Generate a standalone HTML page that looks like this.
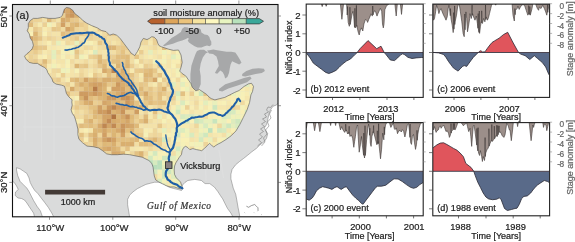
<!DOCTYPE html><html><head><meta charset="utf-8"><style>html,body{margin:0;padding:0;background:#fff;overflow:hidden}svg{display:block}</style></head><body><svg width="575" height="242" viewBox="0 0 575 242" font-family="'Liberation Sans', sans-serif">
<rect width="575" height="242" fill="#fff"/>
<clipPath id="mapclip"><rect x="12.5" y="4.5" width="265.5" height="212.3"/></clipPath>
<clipPath id="basin"><path d="M27.2,30.8 L28.3,27.7 L28.3,23.6 L30.3,20.5 L33.4,18.4 L37.6,18.4 L42.7,17.4 L48.9,18.4 L55.1,18.4 L60.3,17.4 L62.4,15.3 L63.4,12.2 L64.4,9.1 L66.5,7.5 L69.6,8.1 L72.7,10.2 L74.8,13.6 L79.6,17.2 L83.2,20.8 L86.8,23.2 L91.6,25.6 L97.6,28 L101.2,30.4 L106,31.6 L109.6,35.2 L113.2,34 L116.8,35.2 L120.4,38.8 L124,43.6 L127.6,48.4 L131.2,53.2 L134.7,55.6 L137.4,51.6 L139.8,46.8 L141,42 L143.4,38.4 L147,39.6 L149.4,38.4 L151.8,36.7 L154.2,37.2 L156.6,39.6 L157.8,43.2 L159,45.6 L161.4,46.8 L165,48 L168.6,49.2 L173.4,50.4 L178.5,50 L181,55 L182.2,62.4 L181,67.4 L179.7,71.1 L182.2,73.6 L185.9,76.1 L188.4,79.8 L190.9,83.5 L192.2,87.2 L195.8,90.8 L199.4,89.6 L203,92 L206.6,94.4 L209,97 L211.2,98.6 L214.9,99.9 L219.9,98.6 L224.8,97.4 L229.8,94.9 L234.7,92.4 L239.1,90.5 L244.2,86.4 L248.4,83.9 L251.5,83.3 L253.5,86.4 L252.5,91.6 L250.9,94.9 L249.6,102.4 L247.1,109.8 L243.4,117.3 L239.7,124.7 L236,130.9 L231,135.9 L226,139.5 L221,142.6 L218.2,144 L215.7,145.5 L213.6,147.1 L211.5,145 L209.5,143.4 L207.4,145.5 L204.8,148.1 L201.7,150.7 L199.6,150.2 L196.5,149.6 L192.9,148.6 L189.8,149.6 L187.8,147.6 L185.7,146.3 L183.6,147.6 L182.1,150.7 L181.5,154.5 L179.3,157.3 L177.4,160.4 L175.8,162.9 L174.6,166 L174.2,170 L174.5,174.3 L176.3,177.8 L178.9,180.4 L180.6,182.1 L181.5,185 L182.8,188.2 L180.9,188.8 L178,188.2 L174.1,186.9 L170.2,186.9 L166.3,185.7 L162.4,183.8 L158.6,181.8 L155.7,179.9 L154.3,176 L153.7,172.1 L153.1,167.3 L151.8,163.4 L148.9,160.5 L145,158.6 L142.2,157.2 L136,156 L129.8,154.7 L123.6,154.2 L117.4,154.7 L111.2,154.7 L106.7,153.9 L102.6,150.7 L98.6,148 L93.2,146.7 L87,146.1 L82.5,142.7 L79,139.3 L77.9,134.8 L77.9,129.1 L76.8,124.5 L75.6,120 L74.5,116.6 L72.2,113.2 L71.1,109.8 L72.2,105.2 L71.8,102 L72.1,99.7 L70.6,98.6 L68.5,96.5 L66.4,93.4 L65.4,89.3 L64.4,86.2 L61.3,85.1 L56.1,84.1 L53,82 L52,78.9 L49.9,75.8 L47.8,72.7 L46.8,69.6 L44.7,67.6 L40.6,65.5 L37.5,63.4 L33.4,63.4 L29.2,62.4 L26.1,59.3 L24.5,56.2 L27.2,53.5 L30.3,51 L32.4,48.4 L33.4,45.3 L32.4,41.2 L30.3,38.1 L29.3,33.9Z"/></clipPath>
<g clip-path="url(#mapclip)">
<rect x="12.5" y="4.5" width="265.5" height="212.3" fill="#dadbdb"/>
<path d="M129.7,217.5 L128.7,211.2 L127.6,204.8 L127.6,199.4 L129.7,195.1 L133,191.9 L137.3,188.7 L141.6,186.5 L145.9,184.4 L150.2,183.3 L154.5,182.2 L158.8,182.2 L163.1,183.3 L166,185.3 L168.9,187.1 L173.6,188.5 L178.3,189.6 L181.5,190.5 L183,188.5 L181.5,186.8 L183,184.5 L185,182.4 L187.8,180.5 L194.8,179.4 L201.4,180.5 L205,183.6 L209.7,183.6 L214.4,187.1 L218,191.8 L220.3,195.4 L222.7,198.9 L225,203.6 L227.4,208.3 L230.9,213.1 L233.3,217.5Z" fill="#fff" stroke="#777" stroke-width="0.5"/>
<path d="M239.9,217.5 L239.2,213.1 L238,207.2 L236.8,200.1 L235.7,194.2 L233.3,188.3 L232.1,183.6 L230.9,178.9 L230.9,174.2 L232.1,169.4 L235.7,164.7 L239.5,161.5 L243.5,158.5 L247.3,155.5 L251.8,151.8 L256.4,148.4 L259.8,145 L264.3,141.6 L266.6,138.2 L267.7,133.6 L264.3,128 L266.6,124.5 L267.7,120 L268.8,114.5 L269.8,111.4 L270.9,109.3 L273,106.2 L276,105.2 L278.5,103 L278.5,217.5Z" fill="#fff" stroke="#777" stroke-width="0.5"/>
<path d="M12,181 L14.3,182.5 L16.5,185.9 L18.3,189.5 L15.5,192 L15.2,195.5 L18,198 L21.5,198.5 L24.5,200 L26.8,202.9 L29,206.3 L31.3,209.7 L33.6,213.1 L34.7,217.5 L12,217.5Z" fill="#fff" stroke="#777" stroke-width="0.5"/>
<path d="M16.5,167.7 L20,168.8 L23.4,171.1 L26.8,173.4 L29,177.9 L30.2,182.5 L32.5,187 L34.7,190.4 L38.1,193.8 L41.5,198.4 L45,202.9 L48.4,207.5 L51.8,213.1 L54,217.5 L42.7,217.5 L40.4,210.9 L37,206.3 L33.6,200.6 L31.3,196.1 L29,191.5 L26.8,188.1 L23.4,184.7 L20,181.3 L17.7,175.6 L16.5,170Z" fill="#fff" stroke="#777" stroke-width="0.5"/>
<path d="M273,104.5 L270.5,107.5 L268,107 L266.5,110 L268.5,112 L264.5,114 L266.5,117 L262.5,119 L265.5,121.5 L261.5,124 L264.5,126.5 L260.5,129 L263.5,131.5 L259.5,134 L262.5,137 L258.5,140 L261.5,142.5 L257.5,146 M271.5,110 L269.5,114 L271,118 L267.5,122 L269,126 L265.5,130 L267,134 L263.5,138 L265,142 L261.5,146" fill="none" stroke="#6a6a6a" stroke-width="0.5"/>
<path d="M246.4,206.2 L248.6,207.3 L251.4,205.6 L254.7,204.5 L256.4,206.2 L258,207.8 L258,210.6 L257.5,211.2" fill="none" stroke="#555" stroke-width="0.6"/>
<path d="M244.5,212.5 l0.6,0.6 M254,212.5 l0.6,0.6 M261.2,214.3 l0.6,0.6" fill="none" stroke="#777" stroke-width="0.6"/>
<line x1="205" y1="147.5" x2="206" y2="181" stroke="#e2e3e3" stroke-width="0.5"/>
<line x1="219" y1="150" x2="223.5" y2="178" stroke="#e2e3e3" stroke-width="0.5"/>
<line x1="25" y1="60" x2="25" y2="141" stroke="#e2e3e3" stroke-width="0.5"/>
<line x1="41.5" y1="66" x2="41.5" y2="160" stroke="#e2e3e3" stroke-width="0.5"/>
<line x1="54" y1="85" x2="54" y2="160" stroke="#e2e3e3" stroke-width="0.5"/>
<line x1="12.5" y1="87.5" x2="60" y2="87.5" stroke="#e2e3e3" stroke-width="0.5"/>
<line x1="23" y1="127" x2="72" y2="127" stroke="#e2e3e3" stroke-width="0.5"/>
<path d="M163,45.5 L166.7,42.4 L171.6,38.1 L176.6,35 L180.9,31.9 L182.2,28.8 L184.6,27 L187.7,27.6 L190.8,29.4 L195.2,29.4 L198.9,28.2 L200.8,29.4 L201.4,32.5 L204.5,34.4 L207.6,35 L209.4,36.9 L210,39.3 L211.3,41.8 L211.3,44.9 L209.4,46.2 L207,45.5 L204.5,46.2 L201.4,47.4 L197.7,47.4 L194.6,46.2 L191.5,44.3 L189,42.4 L187.7,40.6 L189,38.7 L187.7,38.1 L185.3,39.3 L182.2,40.6 L177.8,41.8 L172.9,43.7 L167.9,44.9 L164.2,46.2Z" fill="#a7a8a9"/>
<path d="M208,52.5 L205.9,53.3 L202.8,57.4 L200.7,63.6 L199.7,69.8 L200.7,76 L200.7,84.3 L198.6,89.5 L195.5,91 L193.5,89.5 L191.4,85.4 L190.4,80.2 L190.4,74 L191.4,65.7 L193.5,59.5 L195.5,54 L197,51 L200,49.8 L204,49.8Z" fill="#a7a8a9"/>
<path d="M207,50.5 L209.4,50.3 L213.3,49.5 L217.2,50.3 L221.9,51.1 L226.6,51.8 L231.3,51.8 L235.3,52.6 L237.6,55.8 L240,59.7 L241.5,62.8 L239.2,64.4 L235.3,62.8 L232.1,61.2 L230.6,64.4 L229.8,68.3 L229,73 L227.4,76.9 L225.1,78.5 L224.3,75.3 L222.7,72.2 L220.4,70.6 L217.2,73.8 L214.9,73 L216.5,69.9 L218.8,66 L218,61.2 L216.5,56.5 L213,54 L209,53.5Z" fill="#a7a8a9"/>
<path d="M219,89 L225.3,84.3 L234.6,81.2 L244,78.1 L250.1,76.5 L251.6,78.5 L247,82.2 L237.7,85.5 L228.4,88.6 L222.2,91.5 L219,90.8Z" fill="#a7a8a9"/>
<path d="M242.2,74 L246.3,70.9 L252.5,68.8 L258.7,68.2 L263.9,68.8 L264.9,70.9 L261.8,73 L255.6,74 L249.4,75.6 L245.3,76.5 L242.2,76.1Z" fill="#a7a8a9"/>
<g clip-path="url(#basin)"><rect x="24" y="4" width="4.75" height="4.75" fill="#e6c688"/><rect x="28.6" y="4" width="4.75" height="4.75" fill="#edd499"/><rect x="33.2" y="4" width="4.75" height="4.75" fill="#e7c789"/><rect x="37.8" y="4" width="4.75" height="4.75" fill="#e6c587"/><rect x="42.4" y="4" width="4.75" height="4.75" fill="#dfba7a"/><rect x="47" y="4" width="4.75" height="4.75" fill="#e7c789"/><rect x="51.6" y="4" width="4.75" height="4.75" fill="#f2dfa5"/><rect x="56.2" y="4" width="4.75" height="4.75" fill="#e9cb8e"/><rect x="60.8" y="4" width="4.75" height="4.75" fill="#e0bc7c"/><rect x="65.4" y="4" width="4.75" height="4.75" fill="#cf9d61"/><rect x="70" y="4" width="4.75" height="4.75" fill="#d5a769"/><rect x="74.6" y="4" width="4.75" height="4.75" fill="#d9ae6e"/><rect x="79.2" y="4" width="4.75" height="4.75" fill="#d1a063"/><rect x="83.8" y="4" width="4.75" height="4.75" fill="#f0daa0"/><rect x="88.4" y="4" width="4.75" height="4.75" fill="#edd499"/><rect x="93" y="4" width="4.75" height="4.75" fill="#edd498"/><rect x="97.6" y="4" width="4.75" height="4.75" fill="#d8ac6d"/><rect x="102.2" y="4" width="4.75" height="4.75" fill="#d7ab6c"/><rect x="106.8" y="4" width="4.75" height="4.75" fill="#e0bb7b"/><rect x="111.4" y="4" width="4.75" height="4.75" fill="#e4c284"/><rect x="116" y="4" width="4.75" height="4.75" fill="#ebd094"/><rect x="120.6" y="4" width="4.75" height="4.75" fill="#e9ca8d"/><rect x="125.2" y="4" width="4.75" height="4.75" fill="#edd499"/><rect x="129.8" y="4" width="4.75" height="4.75" fill="#e2bf80"/><rect x="134.4" y="4" width="4.75" height="4.75" fill="#ebd094"/><rect x="139" y="4" width="4.75" height="4.75" fill="#ecd296"/><rect x="143.6" y="4" width="4.75" height="4.75" fill="#e2bf80"/><rect x="148.2" y="4" width="4.75" height="4.75" fill="#f5e7ad"/><rect x="152.8" y="4" width="4.75" height="4.75" fill="#edd59a"/><rect x="157.4" y="4" width="4.75" height="4.75" fill="#f5e5ac"/><rect x="162" y="4" width="4.75" height="4.75" fill="#f2dfa6"/><rect x="166.6" y="4" width="4.75" height="4.75" fill="#f7eab1"/><rect x="171.2" y="4" width="4.75" height="4.75" fill="#f9efb5"/><rect x="175.8" y="4" width="4.75" height="4.75" fill="#f7f0b7"/><rect x="180.4" y="4" width="4.75" height="4.75" fill="#edf1ba"/><rect x="185" y="4" width="4.75" height="4.75" fill="#f2f1b8"/><rect x="189.6" y="4" width="4.75" height="4.75" fill="#f8eeb4"/><rect x="194.2" y="4" width="4.75" height="4.75" fill="#f6e8ae"/><rect x="198.8" y="4" width="4.75" height="4.75" fill="#f8edb3"/><rect x="203.4" y="4" width="4.75" height="4.75" fill="#ddecbd"/><rect x="208" y="4" width="4.75" height="4.75" fill="#f6e9b0"/><rect x="212.6" y="4" width="4.75" height="4.75" fill="#f2f1b8"/><rect x="217.2" y="4" width="4.75" height="4.75" fill="#f0f1b9"/><rect x="221.8" y="4" width="4.75" height="4.75" fill="#f3e1a8"/><rect x="226.4" y="4" width="4.75" height="4.75" fill="#f5f0b7"/><rect x="231" y="4" width="4.75" height="4.75" fill="#dbecbd"/><rect x="235.6" y="4" width="4.75" height="4.75" fill="#efd89d"/><rect x="240.2" y="4" width="4.75" height="4.75" fill="#f9efb5"/><rect x="244.8" y="4" width="4.75" height="4.75" fill="#f7f0b7"/><rect x="249.4" y="4" width="4.75" height="4.75" fill="#f6e9b0"/><rect x="254" y="4" width="4.75" height="4.75" fill="#eff1ba"/><rect x="24" y="8.6" width="4.75" height="4.75" fill="#e9cb8e"/><rect x="28.6" y="8.6" width="4.75" height="4.75" fill="#dbb271"/><rect x="33.2" y="8.6" width="4.75" height="4.75" fill="#f0dba1"/><rect x="37.8" y="8.6" width="4.75" height="4.75" fill="#efd99e"/><rect x="42.4" y="8.6" width="4.75" height="4.75" fill="#f2dfa6"/><rect x="47" y="8.6" width="4.75" height="4.75" fill="#f5e6ad"/><rect x="51.6" y="8.6" width="4.75" height="4.75" fill="#edd498"/><rect x="56.2" y="8.6" width="4.75" height="4.75" fill="#e7c78a"/><rect x="60.8" y="8.6" width="4.75" height="4.75" fill="#cb975d"/><rect x="65.4" y="8.6" width="4.75" height="4.75" fill="#d5a769"/><rect x="70" y="8.6" width="4.75" height="4.75" fill="#cd995f"/><rect x="74.6" y="8.6" width="4.75" height="4.75" fill="#d3a467"/><rect x="79.2" y="8.6" width="4.75" height="4.75" fill="#d5a669"/><rect x="83.8" y="8.6" width="4.75" height="4.75" fill="#deb878"/><rect x="88.4" y="8.6" width="4.75" height="4.75" fill="#e4c283"/><rect x="93" y="8.6" width="4.75" height="4.75" fill="#f4e2a9"/><rect x="97.6" y="8.6" width="4.75" height="4.75" fill="#d5a769"/><rect x="102.2" y="8.6" width="4.75" height="4.75" fill="#dab070"/><rect x="106.8" y="8.6" width="4.75" height="4.75" fill="#ebcf93"/><rect x="111.4" y="8.6" width="4.75" height="4.75" fill="#f4e3aa"/><rect x="116" y="8.6" width="4.75" height="4.75" fill="#eed59a"/><rect x="120.6" y="8.6" width="4.75" height="4.75" fill="#d6a96a"/><rect x="125.2" y="8.6" width="4.75" height="4.75" fill="#d09e62"/><rect x="129.8" y="8.6" width="4.75" height="4.75" fill="#ecd195"/><rect x="134.4" y="8.6" width="4.75" height="4.75" fill="#e1bd7e"/><rect x="139" y="8.6" width="4.75" height="4.75" fill="#ddb676"/><rect x="143.6" y="8.6" width="4.75" height="4.75" fill="#f1dca2"/><rect x="148.2" y="8.6" width="4.75" height="4.75" fill="#f2dea5"/><rect x="152.8" y="8.6" width="4.75" height="4.75" fill="#eace91"/><rect x="157.4" y="8.6" width="4.75" height="4.75" fill="#eed69b"/><rect x="162" y="8.6" width="4.75" height="4.75" fill="#f8ecb3"/><rect x="166.6" y="8.6" width="4.75" height="4.75" fill="#d5eabe"/><rect x="171.2" y="8.6" width="4.75" height="4.75" fill="#edf1ba"/><rect x="175.8" y="8.6" width="4.75" height="4.75" fill="#eff1ba"/><rect x="180.4" y="8.6" width="4.75" height="4.75" fill="#eef1ba"/><rect x="185" y="8.6" width="4.75" height="4.75" fill="#f2e0a7"/><rect x="189.6" y="8.6" width="4.75" height="4.75" fill="#dcecbd"/><rect x="194.2" y="8.6" width="4.75" height="4.75" fill="#e4eebc"/><rect x="198.8" y="8.6" width="4.75" height="4.75" fill="#eff1ba"/><rect x="203.4" y="8.6" width="4.75" height="4.75" fill="#efd99e"/><rect x="208" y="8.6" width="4.75" height="4.75" fill="#f7ebb2"/><rect x="212.6" y="8.6" width="4.75" height="4.75" fill="#e7efbb"/><rect x="217.2" y="8.6" width="4.75" height="4.75" fill="#f1dca2"/><rect x="221.8" y="8.6" width="4.75" height="4.75" fill="#f8f0b6"/><rect x="226.4" y="8.6" width="4.75" height="4.75" fill="#e2eebc"/><rect x="231" y="8.6" width="4.75" height="4.75" fill="#f4e3aa"/><rect x="235.6" y="8.6" width="4.75" height="4.75" fill="#d4eabe"/><rect x="240.2" y="8.6" width="4.75" height="4.75" fill="#eef1ba"/><rect x="244.8" y="8.6" width="4.75" height="4.75" fill="#f8f0b6"/><rect x="249.4" y="8.6" width="4.75" height="4.75" fill="#f1f1b9"/><rect x="254" y="8.6" width="4.75" height="4.75" fill="#ecf1ba"/><rect x="24" y="13.2" width="4.75" height="4.75" fill="#edd498"/><rect x="28.6" y="13.2" width="4.75" height="4.75" fill="#f4e4ab"/><rect x="33.2" y="13.2" width="4.75" height="4.75" fill="#e6c688"/><rect x="37.8" y="13.2" width="4.75" height="4.75" fill="#eacc8f"/><rect x="42.4" y="13.2" width="4.75" height="4.75" fill="#f6e9b0"/><rect x="47" y="13.2" width="4.75" height="4.75" fill="#f2dea4"/><rect x="51.6" y="13.2" width="4.75" height="4.75" fill="#e7c789"/><rect x="56.2" y="13.2" width="4.75" height="4.75" fill="#f1dca2"/><rect x="60.8" y="13.2" width="4.75" height="4.75" fill="#ebd094"/><rect x="65.4" y="13.2" width="4.75" height="4.75" fill="#d1a064"/><rect x="70" y="13.2" width="4.75" height="4.75" fill="#ca965c"/><rect x="74.6" y="13.2" width="4.75" height="4.75" fill="#dab170"/><rect x="79.2" y="13.2" width="4.75" height="4.75" fill="#dfba7a"/><rect x="83.8" y="13.2" width="4.75" height="4.75" fill="#e3c081"/><rect x="88.4" y="13.2" width="4.75" height="4.75" fill="#f4e4ab"/><rect x="93" y="13.2" width="4.75" height="4.75" fill="#e2be7f"/><rect x="97.6" y="13.2" width="4.75" height="4.75" fill="#f4e3aa"/><rect x="102.2" y="13.2" width="4.75" height="4.75" fill="#dcb473"/><rect x="106.8" y="13.2" width="4.75" height="4.75" fill="#e1bd7d"/><rect x="111.4" y="13.2" width="4.75" height="4.75" fill="#eed69b"/><rect x="116" y="13.2" width="4.75" height="4.75" fill="#f2dfa5"/><rect x="120.6" y="13.2" width="4.75" height="4.75" fill="#f0daa0"/><rect x="125.2" y="13.2" width="4.75" height="4.75" fill="#ecd195"/><rect x="129.8" y="13.2" width="4.75" height="4.75" fill="#eace91"/><rect x="134.4" y="13.2" width="4.75" height="4.75" fill="#eace91"/><rect x="139" y="13.2" width="4.75" height="4.75" fill="#eed59a"/><rect x="143.6" y="13.2" width="4.75" height="4.75" fill="#e7c88a"/><rect x="148.2" y="13.2" width="4.75" height="4.75" fill="#ebd094"/><rect x="152.8" y="13.2" width="4.75" height="4.75" fill="#eed59a"/><rect x="157.4" y="13.2" width="4.75" height="4.75" fill="#ecd296"/><rect x="162" y="13.2" width="4.75" height="4.75" fill="#f9f0b6"/><rect x="166.6" y="13.2" width="4.75" height="4.75" fill="#eef1ba"/><rect x="171.2" y="13.2" width="4.75" height="4.75" fill="#cde7bd"/><rect x="175.8" y="13.2" width="4.75" height="4.75" fill="#f1f1b9"/><rect x="180.4" y="13.2" width="4.75" height="4.75" fill="#f8eeb4"/><rect x="185" y="13.2" width="4.75" height="4.75" fill="#f8efb5"/><rect x="189.6" y="13.2" width="4.75" height="4.75" fill="#f6f0b7"/><rect x="194.2" y="13.2" width="4.75" height="4.75" fill="#e5efbc"/><rect x="198.8" y="13.2" width="4.75" height="4.75" fill="#f9efb5"/><rect x="203.4" y="13.2" width="4.75" height="4.75" fill="#f1f1b9"/><rect x="208" y="13.2" width="4.75" height="4.75" fill="#d0e8bd"/><rect x="212.6" y="13.2" width="4.75" height="4.75" fill="#eace92"/><rect x="217.2" y="13.2" width="4.75" height="4.75" fill="#f5e6ac"/><rect x="221.8" y="13.2" width="4.75" height="4.75" fill="#f2f1b8"/><rect x="226.4" y="13.2" width="4.75" height="4.75" fill="#f0f1b9"/><rect x="231" y="13.2" width="4.75" height="4.75" fill="#f3f1b8"/><rect x="235.6" y="13.2" width="4.75" height="4.75" fill="#f8eeb4"/><rect x="240.2" y="13.2" width="4.75" height="4.75" fill="#ecf0ba"/><rect x="244.8" y="13.2" width="4.75" height="4.75" fill="#f2f1b9"/><rect x="249.4" y="13.2" width="4.75" height="4.75" fill="#f8edb3"/><rect x="254" y="13.2" width="4.75" height="4.75" fill="#c5e4bc"/><rect x="24" y="17.8" width="4.75" height="4.75" fill="#f0dba0"/><rect x="28.6" y="17.8" width="4.75" height="4.75" fill="#e9ca8d"/><rect x="33.2" y="17.8" width="4.75" height="4.75" fill="#ecd296"/><rect x="37.8" y="17.8" width="4.75" height="4.75" fill="#edd397"/><rect x="42.4" y="17.8" width="4.75" height="4.75" fill="#f3e1a8"/><rect x="47" y="17.8" width="4.75" height="4.75" fill="#deb777"/><rect x="51.6" y="17.8" width="4.75" height="4.75" fill="#edd599"/><rect x="56.2" y="17.8" width="4.75" height="4.75" fill="#f3e2a9"/><rect x="60.8" y="17.8" width="4.75" height="4.75" fill="#d6a96b"/><rect x="65.4" y="17.8" width="4.75" height="4.75" fill="#dbb171"/><rect x="70" y="17.8" width="4.75" height="4.75" fill="#e7c78a"/><rect x="74.6" y="17.8" width="4.75" height="4.75" fill="#e8c98c"/><rect x="79.2" y="17.8" width="4.75" height="4.75" fill="#efd89e"/><rect x="83.8" y="17.8" width="4.75" height="4.75" fill="#d4a568"/><rect x="88.4" y="17.8" width="4.75" height="4.75" fill="#e8c98c"/><rect x="93" y="17.8" width="4.75" height="4.75" fill="#ebd094"/><rect x="97.6" y="17.8" width="4.75" height="4.75" fill="#f1dca2"/><rect x="102.2" y="17.8" width="4.75" height="4.75" fill="#f3e1a8"/><rect x="106.8" y="17.8" width="4.75" height="4.75" fill="#cf9d61"/><rect x="111.4" y="17.8" width="4.75" height="4.75" fill="#f2dfa6"/><rect x="116" y="17.8" width="4.75" height="4.75" fill="#dab171"/><rect x="120.6" y="17.8" width="4.75" height="4.75" fill="#eed79c"/><rect x="125.2" y="17.8" width="4.75" height="4.75" fill="#dab070"/><rect x="129.8" y="17.8" width="4.75" height="4.75" fill="#eace92"/><rect x="134.4" y="17.8" width="4.75" height="4.75" fill="#f3e0a7"/><rect x="139" y="17.8" width="4.75" height="4.75" fill="#e7c88b"/><rect x="143.6" y="17.8" width="4.75" height="4.75" fill="#ebce92"/><rect x="148.2" y="17.8" width="4.75" height="4.75" fill="#efd99f"/><rect x="152.8" y="17.8" width="4.75" height="4.75" fill="#eacd91"/><rect x="157.4" y="17.8" width="4.75" height="4.75" fill="#ebd094"/><rect x="162" y="17.8" width="4.75" height="4.75" fill="#eef1ba"/><rect x="166.6" y="17.8" width="4.75" height="4.75" fill="#e2eebc"/><rect x="171.2" y="17.8" width="4.75" height="4.75" fill="#f9efb6"/><rect x="175.8" y="17.8" width="4.75" height="4.75" fill="#bfe1bc"/><rect x="180.4" y="17.8" width="4.75" height="4.75" fill="#f5e5ac"/><rect x="185" y="17.8" width="4.75" height="4.75" fill="#e5efbc"/><rect x="189.6" y="17.8" width="4.75" height="4.75" fill="#f9f0b6"/><rect x="194.2" y="17.8" width="4.75" height="4.75" fill="#f4f0b8"/><rect x="198.8" y="17.8" width="4.75" height="4.75" fill="#ebf0bb"/><rect x="203.4" y="17.8" width="4.75" height="4.75" fill="#f3f1b8"/><rect x="208" y="17.8" width="4.75" height="4.75" fill="#edf1ba"/><rect x="212.6" y="17.8" width="4.75" height="4.75" fill="#f3e1a7"/><rect x="217.2" y="17.8" width="4.75" height="4.75" fill="#f3e1a8"/><rect x="221.8" y="17.8" width="4.75" height="4.75" fill="#edf1ba"/><rect x="226.4" y="17.8" width="4.75" height="4.75" fill="#f6e7ae"/><rect x="231" y="17.8" width="4.75" height="4.75" fill="#f5e7ad"/><rect x="235.6" y="17.8" width="4.75" height="4.75" fill="#f3e1a8"/><rect x="240.2" y="17.8" width="4.75" height="4.75" fill="#dcecbd"/><rect x="244.8" y="17.8" width="4.75" height="4.75" fill="#eaf0bb"/><rect x="249.4" y="17.8" width="4.75" height="4.75" fill="#d7ebbe"/><rect x="254" y="17.8" width="4.75" height="4.75" fill="#f6e8ae"/><rect x="24" y="22.4" width="4.75" height="4.75" fill="#ecd195"/><rect x="28.6" y="22.4" width="4.75" height="4.75" fill="#e0bb7c"/><rect x="33.2" y="22.4" width="4.75" height="4.75" fill="#f0dba1"/><rect x="37.8" y="22.4" width="4.75" height="4.75" fill="#f6e9af"/><rect x="42.4" y="22.4" width="4.75" height="4.75" fill="#ebd094"/><rect x="47" y="22.4" width="4.75" height="4.75" fill="#f0f1b9"/><rect x="51.6" y="22.4" width="4.75" height="4.75" fill="#f7eab1"/><rect x="56.2" y="22.4" width="4.75" height="4.75" fill="#eace92"/><rect x="60.8" y="22.4" width="4.75" height="4.75" fill="#d1a064"/><rect x="65.4" y="22.4" width="4.75" height="4.75" fill="#edd397"/><rect x="70" y="22.4" width="4.75" height="4.75" fill="#dfb979"/><rect x="74.6" y="22.4" width="4.75" height="4.75" fill="#dbb372"/><rect x="79.2" y="22.4" width="4.75" height="4.75" fill="#e9cb8e"/><rect x="83.8" y="22.4" width="4.75" height="4.75" fill="#edd397"/><rect x="88.4" y="22.4" width="4.75" height="4.75" fill="#f7ecb2"/><rect x="93" y="22.4" width="4.75" height="4.75" fill="#e9cc8f"/><rect x="97.6" y="22.4" width="4.75" height="4.75" fill="#f7eab1"/><rect x="102.2" y="22.4" width="4.75" height="4.75" fill="#f8ecb3"/><rect x="106.8" y="22.4" width="4.75" height="4.75" fill="#f6e9af"/><rect x="111.4" y="22.4" width="4.75" height="4.75" fill="#e9cc8f"/><rect x="116" y="22.4" width="4.75" height="4.75" fill="#e2bf80"/><rect x="120.6" y="22.4" width="4.75" height="4.75" fill="#f1dda3"/><rect x="125.2" y="22.4" width="4.75" height="4.75" fill="#eacd90"/><rect x="129.8" y="22.4" width="4.75" height="4.75" fill="#eacd91"/><rect x="134.4" y="22.4" width="4.75" height="4.75" fill="#f4e3aa"/><rect x="139" y="22.4" width="4.75" height="4.75" fill="#e6c688"/><rect x="143.6" y="22.4" width="4.75" height="4.75" fill="#d2a265"/><rect x="148.2" y="22.4" width="4.75" height="4.75" fill="#e5c486"/><rect x="152.8" y="22.4" width="4.75" height="4.75" fill="#d6a96b"/><rect x="157.4" y="22.4" width="4.75" height="4.75" fill="#f3e0a7"/><rect x="162" y="22.4" width="4.75" height="4.75" fill="#f7ebb1"/><rect x="166.6" y="22.4" width="4.75" height="4.75" fill="#f7ecb2"/><rect x="171.2" y="22.4" width="4.75" height="4.75" fill="#f6f0b7"/><rect x="175.8" y="22.4" width="4.75" height="4.75" fill="#e7efbb"/><rect x="180.4" y="22.4" width="4.75" height="4.75" fill="#f5f0b8"/><rect x="185" y="22.4" width="4.75" height="4.75" fill="#daecbe"/><rect x="189.6" y="22.4" width="4.75" height="4.75" fill="#f7f0b7"/><rect x="194.2" y="22.4" width="4.75" height="4.75" fill="#e2eebc"/><rect x="198.8" y="22.4" width="4.75" height="4.75" fill="#d7eabe"/><rect x="203.4" y="22.4" width="4.75" height="4.75" fill="#d4eabe"/><rect x="208" y="22.4" width="4.75" height="4.75" fill="#f7ebb1"/><rect x="212.6" y="22.4" width="4.75" height="4.75" fill="#e6efbb"/><rect x="217.2" y="22.4" width="4.75" height="4.75" fill="#f0daa0"/><rect x="221.8" y="22.4" width="4.75" height="4.75" fill="#f5e6ad"/><rect x="226.4" y="22.4" width="4.75" height="4.75" fill="#efd99e"/><rect x="231" y="22.4" width="4.75" height="4.75" fill="#e1eebc"/><rect x="235.6" y="22.4" width="4.75" height="4.75" fill="#f4e4ab"/><rect x="240.2" y="22.4" width="4.75" height="4.75" fill="#f6f0b7"/><rect x="244.8" y="22.4" width="4.75" height="4.75" fill="#f8f0b6"/><rect x="249.4" y="22.4" width="4.75" height="4.75" fill="#f6f0b7"/><rect x="254" y="22.4" width="4.75" height="4.75" fill="#f7ecb2"/><rect x="24" y="27" width="4.75" height="4.75" fill="#ecd296"/><rect x="28.6" y="27" width="4.75" height="4.75" fill="#f6e9af"/><rect x="33.2" y="27" width="4.75" height="4.75" fill="#e8c98c"/><rect x="37.8" y="27" width="4.75" height="4.75" fill="#edd499"/><rect x="42.4" y="27" width="4.75" height="4.75" fill="#f7eab0"/><rect x="47" y="27" width="4.75" height="4.75" fill="#f4e2a9"/><rect x="51.6" y="27" width="4.75" height="4.75" fill="#e6c688"/><rect x="56.2" y="27" width="4.75" height="4.75" fill="#e8c98b"/><rect x="60.8" y="27" width="4.75" height="4.75" fill="#f0dba1"/><rect x="65.4" y="27" width="4.75" height="4.75" fill="#d3a366"/><rect x="70" y="27" width="4.75" height="4.75" fill="#ddb574"/><rect x="74.6" y="27" width="4.75" height="4.75" fill="#edd499"/><rect x="79.2" y="27" width="4.75" height="4.75" fill="#efd89d"/><rect x="83.8" y="27" width="4.75" height="4.75" fill="#ecd296"/><rect x="88.4" y="27" width="4.75" height="4.75" fill="#f6e8ae"/><rect x="93" y="27" width="4.75" height="4.75" fill="#f4e5ab"/><rect x="97.6" y="27" width="4.75" height="4.75" fill="#eacc8f"/><rect x="102.2" y="27" width="4.75" height="4.75" fill="#e4c283"/><rect x="106.8" y="27" width="4.75" height="4.75" fill="#eacd90"/><rect x="111.4" y="27" width="4.75" height="4.75" fill="#f4e3a9"/><rect x="116" y="27" width="4.75" height="4.75" fill="#e5c587"/><rect x="120.6" y="27" width="4.75" height="4.75" fill="#e0bb7b"/><rect x="125.2" y="27" width="4.75" height="4.75" fill="#e1bd7e"/><rect x="129.8" y="27" width="4.75" height="4.75" fill="#d9af6f"/><rect x="134.4" y="27" width="4.75" height="4.75" fill="#e8c98c"/><rect x="139" y="27" width="4.75" height="4.75" fill="#ddb676"/><rect x="143.6" y="27" width="4.75" height="4.75" fill="#edd397"/><rect x="148.2" y="27" width="4.75" height="4.75" fill="#d2a265"/><rect x="152.8" y="27" width="4.75" height="4.75" fill="#edd398"/><rect x="157.4" y="27" width="4.75" height="4.75" fill="#e8c88b"/><rect x="162" y="27" width="4.75" height="4.75" fill="#e7c789"/><rect x="166.6" y="27" width="4.75" height="4.75" fill="#eef1ba"/><rect x="171.2" y="27" width="4.75" height="4.75" fill="#f8eeb5"/><rect x="175.8" y="27" width="4.75" height="4.75" fill="#edd397"/><rect x="180.4" y="27" width="4.75" height="4.75" fill="#f6e8af"/><rect x="185" y="27" width="4.75" height="4.75" fill="#f2f1b9"/><rect x="189.6" y="27" width="4.75" height="4.75" fill="#f8edb4"/><rect x="194.2" y="27" width="4.75" height="4.75" fill="#e9f0bb"/><rect x="198.8" y="27" width="4.75" height="4.75" fill="#eaf0bb"/><rect x="203.4" y="27" width="4.75" height="4.75" fill="#ecf0ba"/><rect x="208" y="27" width="4.75" height="4.75" fill="#f1f1b9"/><rect x="212.6" y="27" width="4.75" height="4.75" fill="#daecbe"/><rect x="217.2" y="27" width="4.75" height="4.75" fill="#ecf0ba"/><rect x="221.8" y="27" width="4.75" height="4.75" fill="#f0f1b9"/><rect x="226.4" y="27" width="4.75" height="4.75" fill="#eed79c"/><rect x="231" y="27" width="4.75" height="4.75" fill="#e6efbc"/><rect x="235.6" y="27" width="4.75" height="4.75" fill="#dbecbd"/><rect x="240.2" y="27" width="4.75" height="4.75" fill="#f9efb5"/><rect x="244.8" y="27" width="4.75" height="4.75" fill="#f8edb4"/><rect x="249.4" y="27" width="4.75" height="4.75" fill="#cee7bd"/><rect x="254" y="27" width="4.75" height="4.75" fill="#f1dca3"/><rect x="24" y="31.6" width="4.75" height="4.75" fill="#eed69b"/><rect x="28.6" y="31.6" width="4.75" height="4.75" fill="#f9f0b6"/><rect x="33.2" y="31.6" width="4.75" height="4.75" fill="#ddb574"/><rect x="37.8" y="31.6" width="4.75" height="4.75" fill="#ecd397"/><rect x="42.4" y="31.6" width="4.75" height="4.75" fill="#f8f0b6"/><rect x="47" y="31.6" width="4.75" height="4.75" fill="#f2dea5"/><rect x="51.6" y="31.6" width="4.75" height="4.75" fill="#f4e3aa"/><rect x="56.2" y="31.6" width="4.75" height="4.75" fill="#f4e3a9"/><rect x="60.8" y="31.6" width="4.75" height="4.75" fill="#e1bc7d"/><rect x="65.4" y="31.6" width="4.75" height="4.75" fill="#e6c688"/><rect x="70" y="31.6" width="4.75" height="4.75" fill="#e9cb8e"/><rect x="74.6" y="31.6" width="4.75" height="4.75" fill="#edd499"/><rect x="79.2" y="31.6" width="4.75" height="4.75" fill="#eacd90"/><rect x="83.8" y="31.6" width="4.75" height="4.75" fill="#ecd296"/><rect x="88.4" y="31.6" width="4.75" height="4.75" fill="#e9cc8f"/><rect x="93" y="31.6" width="4.75" height="4.75" fill="#f1dca2"/><rect x="97.6" y="31.6" width="4.75" height="4.75" fill="#f6e8af"/><rect x="102.2" y="31.6" width="4.75" height="4.75" fill="#f0daa0"/><rect x="106.8" y="31.6" width="4.75" height="4.75" fill="#e9cb8e"/><rect x="111.4" y="31.6" width="4.75" height="4.75" fill="#e9cb8e"/><rect x="116" y="31.6" width="4.75" height="4.75" fill="#f0f1b9"/><rect x="120.6" y="31.6" width="4.75" height="4.75" fill="#f4e2a9"/><rect x="125.2" y="31.6" width="4.75" height="4.75" fill="#efd89d"/><rect x="129.8" y="31.6" width="4.75" height="4.75" fill="#cf9d61"/><rect x="134.4" y="31.6" width="4.75" height="4.75" fill="#efd99e"/><rect x="139" y="31.6" width="4.75" height="4.75" fill="#efd99e"/><rect x="143.6" y="31.6" width="4.75" height="4.75" fill="#f7ebb2"/><rect x="148.2" y="31.6" width="4.75" height="4.75" fill="#f1dca2"/><rect x="152.8" y="31.6" width="4.75" height="4.75" fill="#eed69b"/><rect x="157.4" y="31.6" width="4.75" height="4.75" fill="#f4e4ab"/><rect x="162" y="31.6" width="4.75" height="4.75" fill="#e6c587"/><rect x="166.6" y="31.6" width="4.75" height="4.75" fill="#f1f1b9"/><rect x="171.2" y="31.6" width="4.75" height="4.75" fill="#f8f0b6"/><rect x="175.8" y="31.6" width="4.75" height="4.75" fill="#f5e6ad"/><rect x="180.4" y="31.6" width="4.75" height="4.75" fill="#deedbd"/><rect x="185" y="31.6" width="4.75" height="4.75" fill="#d0e8bd"/><rect x="189.6" y="31.6" width="4.75" height="4.75" fill="#f3e2a9"/><rect x="194.2" y="31.6" width="4.75" height="4.75" fill="#f7ebb1"/><rect x="198.8" y="31.6" width="4.75" height="4.75" fill="#f2f1b9"/><rect x="203.4" y="31.6" width="4.75" height="4.75" fill="#f3f1b8"/><rect x="208" y="31.6" width="4.75" height="4.75" fill="#f8eeb4"/><rect x="212.6" y="31.6" width="4.75" height="4.75" fill="#f6e7ae"/><rect x="217.2" y="31.6" width="4.75" height="4.75" fill="#cae6bd"/><rect x="221.8" y="31.6" width="4.75" height="4.75" fill="#e2eebc"/><rect x="226.4" y="31.6" width="4.75" height="4.75" fill="#f4e5ab"/><rect x="231" y="31.6" width="4.75" height="4.75" fill="#f4e3aa"/><rect x="235.6" y="31.6" width="4.75" height="4.75" fill="#d2e9be"/><rect x="240.2" y="31.6" width="4.75" height="4.75" fill="#e3eebc"/><rect x="244.8" y="31.6" width="4.75" height="4.75" fill="#d0e8bd"/><rect x="249.4" y="31.6" width="4.75" height="4.75" fill="#e8efbb"/><rect x="254" y="31.6" width="4.75" height="4.75" fill="#f6e9af"/><rect x="24" y="36.2" width="4.75" height="4.75" fill="#edd398"/><rect x="28.6" y="36.2" width="4.75" height="4.75" fill="#d4a668"/><rect x="33.2" y="36.2" width="4.75" height="4.75" fill="#deb878"/><rect x="37.8" y="36.2" width="4.75" height="4.75" fill="#e5c486"/><rect x="42.4" y="36.2" width="4.75" height="4.75" fill="#f1dda3"/><rect x="47" y="36.2" width="4.75" height="4.75" fill="#ecd195"/><rect x="51.6" y="36.2" width="4.75" height="4.75" fill="#efd79d"/><rect x="56.2" y="36.2" width="4.75" height="4.75" fill="#f2dea5"/><rect x="60.8" y="36.2" width="4.75" height="4.75" fill="#f0da9f"/><rect x="65.4" y="36.2" width="4.75" height="4.75" fill="#f0dba1"/><rect x="70" y="36.2" width="4.75" height="4.75" fill="#ecd195"/><rect x="74.6" y="36.2" width="4.75" height="4.75" fill="#e7c789"/><rect x="79.2" y="36.2" width="4.75" height="4.75" fill="#f3e1a8"/><rect x="83.8" y="36.2" width="4.75" height="4.75" fill="#f0dba1"/><rect x="88.4" y="36.2" width="4.75" height="4.75" fill="#ecd297"/><rect x="93" y="36.2" width="4.75" height="4.75" fill="#efd89d"/><rect x="97.6" y="36.2" width="4.75" height="4.75" fill="#efd99f"/><rect x="102.2" y="36.2" width="4.75" height="4.75" fill="#ecd296"/><rect x="106.8" y="36.2" width="4.75" height="4.75" fill="#f1dda3"/><rect x="111.4" y="36.2" width="4.75" height="4.75" fill="#f1dca3"/><rect x="116" y="36.2" width="4.75" height="4.75" fill="#efd99f"/><rect x="120.6" y="36.2" width="4.75" height="4.75" fill="#eace92"/><rect x="125.2" y="36.2" width="4.75" height="4.75" fill="#deb776"/><rect x="129.8" y="36.2" width="4.75" height="4.75" fill="#edd499"/><rect x="134.4" y="36.2" width="4.75" height="4.75" fill="#f4e2a9"/><rect x="139" y="36.2" width="4.75" height="4.75" fill="#f1dca2"/><rect x="143.6" y="36.2" width="4.75" height="4.75" fill="#edd599"/><rect x="148.2" y="36.2" width="4.75" height="4.75" fill="#f4e3aa"/><rect x="152.8" y="36.2" width="4.75" height="4.75" fill="#eace92"/><rect x="157.4" y="36.2" width="4.75" height="4.75" fill="#e3c182"/><rect x="162" y="36.2" width="4.75" height="4.75" fill="#f5e6ac"/><rect x="166.6" y="36.2" width="4.75" height="4.75" fill="#f0daa0"/><rect x="171.2" y="36.2" width="4.75" height="4.75" fill="#f6f0b7"/><rect x="175.8" y="36.2" width="4.75" height="4.75" fill="#f2dea5"/><rect x="180.4" y="36.2" width="4.75" height="4.75" fill="#e7c88b"/><rect x="185" y="36.2" width="4.75" height="4.75" fill="#f5e6ad"/><rect x="189.6" y="36.2" width="4.75" height="4.75" fill="#d5eabe"/><rect x="194.2" y="36.2" width="4.75" height="4.75" fill="#f8eeb5"/><rect x="198.8" y="36.2" width="4.75" height="4.75" fill="#f4e3a9"/><rect x="203.4" y="36.2" width="4.75" height="4.75" fill="#f7eab0"/><rect x="208" y="36.2" width="4.75" height="4.75" fill="#eff1ba"/><rect x="212.6" y="36.2" width="4.75" height="4.75" fill="#eff1ba"/><rect x="217.2" y="36.2" width="4.75" height="4.75" fill="#f3f1b8"/><rect x="221.8" y="36.2" width="4.75" height="4.75" fill="#d7ebbe"/><rect x="226.4" y="36.2" width="4.75" height="4.75" fill="#ebf0bb"/><rect x="231" y="36.2" width="4.75" height="4.75" fill="#f6f0b7"/><rect x="235.6" y="36.2" width="4.75" height="4.75" fill="#eef1ba"/><rect x="240.2" y="36.2" width="4.75" height="4.75" fill="#d3e9be"/><rect x="244.8" y="36.2" width="4.75" height="4.75" fill="#e4eebc"/><rect x="249.4" y="36.2" width="4.75" height="4.75" fill="#e2eebc"/><rect x="254" y="36.2" width="4.75" height="4.75" fill="#f5e6ad"/><rect x="24" y="40.8" width="4.75" height="4.75" fill="#ebd094"/><rect x="28.6" y="40.8" width="4.75" height="4.75" fill="#f2dea4"/><rect x="33.2" y="40.8" width="4.75" height="4.75" fill="#e6c789"/><rect x="37.8" y="40.8" width="4.75" height="4.75" fill="#f2dfa6"/><rect x="42.4" y="40.8" width="4.75" height="4.75" fill="#f4e4ab"/><rect x="47" y="40.8" width="4.75" height="4.75" fill="#f8eeb4"/><rect x="51.6" y="40.8" width="4.75" height="4.75" fill="#f1dda4"/><rect x="56.2" y="40.8" width="4.75" height="4.75" fill="#e6efbb"/><rect x="60.8" y="40.8" width="4.75" height="4.75" fill="#f8edb3"/><rect x="65.4" y="40.8" width="4.75" height="4.75" fill="#efd89d"/><rect x="70" y="40.8" width="4.75" height="4.75" fill="#f2dea5"/><rect x="74.6" y="40.8" width="4.75" height="4.75" fill="#e5efbc"/><rect x="79.2" y="40.8" width="4.75" height="4.75" fill="#f0dba1"/><rect x="83.8" y="40.8" width="4.75" height="4.75" fill="#f8eeb4"/><rect x="88.4" y="40.8" width="4.75" height="4.75" fill="#f6f0b7"/><rect x="93" y="40.8" width="4.75" height="4.75" fill="#f5e7ad"/><rect x="97.6" y="40.8" width="4.75" height="4.75" fill="#e7c78a"/><rect x="102.2" y="40.8" width="4.75" height="4.75" fill="#eed69b"/><rect x="106.8" y="40.8" width="4.75" height="4.75" fill="#f0d99f"/><rect x="111.4" y="40.8" width="4.75" height="4.75" fill="#f4e5ab"/><rect x="116" y="40.8" width="4.75" height="4.75" fill="#f1dea4"/><rect x="120.6" y="40.8" width="4.75" height="4.75" fill="#ebce92"/><rect x="125.2" y="40.8" width="4.75" height="4.75" fill="#f2dea4"/><rect x="129.8" y="40.8" width="4.75" height="4.75" fill="#f0daa0"/><rect x="134.4" y="40.8" width="4.75" height="4.75" fill="#efd89d"/><rect x="139" y="40.8" width="4.75" height="4.75" fill="#efd99e"/><rect x="143.6" y="40.8" width="4.75" height="4.75" fill="#efd79d"/><rect x="148.2" y="40.8" width="4.75" height="4.75" fill="#f6e8af"/><rect x="152.8" y="40.8" width="4.75" height="4.75" fill="#ebd094"/><rect x="157.4" y="40.8" width="4.75" height="4.75" fill="#f1dca2"/><rect x="162" y="40.8" width="4.75" height="4.75" fill="#f6e8af"/><rect x="166.6" y="40.8" width="4.75" height="4.75" fill="#eed59a"/><rect x="171.2" y="40.8" width="4.75" height="4.75" fill="#f5e6ad"/><rect x="175.8" y="40.8" width="4.75" height="4.75" fill="#ebcf92"/><rect x="180.4" y="40.8" width="4.75" height="4.75" fill="#f5e6ad"/><rect x="185" y="40.8" width="4.75" height="4.75" fill="#f2f1b9"/><rect x="189.6" y="40.8" width="4.75" height="4.75" fill="#f0f1b9"/><rect x="194.2" y="40.8" width="4.75" height="4.75" fill="#f6f0b7"/><rect x="198.8" y="40.8" width="4.75" height="4.75" fill="#f9f0b6"/><rect x="203.4" y="40.8" width="4.75" height="4.75" fill="#f3e2a9"/><rect x="208" y="40.8" width="4.75" height="4.75" fill="#d0e8bd"/><rect x="212.6" y="40.8" width="4.75" height="4.75" fill="#eff1ba"/><rect x="217.2" y="40.8" width="4.75" height="4.75" fill="#e1edbc"/><rect x="221.8" y="40.8" width="4.75" height="4.75" fill="#f6e8af"/><rect x="226.4" y="40.8" width="4.75" height="4.75" fill="#f8f0b6"/><rect x="231" y="40.8" width="4.75" height="4.75" fill="#f0dba1"/><rect x="235.6" y="40.8" width="4.75" height="4.75" fill="#e9f0bb"/><rect x="240.2" y="40.8" width="4.75" height="4.75" fill="#e5eebc"/><rect x="244.8" y="40.8" width="4.75" height="4.75" fill="#f0daa0"/><rect x="249.4" y="40.8" width="4.75" height="4.75" fill="#f6f0b7"/><rect x="254" y="40.8" width="4.75" height="4.75" fill="#edf1ba"/><rect x="24" y="45.4" width="4.75" height="4.75" fill="#ddb575"/><rect x="28.6" y="45.4" width="4.75" height="4.75" fill="#dcb372"/><rect x="33.2" y="45.4" width="4.75" height="4.75" fill="#e2be7e"/><rect x="37.8" y="45.4" width="4.75" height="4.75" fill="#e7c88a"/><rect x="42.4" y="45.4" width="4.75" height="4.75" fill="#e7c88b"/><rect x="47" y="45.4" width="4.75" height="4.75" fill="#f6e8ae"/><rect x="51.6" y="45.4" width="4.75" height="4.75" fill="#f6e7ae"/><rect x="56.2" y="45.4" width="4.75" height="4.75" fill="#f7eab1"/><rect x="60.8" y="45.4" width="4.75" height="4.75" fill="#f7ecb2"/><rect x="65.4" y="45.4" width="4.75" height="4.75" fill="#f1f1b9"/><rect x="70" y="45.4" width="4.75" height="4.75" fill="#f4f0b8"/><rect x="74.6" y="45.4" width="4.75" height="4.75" fill="#edd59a"/><rect x="79.2" y="45.4" width="4.75" height="4.75" fill="#f3e2a9"/><rect x="83.8" y="45.4" width="4.75" height="4.75" fill="#efd99e"/><rect x="88.4" y="45.4" width="4.75" height="4.75" fill="#f1dca2"/><rect x="93" y="45.4" width="4.75" height="4.75" fill="#f6e8af"/><rect x="97.6" y="45.4" width="4.75" height="4.75" fill="#f1dea4"/><rect x="102.2" y="45.4" width="4.75" height="4.75" fill="#f0daa0"/><rect x="106.8" y="45.4" width="4.75" height="4.75" fill="#dab171"/><rect x="111.4" y="45.4" width="4.75" height="4.75" fill="#dcb574"/><rect x="116" y="45.4" width="4.75" height="4.75" fill="#e8ca8d"/><rect x="120.6" y="45.4" width="4.75" height="4.75" fill="#e7c789"/><rect x="125.2" y="45.4" width="4.75" height="4.75" fill="#e9ca8d"/><rect x="129.8" y="45.4" width="4.75" height="4.75" fill="#edd398"/><rect x="134.4" y="45.4" width="4.75" height="4.75" fill="#e9ca8d"/><rect x="139" y="45.4" width="4.75" height="4.75" fill="#f5e6ac"/><rect x="143.6" y="45.4" width="4.75" height="4.75" fill="#f4e4ab"/><rect x="148.2" y="45.4" width="4.75" height="4.75" fill="#f3e1a8"/><rect x="152.8" y="45.4" width="4.75" height="4.75" fill="#f0dba1"/><rect x="157.4" y="45.4" width="4.75" height="4.75" fill="#f5e5ac"/><rect x="162" y="45.4" width="4.75" height="4.75" fill="#e2bf80"/><rect x="166.6" y="45.4" width="4.75" height="4.75" fill="#f3e1a8"/><rect x="171.2" y="45.4" width="4.75" height="4.75" fill="#f8edb4"/><rect x="175.8" y="45.4" width="4.75" height="4.75" fill="#efd89e"/><rect x="180.4" y="45.4" width="4.75" height="4.75" fill="#f9efb5"/><rect x="185" y="45.4" width="4.75" height="4.75" fill="#f9f0b6"/><rect x="189.6" y="45.4" width="4.75" height="4.75" fill="#f3e0a7"/><rect x="194.2" y="45.4" width="4.75" height="4.75" fill="#f9f0b6"/><rect x="198.8" y="45.4" width="4.75" height="4.75" fill="#f9efb5"/><rect x="203.4" y="45.4" width="4.75" height="4.75" fill="#f0f1b9"/><rect x="208" y="45.4" width="4.75" height="4.75" fill="#edf1ba"/><rect x="212.6" y="45.4" width="4.75" height="4.75" fill="#f6f0b7"/><rect x="217.2" y="45.4" width="4.75" height="4.75" fill="#f6e9af"/><rect x="221.8" y="45.4" width="4.75" height="4.75" fill="#f8f0b7"/><rect x="226.4" y="45.4" width="4.75" height="4.75" fill="#f7f0b7"/><rect x="231" y="45.4" width="4.75" height="4.75" fill="#eaf0bb"/><rect x="235.6" y="45.4" width="4.75" height="4.75" fill="#f2f1b9"/><rect x="240.2" y="45.4" width="4.75" height="4.75" fill="#f7eab1"/><rect x="244.8" y="45.4" width="4.75" height="4.75" fill="#f4e3aa"/><rect x="249.4" y="45.4" width="4.75" height="4.75" fill="#f8efb5"/><rect x="254" y="45.4" width="4.75" height="4.75" fill="#f7eab1"/><rect x="24" y="50" width="4.75" height="4.75" fill="#e4c183"/><rect x="28.6" y="50" width="4.75" height="4.75" fill="#edd397"/><rect x="33.2" y="50" width="4.75" height="4.75" fill="#e9cb8e"/><rect x="37.8" y="50" width="4.75" height="4.75" fill="#efd89d"/><rect x="42.4" y="50" width="4.75" height="4.75" fill="#f6e8af"/><rect x="47" y="50" width="4.75" height="4.75" fill="#f3e2a9"/><rect x="51.6" y="50" width="4.75" height="4.75" fill="#e4eebc"/><rect x="56.2" y="50" width="4.75" height="4.75" fill="#f1dca2"/><rect x="60.8" y="50" width="4.75" height="4.75" fill="#f6f0b7"/><rect x="65.4" y="50" width="4.75" height="4.75" fill="#f7ebb1"/><rect x="70" y="50" width="4.75" height="4.75" fill="#f0f1b9"/><rect x="74.6" y="50" width="4.75" height="4.75" fill="#e5c486"/><rect x="79.2" y="50" width="4.75" height="4.75" fill="#f1dda3"/><rect x="83.8" y="50" width="4.75" height="4.75" fill="#f6e9af"/><rect x="88.4" y="50" width="4.75" height="4.75" fill="#f9efb5"/><rect x="93" y="50" width="4.75" height="4.75" fill="#daebbe"/><rect x="97.6" y="50" width="4.75" height="4.75" fill="#f3e2a9"/><rect x="102.2" y="50" width="4.75" height="4.75" fill="#f5e6ad"/><rect x="106.8" y="50" width="4.75" height="4.75" fill="#f2dea4"/><rect x="111.4" y="50" width="4.75" height="4.75" fill="#f2dea5"/><rect x="116" y="50" width="4.75" height="4.75" fill="#ebd094"/><rect x="120.6" y="50" width="4.75" height="4.75" fill="#e4c283"/><rect x="125.2" y="50" width="4.75" height="4.75" fill="#efd89e"/><rect x="129.8" y="50" width="4.75" height="4.75" fill="#e5c587"/><rect x="134.4" y="50" width="4.75" height="4.75" fill="#f7ebb2"/><rect x="139" y="50" width="4.75" height="4.75" fill="#eacd91"/><rect x="143.6" y="50" width="4.75" height="4.75" fill="#f5e5ac"/><rect x="148.2" y="50" width="4.75" height="4.75" fill="#e5eebc"/><rect x="152.8" y="50" width="4.75" height="4.75" fill="#f4e5ab"/><rect x="157.4" y="50" width="4.75" height="4.75" fill="#f7eab0"/><rect x="162" y="50" width="4.75" height="4.75" fill="#eef1ba"/><rect x="166.6" y="50" width="4.75" height="4.75" fill="#f8edb3"/><rect x="171.2" y="50" width="4.75" height="4.75" fill="#f4e3aa"/><rect x="175.8" y="50" width="4.75" height="4.75" fill="#f9f0b6"/><rect x="180.4" y="50" width="4.75" height="4.75" fill="#f5f0b8"/><rect x="185" y="50" width="4.75" height="4.75" fill="#f2f1b9"/><rect x="189.6" y="50" width="4.75" height="4.75" fill="#f6e8ae"/><rect x="194.2" y="50" width="4.75" height="4.75" fill="#d2e9bd"/><rect x="198.8" y="50" width="4.75" height="4.75" fill="#d3e9be"/><rect x="203.4" y="50" width="4.75" height="4.75" fill="#f5f0b7"/><rect x="208" y="50" width="4.75" height="4.75" fill="#f2f1b8"/><rect x="212.6" y="50" width="4.75" height="4.75" fill="#f8eeb4"/><rect x="217.2" y="50" width="4.75" height="4.75" fill="#d8ebbe"/><rect x="221.8" y="50" width="4.75" height="4.75" fill="#f7ebb1"/><rect x="226.4" y="50" width="4.75" height="4.75" fill="#ecf0ba"/><rect x="231" y="50" width="4.75" height="4.75" fill="#f8edb3"/><rect x="235.6" y="50" width="4.75" height="4.75" fill="#f7ebb1"/><rect x="240.2" y="50" width="4.75" height="4.75" fill="#eaf0bb"/><rect x="244.8" y="50" width="4.75" height="4.75" fill="#daecbe"/><rect x="249.4" y="50" width="4.75" height="4.75" fill="#f6f0b7"/><rect x="254" y="50" width="4.75" height="4.75" fill="#f7ebb1"/><rect x="24" y="54.6" width="4.75" height="4.75" fill="#f3e1a8"/><rect x="28.6" y="54.6" width="4.75" height="4.75" fill="#ecd296"/><rect x="33.2" y="54.6" width="4.75" height="4.75" fill="#efd89e"/><rect x="37.8" y="54.6" width="4.75" height="4.75" fill="#f7ecb2"/><rect x="42.4" y="54.6" width="4.75" height="4.75" fill="#f9efb5"/><rect x="47" y="54.6" width="4.75" height="4.75" fill="#f3e0a7"/><rect x="51.6" y="54.6" width="4.75" height="4.75" fill="#e3eebc"/><rect x="56.2" y="54.6" width="4.75" height="4.75" fill="#f4e3aa"/><rect x="60.8" y="54.6" width="4.75" height="4.75" fill="#f6f0b7"/><rect x="65.4" y="54.6" width="4.75" height="4.75" fill="#f5e5ac"/><rect x="70" y="54.6" width="4.75" height="4.75" fill="#f7ebb1"/><rect x="74.6" y="54.6" width="4.75" height="4.75" fill="#eace91"/><rect x="79.2" y="54.6" width="4.75" height="4.75" fill="#eef1ba"/><rect x="83.8" y="54.6" width="4.75" height="4.75" fill="#f7f0b7"/><rect x="88.4" y="54.6" width="4.75" height="4.75" fill="#ecd195"/><rect x="93" y="54.6" width="4.75" height="4.75" fill="#e9cc8f"/><rect x="97.6" y="54.6" width="4.75" height="4.75" fill="#e0bc7c"/><rect x="102.2" y="54.6" width="4.75" height="4.75" fill="#f4e4aa"/><rect x="106.8" y="54.6" width="4.75" height="4.75" fill="#e8c98b"/><rect x="111.4" y="54.6" width="4.75" height="4.75" fill="#eacd91"/><rect x="116" y="54.6" width="4.75" height="4.75" fill="#e1bd7e"/><rect x="120.6" y="54.6" width="4.75" height="4.75" fill="#e1bd7d"/><rect x="125.2" y="54.6" width="4.75" height="4.75" fill="#dfba7a"/><rect x="129.8" y="54.6" width="4.75" height="4.75" fill="#f0da9f"/><rect x="134.4" y="54.6" width="4.75" height="4.75" fill="#e5c485"/><rect x="139" y="54.6" width="4.75" height="4.75" fill="#f2e0a7"/><rect x="143.6" y="54.6" width="4.75" height="4.75" fill="#f5e7ad"/><rect x="148.2" y="54.6" width="4.75" height="4.75" fill="#f7ebb1"/><rect x="152.8" y="54.6" width="4.75" height="4.75" fill="#f5e5ac"/><rect x="157.4" y="54.6" width="4.75" height="4.75" fill="#f2dfa6"/><rect x="162" y="54.6" width="4.75" height="4.75" fill="#f8eeb4"/><rect x="166.6" y="54.6" width="4.75" height="4.75" fill="#f5e7ae"/><rect x="171.2" y="54.6" width="4.75" height="4.75" fill="#e1eebc"/><rect x="175.8" y="54.6" width="4.75" height="4.75" fill="#f2f1b8"/><rect x="180.4" y="54.6" width="4.75" height="4.75" fill="#f7ecb2"/><rect x="185" y="54.6" width="4.75" height="4.75" fill="#f6e8af"/><rect x="189.6" y="54.6" width="4.75" height="4.75" fill="#f6e8af"/><rect x="194.2" y="54.6" width="4.75" height="4.75" fill="#f6e8ae"/><rect x="198.8" y="54.6" width="4.75" height="4.75" fill="#f9efb5"/><rect x="203.4" y="54.6" width="4.75" height="4.75" fill="#f2f1b9"/><rect x="208" y="54.6" width="4.75" height="4.75" fill="#eff1ba"/><rect x="212.6" y="54.6" width="4.75" height="4.75" fill="#eef1ba"/><rect x="217.2" y="54.6" width="4.75" height="4.75" fill="#cbe6bd"/><rect x="221.8" y="54.6" width="4.75" height="4.75" fill="#f7ebb1"/><rect x="226.4" y="54.6" width="4.75" height="4.75" fill="#f6f0b7"/><rect x="231" y="54.6" width="4.75" height="4.75" fill="#bee1bc"/><rect x="235.6" y="54.6" width="4.75" height="4.75" fill="#f0dba0"/><rect x="240.2" y="54.6" width="4.75" height="4.75" fill="#f8edb3"/><rect x="244.8" y="54.6" width="4.75" height="4.75" fill="#f3f1b8"/><rect x="249.4" y="54.6" width="4.75" height="4.75" fill="#f4f0b8"/><rect x="254" y="54.6" width="4.75" height="4.75" fill="#f0f1b9"/><rect x="24" y="59.2" width="4.75" height="4.75" fill="#e5c385"/><rect x="28.6" y="59.2" width="4.75" height="4.75" fill="#ebce92"/><rect x="33.2" y="59.2" width="4.75" height="4.75" fill="#e8c98b"/><rect x="37.8" y="59.2" width="4.75" height="4.75" fill="#f0daa0"/><rect x="42.4" y="59.2" width="4.75" height="4.75" fill="#dfba7a"/><rect x="47" y="59.2" width="4.75" height="4.75" fill="#f0da9f"/><rect x="51.6" y="59.2" width="4.75" height="4.75" fill="#f7ecb2"/><rect x="56.2" y="59.2" width="4.75" height="4.75" fill="#f4e4ab"/><rect x="60.8" y="59.2" width="4.75" height="4.75" fill="#f4e4aa"/><rect x="65.4" y="59.2" width="4.75" height="4.75" fill="#f4f0b8"/><rect x="70" y="59.2" width="4.75" height="4.75" fill="#f0daa0"/><rect x="74.6" y="59.2" width="4.75" height="4.75" fill="#f4e4ab"/><rect x="79.2" y="59.2" width="4.75" height="4.75" fill="#f4e2a9"/><rect x="83.8" y="59.2" width="4.75" height="4.75" fill="#f0da9f"/><rect x="88.4" y="59.2" width="4.75" height="4.75" fill="#f4e4ab"/><rect x="93" y="59.2" width="4.75" height="4.75" fill="#f1dca3"/><rect x="97.6" y="59.2" width="4.75" height="4.75" fill="#ddb675"/><rect x="102.2" y="59.2" width="4.75" height="4.75" fill="#e6c587"/><rect x="106.8" y="59.2" width="4.75" height="4.75" fill="#ecd397"/><rect x="111.4" y="59.2" width="4.75" height="4.75" fill="#e3c182"/><rect x="116" y="59.2" width="4.75" height="4.75" fill="#e1bd7e"/><rect x="120.6" y="59.2" width="4.75" height="4.75" fill="#e8c88b"/><rect x="125.2" y="59.2" width="4.75" height="4.75" fill="#deb877"/><rect x="129.8" y="59.2" width="4.75" height="4.75" fill="#f1dea4"/><rect x="134.4" y="59.2" width="4.75" height="4.75" fill="#f7f0b7"/><rect x="139" y="59.2" width="4.75" height="4.75" fill="#ecd397"/><rect x="143.6" y="59.2" width="4.75" height="4.75" fill="#f2dea5"/><rect x="148.2" y="59.2" width="4.75" height="4.75" fill="#f0dba0"/><rect x="152.8" y="59.2" width="4.75" height="4.75" fill="#f2f1b9"/><rect x="157.4" y="59.2" width="4.75" height="4.75" fill="#f8ecb3"/><rect x="162" y="59.2" width="4.75" height="4.75" fill="#f2f1b8"/><rect x="166.6" y="59.2" width="4.75" height="4.75" fill="#f4e5ab"/><rect x="171.2" y="59.2" width="4.75" height="4.75" fill="#f8edb3"/><rect x="175.8" y="59.2" width="4.75" height="4.75" fill="#f8edb3"/><rect x="180.4" y="59.2" width="4.75" height="4.75" fill="#edd398"/><rect x="185" y="59.2" width="4.75" height="4.75" fill="#e3eebc"/><rect x="189.6" y="59.2" width="4.75" height="4.75" fill="#eaf0bb"/><rect x="194.2" y="59.2" width="4.75" height="4.75" fill="#f1dda3"/><rect x="198.8" y="59.2" width="4.75" height="4.75" fill="#eaf0bb"/><rect x="203.4" y="59.2" width="4.75" height="4.75" fill="#f7f0b7"/><rect x="208" y="59.2" width="4.75" height="4.75" fill="#f0f1b9"/><rect x="212.6" y="59.2" width="4.75" height="4.75" fill="#f1f1b9"/><rect x="217.2" y="59.2" width="4.75" height="4.75" fill="#f3e1a8"/><rect x="221.8" y="59.2" width="4.75" height="4.75" fill="#f8f0b6"/><rect x="226.4" y="59.2" width="4.75" height="4.75" fill="#d7eabe"/><rect x="231" y="59.2" width="4.75" height="4.75" fill="#f7ecb2"/><rect x="235.6" y="59.2" width="4.75" height="4.75" fill="#f5e7ad"/><rect x="240.2" y="59.2" width="4.75" height="4.75" fill="#f4e3aa"/><rect x="244.8" y="59.2" width="4.75" height="4.75" fill="#f4e4ab"/><rect x="249.4" y="59.2" width="4.75" height="4.75" fill="#f1f1b9"/><rect x="254" y="59.2" width="4.75" height="4.75" fill="#d3e9be"/><rect x="24" y="63.8" width="4.75" height="4.75" fill="#e7c88b"/><rect x="28.6" y="63.8" width="4.75" height="4.75" fill="#e6c587"/><rect x="33.2" y="63.8" width="4.75" height="4.75" fill="#f5e6ad"/><rect x="37.8" y="63.8" width="4.75" height="4.75" fill="#e0bc7c"/><rect x="42.4" y="63.8" width="4.75" height="4.75" fill="#e8ca8d"/><rect x="47" y="63.8" width="4.75" height="4.75" fill="#f7ebb2"/><rect x="51.6" y="63.8" width="4.75" height="4.75" fill="#f0f1b9"/><rect x="56.2" y="63.8" width="4.75" height="4.75" fill="#f8edb3"/><rect x="60.8" y="63.8" width="4.75" height="4.75" fill="#f5e7ae"/><rect x="65.4" y="63.8" width="4.75" height="4.75" fill="#f8f0b6"/><rect x="70" y="63.8" width="4.75" height="4.75" fill="#f3e1a8"/><rect x="74.6" y="63.8" width="4.75" height="4.75" fill="#dcb574"/><rect x="79.2" y="63.8" width="4.75" height="4.75" fill="#e7c88a"/><rect x="83.8" y="63.8" width="4.75" height="4.75" fill="#e4c385"/><rect x="88.4" y="63.8" width="4.75" height="4.75" fill="#f1dea4"/><rect x="93" y="63.8" width="4.75" height="4.75" fill="#eed59a"/><rect x="97.6" y="63.8" width="4.75" height="4.75" fill="#e6c689"/><rect x="102.2" y="63.8" width="4.75" height="4.75" fill="#deb877"/><rect x="106.8" y="63.8" width="4.75" height="4.75" fill="#efd89d"/><rect x="111.4" y="63.8" width="4.75" height="4.75" fill="#f2dfa6"/><rect x="116" y="63.8" width="4.75" height="4.75" fill="#dcb473"/><rect x="120.6" y="63.8" width="4.75" height="4.75" fill="#e6c688"/><rect x="125.2" y="63.8" width="4.75" height="4.75" fill="#dcb473"/><rect x="129.8" y="63.8" width="4.75" height="4.75" fill="#eacd91"/><rect x="134.4" y="63.8" width="4.75" height="4.75" fill="#f2e0a7"/><rect x="139" y="63.8" width="4.75" height="4.75" fill="#f7ecb2"/><rect x="143.6" y="63.8" width="4.75" height="4.75" fill="#e9cc8f"/><rect x="148.2" y="63.8" width="4.75" height="4.75" fill="#ecd296"/><rect x="152.8" y="63.8" width="4.75" height="4.75" fill="#f3e1a8"/><rect x="157.4" y="63.8" width="4.75" height="4.75" fill="#eacd91"/><rect x="162" y="63.8" width="4.75" height="4.75" fill="#f6eab0"/><rect x="166.6" y="63.8" width="4.75" height="4.75" fill="#f4e4ab"/><rect x="171.2" y="63.8" width="4.75" height="4.75" fill="#f8f0b6"/><rect x="175.8" y="63.8" width="4.75" height="4.75" fill="#f2dfa5"/><rect x="180.4" y="63.8" width="4.75" height="4.75" fill="#ebd094"/><rect x="185" y="63.8" width="4.75" height="4.75" fill="#f8eeb4"/><rect x="189.6" y="63.8" width="4.75" height="4.75" fill="#f5f0b7"/><rect x="194.2" y="63.8" width="4.75" height="4.75" fill="#f7ecb2"/><rect x="198.8" y="63.8" width="4.75" height="4.75" fill="#e6efbb"/><rect x="203.4" y="63.8" width="4.75" height="4.75" fill="#f9f0b6"/><rect x="208" y="63.8" width="4.75" height="4.75" fill="#f7ecb2"/><rect x="212.6" y="63.8" width="4.75" height="4.75" fill="#eff1b9"/><rect x="217.2" y="63.8" width="4.75" height="4.75" fill="#f2e0a7"/><rect x="221.8" y="63.8" width="4.75" height="4.75" fill="#f7ebb1"/><rect x="226.4" y="63.8" width="4.75" height="4.75" fill="#f6f0b7"/><rect x="231" y="63.8" width="4.75" height="4.75" fill="#e7efbb"/><rect x="235.6" y="63.8" width="4.75" height="4.75" fill="#f8f0b6"/><rect x="240.2" y="63.8" width="4.75" height="4.75" fill="#f2f1b9"/><rect x="244.8" y="63.8" width="4.75" height="4.75" fill="#f7ebb1"/><rect x="249.4" y="63.8" width="4.75" height="4.75" fill="#f2f1b9"/><rect x="254" y="63.8" width="4.75" height="4.75" fill="#d3e9be"/><rect x="24" y="68.4" width="4.75" height="4.75" fill="#e0bb7c"/><rect x="28.6" y="68.4" width="4.75" height="4.75" fill="#f8ecb3"/><rect x="33.2" y="68.4" width="4.75" height="4.75" fill="#e1bc7d"/><rect x="37.8" y="68.4" width="4.75" height="4.75" fill="#e9ca8d"/><rect x="42.4" y="68.4" width="4.75" height="4.75" fill="#edd499"/><rect x="47" y="68.4" width="4.75" height="4.75" fill="#f7eab0"/><rect x="51.6" y="68.4" width="4.75" height="4.75" fill="#efd89e"/><rect x="56.2" y="68.4" width="4.75" height="4.75" fill="#eed69b"/><rect x="60.8" y="68.4" width="4.75" height="4.75" fill="#eef1ba"/><rect x="65.4" y="68.4" width="4.75" height="4.75" fill="#f1f1b9"/><rect x="70" y="68.4" width="4.75" height="4.75" fill="#f4e4ab"/><rect x="74.6" y="68.4" width="4.75" height="4.75" fill="#f6f0b7"/><rect x="79.2" y="68.4" width="4.75" height="4.75" fill="#f0d99f"/><rect x="83.8" y="68.4" width="4.75" height="4.75" fill="#f3e1a7"/><rect x="88.4" y="68.4" width="4.75" height="4.75" fill="#f5e7ae"/><rect x="93" y="68.4" width="4.75" height="4.75" fill="#f0dba1"/><rect x="97.6" y="68.4" width="4.75" height="4.75" fill="#f4e5ab"/><rect x="102.2" y="68.4" width="4.75" height="4.75" fill="#d7aa6b"/><rect x="106.8" y="68.4" width="4.75" height="4.75" fill="#e0ba7a"/><rect x="111.4" y="68.4" width="4.75" height="4.75" fill="#bf8751"/><rect x="116" y="68.4" width="4.75" height="4.75" fill="#e6c587"/><rect x="120.6" y="68.4" width="4.75" height="4.75" fill="#d8ac6d"/><rect x="125.2" y="68.4" width="4.75" height="4.75" fill="#ebcf93"/><rect x="129.8" y="68.4" width="4.75" height="4.75" fill="#f6e9b0"/><rect x="134.4" y="68.4" width="4.75" height="4.75" fill="#e9ca8d"/><rect x="139" y="68.4" width="4.75" height="4.75" fill="#e7c789"/><rect x="143.6" y="68.4" width="4.75" height="4.75" fill="#e2be7f"/><rect x="148.2" y="68.4" width="4.75" height="4.75" fill="#dfb978"/><rect x="152.8" y="68.4" width="4.75" height="4.75" fill="#e7c88a"/><rect x="157.4" y="68.4" width="4.75" height="4.75" fill="#f5e6ad"/><rect x="162" y="68.4" width="4.75" height="4.75" fill="#f5e5ac"/><rect x="166.6" y="68.4" width="4.75" height="4.75" fill="#f7eab1"/><rect x="171.2" y="68.4" width="4.75" height="4.75" fill="#f6e9b0"/><rect x="175.8" y="68.4" width="4.75" height="4.75" fill="#f0f1b9"/><rect x="180.4" y="68.4" width="4.75" height="4.75" fill="#f6f0b7"/><rect x="185" y="68.4" width="4.75" height="4.75" fill="#f7ecb2"/><rect x="189.6" y="68.4" width="4.75" height="4.75" fill="#f2f1b9"/><rect x="194.2" y="68.4" width="4.75" height="4.75" fill="#f8eeb4"/><rect x="198.8" y="68.4" width="4.75" height="4.75" fill="#f4e4ab"/><rect x="203.4" y="68.4" width="4.75" height="4.75" fill="#d7ebbe"/><rect x="208" y="68.4" width="4.75" height="4.75" fill="#f0f1b9"/><rect x="212.6" y="68.4" width="4.75" height="4.75" fill="#f6e8ae"/><rect x="217.2" y="68.4" width="4.75" height="4.75" fill="#e1edbc"/><rect x="221.8" y="68.4" width="4.75" height="4.75" fill="#f1f1b9"/><rect x="226.4" y="68.4" width="4.75" height="4.75" fill="#f2e0a7"/><rect x="231" y="68.4" width="4.75" height="4.75" fill="#d4eabe"/><rect x="235.6" y="68.4" width="4.75" height="4.75" fill="#f1f1b9"/><rect x="240.2" y="68.4" width="4.75" height="4.75" fill="#e6efbb"/><rect x="244.8" y="68.4" width="4.75" height="4.75" fill="#f3f1b8"/><rect x="249.4" y="68.4" width="4.75" height="4.75" fill="#f8f0b6"/><rect x="254" y="68.4" width="4.75" height="4.75" fill="#f3e0a7"/><rect x="24" y="73" width="4.75" height="4.75" fill="#f2dfa5"/><rect x="28.6" y="73" width="4.75" height="4.75" fill="#eace92"/><rect x="33.2" y="73" width="4.75" height="4.75" fill="#e8c88b"/><rect x="37.8" y="73" width="4.75" height="4.75" fill="#edd498"/><rect x="42.4" y="73" width="4.75" height="4.75" fill="#ebcf93"/><rect x="47" y="73" width="4.75" height="4.75" fill="#f2dea5"/><rect x="51.6" y="73" width="4.75" height="4.75" fill="#f1dca2"/><rect x="56.2" y="73" width="4.75" height="4.75" fill="#f7ebb1"/><rect x="60.8" y="73" width="4.75" height="4.75" fill="#eace91"/><rect x="65.4" y="73" width="4.75" height="4.75" fill="#f5e6ac"/><rect x="70" y="73" width="4.75" height="4.75" fill="#f4e3aa"/><rect x="74.6" y="73" width="4.75" height="4.75" fill="#f3e2a9"/><rect x="79.2" y="73" width="4.75" height="4.75" fill="#edd498"/><rect x="83.8" y="73" width="4.75" height="4.75" fill="#f3e0a7"/><rect x="88.4" y="73" width="4.75" height="4.75" fill="#f8eeb4"/><rect x="93" y="73" width="4.75" height="4.75" fill="#e8c98b"/><rect x="97.6" y="73" width="4.75" height="4.75" fill="#edd499"/><rect x="102.2" y="73" width="4.75" height="4.75" fill="#f2dfa5"/><rect x="106.8" y="73" width="4.75" height="4.75" fill="#e2bf80"/><rect x="111.4" y="73" width="4.75" height="4.75" fill="#ebd094"/><rect x="116" y="73" width="4.75" height="4.75" fill="#d4a567"/><rect x="120.6" y="73" width="4.75" height="4.75" fill="#dbb272"/><rect x="125.2" y="73" width="4.75" height="4.75" fill="#deb878"/><rect x="129.8" y="73" width="4.75" height="4.75" fill="#e5c486"/><rect x="134.4" y="73" width="4.75" height="4.75" fill="#efd79d"/><rect x="139" y="73" width="4.75" height="4.75" fill="#f6eab0"/><rect x="143.6" y="73" width="4.75" height="4.75" fill="#dcb473"/><rect x="148.2" y="73" width="4.75" height="4.75" fill="#ddb676"/><rect x="152.8" y="73" width="4.75" height="4.75" fill="#edd499"/><rect x="157.4" y="73" width="4.75" height="4.75" fill="#e4c384"/><rect x="162" y="73" width="4.75" height="4.75" fill="#f5e6ac"/><rect x="166.6" y="73" width="4.75" height="4.75" fill="#f8edb3"/><rect x="171.2" y="73" width="4.75" height="4.75" fill="#f5e6ad"/><rect x="175.8" y="73" width="4.75" height="4.75" fill="#f5f0b7"/><rect x="180.4" y="73" width="4.75" height="4.75" fill="#efd89d"/><rect x="185" y="73" width="4.75" height="4.75" fill="#f1f1b9"/><rect x="189.6" y="73" width="4.75" height="4.75" fill="#efd89d"/><rect x="194.2" y="73" width="4.75" height="4.75" fill="#f5e6ac"/><rect x="198.8" y="73" width="4.75" height="4.75" fill="#f7eab0"/><rect x="203.4" y="73" width="4.75" height="4.75" fill="#f8eeb4"/><rect x="208" y="73" width="4.75" height="4.75" fill="#e7efbb"/><rect x="212.6" y="73" width="4.75" height="4.75" fill="#f5f0b8"/><rect x="217.2" y="73" width="4.75" height="4.75" fill="#f8eeb4"/><rect x="221.8" y="73" width="4.75" height="4.75" fill="#eff1ba"/><rect x="226.4" y="73" width="4.75" height="4.75" fill="#d5eabe"/><rect x="231" y="73" width="4.75" height="4.75" fill="#f6f0b7"/><rect x="235.6" y="73" width="4.75" height="4.75" fill="#f1f1b9"/><rect x="240.2" y="73" width="4.75" height="4.75" fill="#ddecbd"/><rect x="244.8" y="73" width="4.75" height="4.75" fill="#f2f1b8"/><rect x="249.4" y="73" width="4.75" height="4.75" fill="#f4e4aa"/><rect x="254" y="73" width="4.75" height="4.75" fill="#c3e3bc"/><rect x="24" y="77.6" width="4.75" height="4.75" fill="#f8edb3"/><rect x="28.6" y="77.6" width="4.75" height="4.75" fill="#d6a86a"/><rect x="33.2" y="77.6" width="4.75" height="4.75" fill="#e9cb8f"/><rect x="37.8" y="77.6" width="4.75" height="4.75" fill="#edd498"/><rect x="42.4" y="77.6" width="4.75" height="4.75" fill="#f1dda3"/><rect x="47" y="77.6" width="4.75" height="4.75" fill="#f0daa0"/><rect x="51.6" y="77.6" width="4.75" height="4.75" fill="#ecd195"/><rect x="56.2" y="77.6" width="4.75" height="4.75" fill="#e8c98c"/><rect x="60.8" y="77.6" width="4.75" height="4.75" fill="#f3e1a8"/><rect x="65.4" y="77.6" width="4.75" height="4.75" fill="#f7ecb2"/><rect x="70" y="77.6" width="4.75" height="4.75" fill="#e2be7f"/><rect x="74.6" y="77.6" width="4.75" height="4.75" fill="#ddb675"/><rect x="79.2" y="77.6" width="4.75" height="4.75" fill="#e6c688"/><rect x="83.8" y="77.6" width="4.75" height="4.75" fill="#d1a164"/><rect x="88.4" y="77.6" width="4.75" height="4.75" fill="#deb877"/><rect x="93" y="77.6" width="4.75" height="4.75" fill="#dab070"/><rect x="97.6" y="77.6" width="4.75" height="4.75" fill="#e3c182"/><rect x="102.2" y="77.6" width="4.75" height="4.75" fill="#d8ad6e"/><rect x="106.8" y="77.6" width="4.75" height="4.75" fill="#d8ad6e"/><rect x="111.4" y="77.6" width="4.75" height="4.75" fill="#dcb574"/><rect x="116" y="77.6" width="4.75" height="4.75" fill="#d9af6f"/><rect x="120.6" y="77.6" width="4.75" height="4.75" fill="#d09e62"/><rect x="125.2" y="77.6" width="4.75" height="4.75" fill="#dcb373"/><rect x="129.8" y="77.6" width="4.75" height="4.75" fill="#e8ca8d"/><rect x="134.4" y="77.6" width="4.75" height="4.75" fill="#efd89e"/><rect x="139" y="77.6" width="4.75" height="4.75" fill="#f4e5ab"/><rect x="143.6" y="77.6" width="4.75" height="4.75" fill="#e0ba7b"/><rect x="148.2" y="77.6" width="4.75" height="4.75" fill="#e5c485"/><rect x="152.8" y="77.6" width="4.75" height="4.75" fill="#d4a568"/><rect x="157.4" y="77.6" width="4.75" height="4.75" fill="#f8f0b6"/><rect x="162" y="77.6" width="4.75" height="4.75" fill="#eacd90"/><rect x="166.6" y="77.6" width="4.75" height="4.75" fill="#f1dea4"/><rect x="171.2" y="77.6" width="4.75" height="4.75" fill="#f8edb3"/><rect x="175.8" y="77.6" width="4.75" height="4.75" fill="#f0daa0"/><rect x="180.4" y="77.6" width="4.75" height="4.75" fill="#f3f1b8"/><rect x="185" y="77.6" width="4.75" height="4.75" fill="#f8f0b6"/><rect x="189.6" y="77.6" width="4.75" height="4.75" fill="#eed79c"/><rect x="194.2" y="77.6" width="4.75" height="4.75" fill="#f6f0b7"/><rect x="198.8" y="77.6" width="4.75" height="4.75" fill="#e6efbb"/><rect x="203.4" y="77.6" width="4.75" height="4.75" fill="#eed69b"/><rect x="208" y="77.6" width="4.75" height="4.75" fill="#ebf0bb"/><rect x="212.6" y="77.6" width="4.75" height="4.75" fill="#f3f1b8"/><rect x="217.2" y="77.6" width="4.75" height="4.75" fill="#eff1b9"/><rect x="221.8" y="77.6" width="4.75" height="4.75" fill="#f0f1b9"/><rect x="226.4" y="77.6" width="4.75" height="4.75" fill="#dbecbd"/><rect x="231" y="77.6" width="4.75" height="4.75" fill="#f9f0b6"/><rect x="235.6" y="77.6" width="4.75" height="4.75" fill="#e6efbb"/><rect x="240.2" y="77.6" width="4.75" height="4.75" fill="#f8eeb4"/><rect x="244.8" y="77.6" width="4.75" height="4.75" fill="#eaf0bb"/><rect x="249.4" y="77.6" width="4.75" height="4.75" fill="#f6e9b0"/><rect x="254" y="77.6" width="4.75" height="4.75" fill="#f7f0b7"/><rect x="24" y="82.2" width="4.75" height="4.75" fill="#f5e7ad"/><rect x="28.6" y="82.2" width="4.75" height="4.75" fill="#edd397"/><rect x="33.2" y="82.2" width="4.75" height="4.75" fill="#e7c88b"/><rect x="37.8" y="82.2" width="4.75" height="4.75" fill="#ddb675"/><rect x="42.4" y="82.2" width="4.75" height="4.75" fill="#e1bc7d"/><rect x="47" y="82.2" width="4.75" height="4.75" fill="#ebce92"/><rect x="51.6" y="82.2" width="4.75" height="4.75" fill="#f1dca2"/><rect x="56.2" y="82.2" width="4.75" height="4.75" fill="#edd398"/><rect x="60.8" y="82.2" width="4.75" height="4.75" fill="#efd89e"/><rect x="65.4" y="82.2" width="4.75" height="4.75" fill="#ebd094"/><rect x="70" y="82.2" width="4.75" height="4.75" fill="#f4e4ab"/><rect x="74.6" y="82.2" width="4.75" height="4.75" fill="#e3c082"/><rect x="79.2" y="82.2" width="4.75" height="4.75" fill="#d8ad6d"/><rect x="83.8" y="82.2" width="4.75" height="4.75" fill="#dfb979"/><rect x="88.4" y="82.2" width="4.75" height="4.75" fill="#d5a769"/><rect x="93" y="82.2" width="4.75" height="4.75" fill="#d1a064"/><rect x="97.6" y="82.2" width="4.75" height="4.75" fill="#d2a265"/><rect x="102.2" y="82.2" width="4.75" height="4.75" fill="#d9af6f"/><rect x="106.8" y="82.2" width="4.75" height="4.75" fill="#e6c688"/><rect x="111.4" y="82.2" width="4.75" height="4.75" fill="#e4c283"/><rect x="116" y="82.2" width="4.75" height="4.75" fill="#cc995e"/><rect x="120.6" y="82.2" width="4.75" height="4.75" fill="#d8ad6e"/><rect x="125.2" y="82.2" width="4.75" height="4.75" fill="#dab171"/><rect x="129.8" y="82.2" width="4.75" height="4.75" fill="#d4a568"/><rect x="134.4" y="82.2" width="4.75" height="4.75" fill="#ebd094"/><rect x="139" y="82.2" width="4.75" height="4.75" fill="#e6c688"/><rect x="143.6" y="82.2" width="4.75" height="4.75" fill="#e8c98c"/><rect x="148.2" y="82.2" width="4.75" height="4.75" fill="#f3e1a8"/><rect x="152.8" y="82.2" width="4.75" height="4.75" fill="#f6eab0"/><rect x="157.4" y="82.2" width="4.75" height="4.75" fill="#e9cc8f"/><rect x="162" y="82.2" width="4.75" height="4.75" fill="#f1dca2"/><rect x="166.6" y="82.2" width="4.75" height="4.75" fill="#e6c688"/><rect x="171.2" y="82.2" width="4.75" height="4.75" fill="#e2eebc"/><rect x="175.8" y="82.2" width="4.75" height="4.75" fill="#f5e6ad"/><rect x="180.4" y="82.2" width="4.75" height="4.75" fill="#e3eebc"/><rect x="185" y="82.2" width="4.75" height="4.75" fill="#f7ecb2"/><rect x="189.6" y="82.2" width="4.75" height="4.75" fill="#ecf0ba"/><rect x="194.2" y="82.2" width="4.75" height="4.75" fill="#cfe8bd"/><rect x="198.8" y="82.2" width="4.75" height="4.75" fill="#e7c789"/><rect x="203.4" y="82.2" width="4.75" height="4.75" fill="#f6e8af"/><rect x="208" y="82.2" width="4.75" height="4.75" fill="#f2f1b9"/><rect x="212.6" y="82.2" width="4.75" height="4.75" fill="#f7f0b7"/><rect x="217.2" y="82.2" width="4.75" height="4.75" fill="#f7ebb1"/><rect x="221.8" y="82.2" width="4.75" height="4.75" fill="#cae6bd"/><rect x="226.4" y="82.2" width="4.75" height="4.75" fill="#f5f0b8"/><rect x="231" y="82.2" width="4.75" height="4.75" fill="#f2dea5"/><rect x="235.6" y="82.2" width="4.75" height="4.75" fill="#e7efbb"/><rect x="240.2" y="82.2" width="4.75" height="4.75" fill="#f1dda3"/><rect x="244.8" y="82.2" width="4.75" height="4.75" fill="#dfedbd"/><rect x="249.4" y="82.2" width="4.75" height="4.75" fill="#f7ecb2"/><rect x="254" y="82.2" width="4.75" height="4.75" fill="#f4f0b8"/><rect x="24" y="86.8" width="4.75" height="4.75" fill="#f3e1a8"/><rect x="28.6" y="86.8" width="4.75" height="4.75" fill="#eacd90"/><rect x="33.2" y="86.8" width="4.75" height="4.75" fill="#dbb271"/><rect x="37.8" y="86.8" width="4.75" height="4.75" fill="#d8ac6d"/><rect x="42.4" y="86.8" width="4.75" height="4.75" fill="#f2e0a7"/><rect x="47" y="86.8" width="4.75" height="4.75" fill="#efd89d"/><rect x="51.6" y="86.8" width="4.75" height="4.75" fill="#e1bc7c"/><rect x="56.2" y="86.8" width="4.75" height="4.75" fill="#f0dba0"/><rect x="60.8" y="86.8" width="4.75" height="4.75" fill="#eed69b"/><rect x="65.4" y="86.8" width="4.75" height="4.75" fill="#f0daa0"/><rect x="70" y="86.8" width="4.75" height="4.75" fill="#d6a96a"/><rect x="74.6" y="86.8" width="4.75" height="4.75" fill="#e7c88b"/><rect x="79.2" y="86.8" width="4.75" height="4.75" fill="#e7c78a"/><rect x="83.8" y="86.8" width="4.75" height="4.75" fill="#dbb372"/><rect x="88.4" y="86.8" width="4.75" height="4.75" fill="#dbb271"/><rect x="93" y="86.8" width="4.75" height="4.75" fill="#b77c49"/><rect x="97.6" y="86.8" width="4.75" height="4.75" fill="#d6a96b"/><rect x="102.2" y="86.8" width="4.75" height="4.75" fill="#dcb473"/><rect x="106.8" y="86.8" width="4.75" height="4.75" fill="#f2dea5"/><rect x="111.4" y="86.8" width="4.75" height="4.75" fill="#d1a064"/><rect x="116" y="86.8" width="4.75" height="4.75" fill="#d2a164"/><rect x="120.6" y="86.8" width="4.75" height="4.75" fill="#d3a366"/><rect x="125.2" y="86.8" width="4.75" height="4.75" fill="#e1bd7d"/><rect x="129.8" y="86.8" width="4.75" height="4.75" fill="#d9af6f"/><rect x="134.4" y="86.8" width="4.75" height="4.75" fill="#edd599"/><rect x="139" y="86.8" width="4.75" height="4.75" fill="#dfb979"/><rect x="143.6" y="86.8" width="4.75" height="4.75" fill="#ebd094"/><rect x="148.2" y="86.8" width="4.75" height="4.75" fill="#e6c688"/><rect x="152.8" y="86.8" width="4.75" height="4.75" fill="#eed59a"/><rect x="157.4" y="86.8" width="4.75" height="4.75" fill="#e7c78a"/><rect x="162" y="86.8" width="4.75" height="4.75" fill="#dab170"/><rect x="166.6" y="86.8" width="4.75" height="4.75" fill="#f3e2a9"/><rect x="171.2" y="86.8" width="4.75" height="4.75" fill="#f5e5ac"/><rect x="175.8" y="86.8" width="4.75" height="4.75" fill="#f5e5ac"/><rect x="180.4" y="86.8" width="4.75" height="4.75" fill="#f9f0b6"/><rect x="185" y="86.8" width="4.75" height="4.75" fill="#edf1ba"/><rect x="189.6" y="86.8" width="4.75" height="4.75" fill="#f3e2a9"/><rect x="194.2" y="86.8" width="4.75" height="4.75" fill="#f7ecb2"/><rect x="198.8" y="86.8" width="4.75" height="4.75" fill="#f6f0b7"/><rect x="203.4" y="86.8" width="4.75" height="4.75" fill="#f6f0b7"/><rect x="208" y="86.8" width="4.75" height="4.75" fill="#f8ecb3"/><rect x="212.6" y="86.8" width="4.75" height="4.75" fill="#eed69b"/><rect x="217.2" y="86.8" width="4.75" height="4.75" fill="#ddecbd"/><rect x="221.8" y="86.8" width="4.75" height="4.75" fill="#f1f1b9"/><rect x="226.4" y="86.8" width="4.75" height="4.75" fill="#f6f0b7"/><rect x="231" y="86.8" width="4.75" height="4.75" fill="#f9f0b6"/><rect x="235.6" y="86.8" width="4.75" height="4.75" fill="#f2f1b8"/><rect x="240.2" y="86.8" width="4.75" height="4.75" fill="#f8eeb4"/><rect x="244.8" y="86.8" width="4.75" height="4.75" fill="#f5e7ad"/><rect x="249.4" y="86.8" width="4.75" height="4.75" fill="#f7eab1"/><rect x="254" y="86.8" width="4.75" height="4.75" fill="#f7ecb2"/><rect x="24" y="91.4" width="4.75" height="4.75" fill="#e3c081"/><rect x="28.6" y="91.4" width="4.75" height="4.75" fill="#ddb675"/><rect x="33.2" y="91.4" width="4.75" height="4.75" fill="#eed69b"/><rect x="37.8" y="91.4" width="4.75" height="4.75" fill="#dbb372"/><rect x="42.4" y="91.4" width="4.75" height="4.75" fill="#eed79c"/><rect x="47" y="91.4" width="4.75" height="4.75" fill="#deb878"/><rect x="51.6" y="91.4" width="4.75" height="4.75" fill="#ecd195"/><rect x="56.2" y="91.4" width="4.75" height="4.75" fill="#f4e2a9"/><rect x="60.8" y="91.4" width="4.75" height="4.75" fill="#ebcf92"/><rect x="65.4" y="91.4" width="4.75" height="4.75" fill="#e3c081"/><rect x="70" y="91.4" width="4.75" height="4.75" fill="#eed69a"/><rect x="74.6" y="91.4" width="4.75" height="4.75" fill="#eed59a"/><rect x="79.2" y="91.4" width="4.75" height="4.75" fill="#ce9b60"/><rect x="83.8" y="91.4" width="4.75" height="4.75" fill="#ce9b60"/><rect x="88.4" y="91.4" width="4.75" height="4.75" fill="#d3a467"/><rect x="93" y="91.4" width="4.75" height="4.75" fill="#cc985e"/><rect x="97.6" y="91.4" width="4.75" height="4.75" fill="#d3a366"/><rect x="102.2" y="91.4" width="4.75" height="4.75" fill="#dbb271"/><rect x="106.8" y="91.4" width="4.75" height="4.75" fill="#ddb675"/><rect x="111.4" y="91.4" width="4.75" height="4.75" fill="#dfb979"/><rect x="116" y="91.4" width="4.75" height="4.75" fill="#d8ac6d"/><rect x="120.6" y="91.4" width="4.75" height="4.75" fill="#ce9c60"/><rect x="125.2" y="91.4" width="4.75" height="4.75" fill="#d7ac6c"/><rect x="129.8" y="91.4" width="4.75" height="4.75" fill="#dab171"/><rect x="134.4" y="91.4" width="4.75" height="4.75" fill="#deb877"/><rect x="139" y="91.4" width="4.75" height="4.75" fill="#e3c182"/><rect x="143.6" y="91.4" width="4.75" height="4.75" fill="#d6a96a"/><rect x="148.2" y="91.4" width="4.75" height="4.75" fill="#e6c688"/><rect x="152.8" y="91.4" width="4.75" height="4.75" fill="#ebcf93"/><rect x="157.4" y="91.4" width="4.75" height="4.75" fill="#e2be7f"/><rect x="162" y="91.4" width="4.75" height="4.75" fill="#e8c98c"/><rect x="166.6" y="91.4" width="4.75" height="4.75" fill="#edd499"/><rect x="171.2" y="91.4" width="4.75" height="4.75" fill="#f1dda4"/><rect x="175.8" y="91.4" width="4.75" height="4.75" fill="#d8ebbe"/><rect x="180.4" y="91.4" width="4.75" height="4.75" fill="#e3c182"/><rect x="185" y="91.4" width="4.75" height="4.75" fill="#f6e8af"/><rect x="189.6" y="91.4" width="4.75" height="4.75" fill="#ebce92"/><rect x="194.2" y="91.4" width="4.75" height="4.75" fill="#f2f1b8"/><rect x="198.8" y="91.4" width="4.75" height="4.75" fill="#cee7bd"/><rect x="203.4" y="91.4" width="4.75" height="4.75" fill="#e6c587"/><rect x="208" y="91.4" width="4.75" height="4.75" fill="#f8f0b7"/><rect x="212.6" y="91.4" width="4.75" height="4.75" fill="#eff1b9"/><rect x="217.2" y="91.4" width="4.75" height="4.75" fill="#f8efb5"/><rect x="221.8" y="91.4" width="4.75" height="4.75" fill="#eff1ba"/><rect x="226.4" y="91.4" width="4.75" height="4.75" fill="#ecd297"/><rect x="231" y="91.4" width="4.75" height="4.75" fill="#e9f0bb"/><rect x="235.6" y="91.4" width="4.75" height="4.75" fill="#f2f1b9"/><rect x="240.2" y="91.4" width="4.75" height="4.75" fill="#f6f0b7"/><rect x="244.8" y="91.4" width="4.75" height="4.75" fill="#f7ebb2"/><rect x="249.4" y="91.4" width="4.75" height="4.75" fill="#eef1ba"/><rect x="254" y="91.4" width="4.75" height="4.75" fill="#f8edb3"/><rect x="24" y="96" width="4.75" height="4.75" fill="#ebcf93"/><rect x="28.6" y="96" width="4.75" height="4.75" fill="#e4c283"/><rect x="33.2" y="96" width="4.75" height="4.75" fill="#d2a265"/><rect x="37.8" y="96" width="4.75" height="4.75" fill="#e9ca8d"/><rect x="42.4" y="96" width="4.75" height="4.75" fill="#ebcf92"/><rect x="47" y="96" width="4.75" height="4.75" fill="#efd89e"/><rect x="51.6" y="96" width="4.75" height="4.75" fill="#e0bb7b"/><rect x="56.2" y="96" width="4.75" height="4.75" fill="#e9ca8d"/><rect x="60.8" y="96" width="4.75" height="4.75" fill="#eed69b"/><rect x="65.4" y="96" width="4.75" height="4.75" fill="#ebd094"/><rect x="70" y="96" width="4.75" height="4.75" fill="#f6e8af"/><rect x="74.6" y="96" width="4.75" height="4.75" fill="#f7f0b7"/><rect x="79.2" y="96" width="4.75" height="4.75" fill="#dab170"/><rect x="83.8" y="96" width="4.75" height="4.75" fill="#c79259"/><rect x="88.4" y="96" width="4.75" height="4.75" fill="#e1bc7d"/><rect x="93" y="96" width="4.75" height="4.75" fill="#e6c587"/><rect x="97.6" y="96" width="4.75" height="4.75" fill="#deb777"/><rect x="102.2" y="96" width="4.75" height="4.75" fill="#dcb372"/><rect x="106.8" y="96" width="4.75" height="4.75" fill="#ce9b60"/><rect x="111.4" y="96" width="4.75" height="4.75" fill="#cd9a5f"/><rect x="116" y="96" width="4.75" height="4.75" fill="#dbb372"/><rect x="120.6" y="96" width="4.75" height="4.75" fill="#ca965c"/><rect x="125.2" y="96" width="4.75" height="4.75" fill="#c69158"/><rect x="129.8" y="96" width="4.75" height="4.75" fill="#d3a467"/><rect x="134.4" y="96" width="4.75" height="4.75" fill="#f5e5ac"/><rect x="139" y="96" width="4.75" height="4.75" fill="#f4e2a9"/><rect x="143.6" y="96" width="4.75" height="4.75" fill="#dfba7a"/><rect x="148.2" y="96" width="4.75" height="4.75" fill="#e2be7f"/><rect x="152.8" y="96" width="4.75" height="4.75" fill="#ecd195"/><rect x="157.4" y="96" width="4.75" height="4.75" fill="#e3c081"/><rect x="162" y="96" width="4.75" height="4.75" fill="#f4e3aa"/><rect x="166.6" y="96" width="4.75" height="4.75" fill="#ebd094"/><rect x="171.2" y="96" width="4.75" height="4.75" fill="#ebd094"/><rect x="175.8" y="96" width="4.75" height="4.75" fill="#edf1ba"/><rect x="180.4" y="96" width="4.75" height="4.75" fill="#f3e2a9"/><rect x="185" y="96" width="4.75" height="4.75" fill="#f7eab1"/><rect x="189.6" y="96" width="4.75" height="4.75" fill="#f5e6ad"/><rect x="194.2" y="96" width="4.75" height="4.75" fill="#f3e2a9"/><rect x="198.8" y="96" width="4.75" height="4.75" fill="#f8edb3"/><rect x="203.4" y="96" width="4.75" height="4.75" fill="#f4e3aa"/><rect x="208" y="96" width="4.75" height="4.75" fill="#edd398"/><rect x="212.6" y="96" width="4.75" height="4.75" fill="#ebcf93"/><rect x="217.2" y="96" width="4.75" height="4.75" fill="#f2dfa5"/><rect x="221.8" y="96" width="4.75" height="4.75" fill="#f5e5ac"/><rect x="226.4" y="96" width="4.75" height="4.75" fill="#f7ecb2"/><rect x="231" y="96" width="4.75" height="4.75" fill="#f8edb3"/><rect x="235.6" y="96" width="4.75" height="4.75" fill="#f4f0b8"/><rect x="240.2" y="96" width="4.75" height="4.75" fill="#f8f0b6"/><rect x="244.8" y="96" width="4.75" height="4.75" fill="#f5e6ad"/><rect x="249.4" y="96" width="4.75" height="4.75" fill="#f5e7ae"/><rect x="254" y="96" width="4.75" height="4.75" fill="#ecd195"/><rect x="24" y="100.6" width="4.75" height="4.75" fill="#e7c88a"/><rect x="28.6" y="100.6" width="4.75" height="4.75" fill="#edd498"/><rect x="33.2" y="100.6" width="4.75" height="4.75" fill="#edd499"/><rect x="37.8" y="100.6" width="4.75" height="4.75" fill="#e8c98b"/><rect x="42.4" y="100.6" width="4.75" height="4.75" fill="#e7c88a"/><rect x="47" y="100.6" width="4.75" height="4.75" fill="#f0dba1"/><rect x="51.6" y="100.6" width="4.75" height="4.75" fill="#e9cb8e"/><rect x="56.2" y="100.6" width="4.75" height="4.75" fill="#efd89d"/><rect x="60.8" y="100.6" width="4.75" height="4.75" fill="#eed59a"/><rect x="65.4" y="100.6" width="4.75" height="4.75" fill="#ecd196"/><rect x="70" y="100.6" width="4.75" height="4.75" fill="#f7eab1"/><rect x="74.6" y="100.6" width="4.75" height="4.75" fill="#ebd094"/><rect x="79.2" y="100.6" width="4.75" height="4.75" fill="#e5c385"/><rect x="83.8" y="100.6" width="4.75" height="4.75" fill="#d9ae6e"/><rect x="88.4" y="100.6" width="4.75" height="4.75" fill="#d7aa6b"/><rect x="93" y="100.6" width="4.75" height="4.75" fill="#ebcf93"/><rect x="97.6" y="100.6" width="4.75" height="4.75" fill="#e9cb8e"/><rect x="102.2" y="100.6" width="4.75" height="4.75" fill="#d4a568"/><rect x="106.8" y="100.6" width="4.75" height="4.75" fill="#d8ad6e"/><rect x="111.4" y="100.6" width="4.75" height="4.75" fill="#deb777"/><rect x="116" y="100.6" width="4.75" height="4.75" fill="#dbb272"/><rect x="120.6" y="100.6" width="4.75" height="4.75" fill="#e1bd7e"/><rect x="125.2" y="100.6" width="4.75" height="4.75" fill="#cd9a5f"/><rect x="129.8" y="100.6" width="4.75" height="4.75" fill="#d6aa6b"/><rect x="134.4" y="100.6" width="4.75" height="4.75" fill="#e4c283"/><rect x="139" y="100.6" width="4.75" height="4.75" fill="#efd89e"/><rect x="143.6" y="100.6" width="4.75" height="4.75" fill="#e7c88a"/><rect x="148.2" y="100.6" width="4.75" height="4.75" fill="#e0bb7c"/><rect x="152.8" y="100.6" width="4.75" height="4.75" fill="#e6c587"/><rect x="157.4" y="100.6" width="4.75" height="4.75" fill="#e3c183"/><rect x="162" y="100.6" width="4.75" height="4.75" fill="#e4c183"/><rect x="166.6" y="100.6" width="4.75" height="4.75" fill="#f8edb3"/><rect x="171.2" y="100.6" width="4.75" height="4.75" fill="#f1dca2"/><rect x="175.8" y="100.6" width="4.75" height="4.75" fill="#f8ecb3"/><rect x="180.4" y="100.6" width="4.75" height="4.75" fill="#d9ebbe"/><rect x="185" y="100.6" width="4.75" height="4.75" fill="#f3f1b8"/><rect x="189.6" y="100.6" width="4.75" height="4.75" fill="#f6e8af"/><rect x="194.2" y="100.6" width="4.75" height="4.75" fill="#f0daa0"/><rect x="198.8" y="100.6" width="4.75" height="4.75" fill="#f8edb3"/><rect x="203.4" y="100.6" width="4.75" height="4.75" fill="#e3eebc"/><rect x="208" y="100.6" width="4.75" height="4.75" fill="#f4f0b8"/><rect x="212.6" y="100.6" width="4.75" height="4.75" fill="#e9f0bb"/><rect x="217.2" y="100.6" width="4.75" height="4.75" fill="#f8eeb4"/><rect x="221.8" y="100.6" width="4.75" height="4.75" fill="#f7f0b7"/><rect x="226.4" y="100.6" width="4.75" height="4.75" fill="#f5e7ae"/><rect x="231" y="100.6" width="4.75" height="4.75" fill="#f8eeb4"/><rect x="235.6" y="100.6" width="4.75" height="4.75" fill="#ecf0ba"/><rect x="240.2" y="100.6" width="4.75" height="4.75" fill="#f0daa0"/><rect x="244.8" y="100.6" width="4.75" height="4.75" fill="#f8edb3"/><rect x="249.4" y="100.6" width="4.75" height="4.75" fill="#f9f0b6"/><rect x="254" y="100.6" width="4.75" height="4.75" fill="#f5e7ad"/><rect x="24" y="105.2" width="4.75" height="4.75" fill="#e6c587"/><rect x="28.6" y="105.2" width="4.75" height="4.75" fill="#efd99e"/><rect x="33.2" y="105.2" width="4.75" height="4.75" fill="#f7eab0"/><rect x="37.8" y="105.2" width="4.75" height="4.75" fill="#eed69b"/><rect x="42.4" y="105.2" width="4.75" height="4.75" fill="#ecd195"/><rect x="47" y="105.2" width="4.75" height="4.75" fill="#d9af6f"/><rect x="51.6" y="105.2" width="4.75" height="4.75" fill="#f6e9b0"/><rect x="56.2" y="105.2" width="4.75" height="4.75" fill="#eacc90"/><rect x="60.8" y="105.2" width="4.75" height="4.75" fill="#e9ca8d"/><rect x="65.4" y="105.2" width="4.75" height="4.75" fill="#dfb979"/><rect x="70" y="105.2" width="4.75" height="4.75" fill="#efd79d"/><rect x="74.6" y="105.2" width="4.75" height="4.75" fill="#e8c98c"/><rect x="79.2" y="105.2" width="4.75" height="4.75" fill="#ecd297"/><rect x="83.8" y="105.2" width="4.75" height="4.75" fill="#ebd094"/><rect x="88.4" y="105.2" width="4.75" height="4.75" fill="#e4c283"/><rect x="93" y="105.2" width="4.75" height="4.75" fill="#e2bf7f"/><rect x="97.6" y="105.2" width="4.75" height="4.75" fill="#d09f63"/><rect x="102.2" y="105.2" width="4.75" height="4.75" fill="#e2be7f"/><rect x="106.8" y="105.2" width="4.75" height="4.75" fill="#cb985d"/><rect x="111.4" y="105.2" width="4.75" height="4.75" fill="#be8650"/><rect x="116" y="105.2" width="4.75" height="4.75" fill="#d1a064"/><rect x="120.6" y="105.2" width="4.75" height="4.75" fill="#ce9b60"/><rect x="125.2" y="105.2" width="4.75" height="4.75" fill="#cf9d61"/><rect x="129.8" y="105.2" width="4.75" height="4.75" fill="#d9af6f"/><rect x="134.4" y="105.2" width="4.75" height="4.75" fill="#e3c182"/><rect x="139" y="105.2" width="4.75" height="4.75" fill="#d8ac6d"/><rect x="143.6" y="105.2" width="4.75" height="4.75" fill="#e5c586"/><rect x="148.2" y="105.2" width="4.75" height="4.75" fill="#f4e4ab"/><rect x="152.8" y="105.2" width="4.75" height="4.75" fill="#f1dca3"/><rect x="157.4" y="105.2" width="4.75" height="4.75" fill="#ecd296"/><rect x="162" y="105.2" width="4.75" height="4.75" fill="#f0daa0"/><rect x="166.6" y="105.2" width="4.75" height="4.75" fill="#f2dea5"/><rect x="171.2" y="105.2" width="4.75" height="4.75" fill="#f8edb3"/><rect x="175.8" y="105.2" width="4.75" height="4.75" fill="#e3eebc"/><rect x="180.4" y="105.2" width="4.75" height="4.75" fill="#f4f0b8"/><rect x="185" y="105.2" width="4.75" height="4.75" fill="#ecd195"/><rect x="189.6" y="105.2" width="4.75" height="4.75" fill="#f8edb4"/><rect x="194.2" y="105.2" width="4.75" height="4.75" fill="#f2dfa6"/><rect x="198.8" y="105.2" width="4.75" height="4.75" fill="#f4f0b8"/><rect x="203.4" y="105.2" width="4.75" height="4.75" fill="#f5e7ae"/><rect x="208" y="105.2" width="4.75" height="4.75" fill="#f8f0b7"/><rect x="212.6" y="105.2" width="4.75" height="4.75" fill="#cde7bd"/><rect x="217.2" y="105.2" width="4.75" height="4.75" fill="#f5e6ad"/><rect x="221.8" y="105.2" width="4.75" height="4.75" fill="#f5e6ad"/><rect x="226.4" y="105.2" width="4.75" height="4.75" fill="#f4e3a9"/><rect x="231" y="105.2" width="4.75" height="4.75" fill="#ecd195"/><rect x="235.6" y="105.2" width="4.75" height="4.75" fill="#efd89e"/><rect x="240.2" y="105.2" width="4.75" height="4.75" fill="#f4f0b8"/><rect x="244.8" y="105.2" width="4.75" height="4.75" fill="#f6e9af"/><rect x="249.4" y="105.2" width="4.75" height="4.75" fill="#eed79c"/><rect x="254" y="105.2" width="4.75" height="4.75" fill="#f1dea4"/><rect x="24" y="109.8" width="4.75" height="4.75" fill="#eed69b"/><rect x="28.6" y="109.8" width="4.75" height="4.75" fill="#e1bd7d"/><rect x="33.2" y="109.8" width="4.75" height="4.75" fill="#e5c486"/><rect x="37.8" y="109.8" width="4.75" height="4.75" fill="#ecd195"/><rect x="42.4" y="109.8" width="4.75" height="4.75" fill="#f4e2a9"/><rect x="47" y="109.8" width="4.75" height="4.75" fill="#f6e9b0"/><rect x="51.6" y="109.8" width="4.75" height="4.75" fill="#f1dda3"/><rect x="56.2" y="109.8" width="4.75" height="4.75" fill="#eace91"/><rect x="60.8" y="109.8" width="4.75" height="4.75" fill="#eace92"/><rect x="65.4" y="109.8" width="4.75" height="4.75" fill="#f6eab0"/><rect x="70" y="109.8" width="4.75" height="4.75" fill="#f8edb3"/><rect x="74.6" y="109.8" width="4.75" height="4.75" fill="#efd99f"/><rect x="79.2" y="109.8" width="4.75" height="4.75" fill="#f2dfa6"/><rect x="83.8" y="109.8" width="4.75" height="4.75" fill="#eed59a"/><rect x="88.4" y="109.8" width="4.75" height="4.75" fill="#e8ca8d"/><rect x="93" y="109.8" width="4.75" height="4.75" fill="#ddb676"/><rect x="97.6" y="109.8" width="4.75" height="4.75" fill="#cd9a5f"/><rect x="102.2" y="109.8" width="4.75" height="4.75" fill="#ce9b60"/><rect x="106.8" y="109.8" width="4.75" height="4.75" fill="#c18a53"/><rect x="111.4" y="109.8" width="4.75" height="4.75" fill="#dcb473"/><rect x="116" y="109.8" width="4.75" height="4.75" fill="#d8ac6d"/><rect x="120.6" y="109.8" width="4.75" height="4.75" fill="#c9945b"/><rect x="125.2" y="109.8" width="4.75" height="4.75" fill="#e7c88b"/><rect x="129.8" y="109.8" width="4.75" height="4.75" fill="#e7c789"/><rect x="134.4" y="109.8" width="4.75" height="4.75" fill="#cf9d61"/><rect x="139" y="109.8" width="4.75" height="4.75" fill="#f4e4ab"/><rect x="143.6" y="109.8" width="4.75" height="4.75" fill="#efd79c"/><rect x="148.2" y="109.8" width="4.75" height="4.75" fill="#f8edb3"/><rect x="152.8" y="109.8" width="4.75" height="4.75" fill="#e2bf80"/><rect x="157.4" y="109.8" width="4.75" height="4.75" fill="#f4e4aa"/><rect x="162" y="109.8" width="4.75" height="4.75" fill="#f5e5ac"/><rect x="166.6" y="109.8" width="4.75" height="4.75" fill="#f6e8af"/><rect x="171.2" y="109.8" width="4.75" height="4.75" fill="#f2f1b8"/><rect x="175.8" y="109.8" width="4.75" height="4.75" fill="#cde7bd"/><rect x="180.4" y="109.8" width="4.75" height="4.75" fill="#f7ecb2"/><rect x="185" y="109.8" width="4.75" height="4.75" fill="#f8edb3"/><rect x="189.6" y="109.8" width="4.75" height="4.75" fill="#f4e4ab"/><rect x="194.2" y="109.8" width="4.75" height="4.75" fill="#f6eab0"/><rect x="198.8" y="109.8" width="4.75" height="4.75" fill="#f6e9af"/><rect x="203.4" y="109.8" width="4.75" height="4.75" fill="#f3f1b8"/><rect x="208" y="109.8" width="4.75" height="4.75" fill="#f3f1b8"/><rect x="212.6" y="109.8" width="4.75" height="4.75" fill="#f4f0b8"/><rect x="217.2" y="109.8" width="4.75" height="4.75" fill="#f9f0b6"/><rect x="221.8" y="109.8" width="4.75" height="4.75" fill="#f3f1b8"/><rect x="226.4" y="109.8" width="4.75" height="4.75" fill="#d2e9be"/><rect x="231" y="109.8" width="4.75" height="4.75" fill="#d7ebbe"/><rect x="235.6" y="109.8" width="4.75" height="4.75" fill="#f0f1b9"/><rect x="240.2" y="109.8" width="4.75" height="4.75" fill="#f9efb6"/><rect x="244.8" y="109.8" width="4.75" height="4.75" fill="#d5eabe"/><rect x="249.4" y="109.8" width="4.75" height="4.75" fill="#f7ecb2"/><rect x="254" y="109.8" width="4.75" height="4.75" fill="#ecf0ba"/><rect x="24" y="114.4" width="4.75" height="4.75" fill="#f2dfa6"/><rect x="28.6" y="114.4" width="4.75" height="4.75" fill="#e6c688"/><rect x="33.2" y="114.4" width="4.75" height="4.75" fill="#f0da9f"/><rect x="37.8" y="114.4" width="4.75" height="4.75" fill="#ddb676"/><rect x="42.4" y="114.4" width="4.75" height="4.75" fill="#f1dda3"/><rect x="47" y="114.4" width="4.75" height="4.75" fill="#ebcf92"/><rect x="51.6" y="114.4" width="4.75" height="4.75" fill="#d9ae6e"/><rect x="56.2" y="114.4" width="4.75" height="4.75" fill="#eed79c"/><rect x="60.8" y="114.4" width="4.75" height="4.75" fill="#e0bb7b"/><rect x="65.4" y="114.4" width="4.75" height="4.75" fill="#f4e3aa"/><rect x="70" y="114.4" width="4.75" height="4.75" fill="#e9cc8f"/><rect x="74.6" y="114.4" width="4.75" height="4.75" fill="#f0daa0"/><rect x="79.2" y="114.4" width="4.75" height="4.75" fill="#f0dba1"/><rect x="83.8" y="114.4" width="4.75" height="4.75" fill="#e8c98c"/><rect x="88.4" y="114.4" width="4.75" height="4.75" fill="#ebd093"/><rect x="93" y="114.4" width="4.75" height="4.75" fill="#dfb978"/><rect x="97.6" y="114.4" width="4.75" height="4.75" fill="#e1be7e"/><rect x="102.2" y="114.4" width="4.75" height="4.75" fill="#d3a467"/><rect x="106.8" y="114.4" width="4.75" height="4.75" fill="#d3a366"/><rect x="111.4" y="114.4" width="4.75" height="4.75" fill="#b07442"/><rect x="116" y="114.4" width="4.75" height="4.75" fill="#ddb676"/><rect x="120.6" y="114.4" width="4.75" height="4.75" fill="#d5a86a"/><rect x="125.2" y="114.4" width="4.75" height="4.75" fill="#c79259"/><rect x="129.8" y="114.4" width="4.75" height="4.75" fill="#dfb978"/><rect x="134.4" y="114.4" width="4.75" height="4.75" fill="#e8c98c"/><rect x="139" y="114.4" width="4.75" height="4.75" fill="#f1dca2"/><rect x="143.6" y="114.4" width="4.75" height="4.75" fill="#dfb979"/><rect x="148.2" y="114.4" width="4.75" height="4.75" fill="#f6e9af"/><rect x="152.8" y="114.4" width="4.75" height="4.75" fill="#eed69b"/><rect x="157.4" y="114.4" width="4.75" height="4.75" fill="#e8efbb"/><rect x="162" y="114.4" width="4.75" height="4.75" fill="#f4e3aa"/><rect x="166.6" y="114.4" width="4.75" height="4.75" fill="#f6f0b7"/><rect x="171.2" y="114.4" width="4.75" height="4.75" fill="#f8eeb4"/><rect x="175.8" y="114.4" width="4.75" height="4.75" fill="#f7ebb1"/><rect x="180.4" y="114.4" width="4.75" height="4.75" fill="#d6eabe"/><rect x="185" y="114.4" width="4.75" height="4.75" fill="#dcecbd"/><rect x="189.6" y="114.4" width="4.75" height="4.75" fill="#d4eabe"/><rect x="194.2" y="114.4" width="4.75" height="4.75" fill="#eaf0bb"/><rect x="198.8" y="114.4" width="4.75" height="4.75" fill="#f7ebb1"/><rect x="203.4" y="114.4" width="4.75" height="4.75" fill="#f1dda3"/><rect x="208" y="114.4" width="4.75" height="4.75" fill="#f8edb3"/><rect x="212.6" y="114.4" width="4.75" height="4.75" fill="#f8efb5"/><rect x="217.2" y="114.4" width="4.75" height="4.75" fill="#f9f0b6"/><rect x="221.8" y="114.4" width="4.75" height="4.75" fill="#daecbe"/><rect x="226.4" y="114.4" width="4.75" height="4.75" fill="#e0edbd"/><rect x="231" y="114.4" width="4.75" height="4.75" fill="#eff1ba"/><rect x="235.6" y="114.4" width="4.75" height="4.75" fill="#edf1ba"/><rect x="240.2" y="114.4" width="4.75" height="4.75" fill="#f5f0b8"/><rect x="244.8" y="114.4" width="4.75" height="4.75" fill="#f1f1b9"/><rect x="249.4" y="114.4" width="4.75" height="4.75" fill="#e7efbb"/><rect x="254" y="114.4" width="4.75" height="4.75" fill="#e2eebc"/><rect x="24" y="119" width="4.75" height="4.75" fill="#e2be7f"/><rect x="28.6" y="119" width="4.75" height="4.75" fill="#daaf70"/><rect x="33.2" y="119" width="4.75" height="4.75" fill="#f4e3aa"/><rect x="37.8" y="119" width="4.75" height="4.75" fill="#eacd90"/><rect x="42.4" y="119" width="4.75" height="4.75" fill="#f2dea5"/><rect x="47" y="119" width="4.75" height="4.75" fill="#d8ad6e"/><rect x="51.6" y="119" width="4.75" height="4.75" fill="#e6c587"/><rect x="56.2" y="119" width="4.75" height="4.75" fill="#e9cb8f"/><rect x="60.8" y="119" width="4.75" height="4.75" fill="#dab170"/><rect x="65.4" y="119" width="4.75" height="4.75" fill="#e5c486"/><rect x="70" y="119" width="4.75" height="4.75" fill="#f4e3aa"/><rect x="74.6" y="119" width="4.75" height="4.75" fill="#f7ebb1"/><rect x="79.2" y="119" width="4.75" height="4.75" fill="#f7ecb2"/><rect x="83.8" y="119" width="4.75" height="4.75" fill="#e2bf80"/><rect x="88.4" y="119" width="4.75" height="4.75" fill="#dbb272"/><rect x="93" y="119" width="4.75" height="4.75" fill="#eace92"/><rect x="97.6" y="119" width="4.75" height="4.75" fill="#e5c385"/><rect x="102.2" y="119" width="4.75" height="4.75" fill="#d5a769"/><rect x="106.8" y="119" width="4.75" height="4.75" fill="#c38b55"/><rect x="111.4" y="119" width="4.75" height="4.75" fill="#d6aa6b"/><rect x="116" y="119" width="4.75" height="4.75" fill="#daaf6f"/><rect x="120.6" y="119" width="4.75" height="4.75" fill="#dbb171"/><rect x="125.2" y="119" width="4.75" height="4.75" fill="#d4a668"/><rect x="129.8" y="119" width="4.75" height="4.75" fill="#e1bd7d"/><rect x="134.4" y="119" width="4.75" height="4.75" fill="#ecd195"/><rect x="139" y="119" width="4.75" height="4.75" fill="#e4c283"/><rect x="143.6" y="119" width="4.75" height="4.75" fill="#d9af6f"/><rect x="148.2" y="119" width="4.75" height="4.75" fill="#f0dba0"/><rect x="152.8" y="119" width="4.75" height="4.75" fill="#f4e3aa"/><rect x="157.4" y="119" width="4.75" height="4.75" fill="#f4e3aa"/><rect x="162" y="119" width="4.75" height="4.75" fill="#f5f0b7"/><rect x="166.6" y="119" width="4.75" height="4.75" fill="#f5e7ad"/><rect x="171.2" y="119" width="4.75" height="4.75" fill="#f9f0b6"/><rect x="175.8" y="119" width="4.75" height="4.75" fill="#f9efb5"/><rect x="180.4" y="119" width="4.75" height="4.75" fill="#eef1ba"/><rect x="185" y="119" width="4.75" height="4.75" fill="#d5eabe"/><rect x="189.6" y="119" width="4.75" height="4.75" fill="#f9f0b6"/><rect x="194.2" y="119" width="4.75" height="4.75" fill="#cce6bd"/><rect x="198.8" y="119" width="4.75" height="4.75" fill="#d6eabe"/><rect x="203.4" y="119" width="4.75" height="4.75" fill="#e7efbb"/><rect x="208" y="119" width="4.75" height="4.75" fill="#e7efbb"/><rect x="212.6" y="119" width="4.75" height="4.75" fill="#c8e5bd"/><rect x="217.2" y="119" width="4.75" height="4.75" fill="#eff1ba"/><rect x="221.8" y="119" width="4.75" height="4.75" fill="#eaf0bb"/><rect x="226.4" y="119" width="4.75" height="4.75" fill="#f9f0b6"/><rect x="231" y="119" width="4.75" height="4.75" fill="#ddecbd"/><rect x="235.6" y="119" width="4.75" height="4.75" fill="#cfe7bd"/><rect x="240.2" y="119" width="4.75" height="4.75" fill="#e5efbc"/><rect x="244.8" y="119" width="4.75" height="4.75" fill="#ecf0ba"/><rect x="249.4" y="119" width="4.75" height="4.75" fill="#f6f0b7"/><rect x="254" y="119" width="4.75" height="4.75" fill="#f1f1b9"/><rect x="24" y="123.6" width="4.75" height="4.75" fill="#dab171"/><rect x="28.6" y="123.6" width="4.75" height="4.75" fill="#f1dda4"/><rect x="33.2" y="123.6" width="4.75" height="4.75" fill="#e5c385"/><rect x="37.8" y="123.6" width="4.75" height="4.75" fill="#deb776"/><rect x="42.4" y="123.6" width="4.75" height="4.75" fill="#e1bd7e"/><rect x="47" y="123.6" width="4.75" height="4.75" fill="#e0bc7c"/><rect x="51.6" y="123.6" width="4.75" height="4.75" fill="#f0daa0"/><rect x="56.2" y="123.6" width="4.75" height="4.75" fill="#f1dea4"/><rect x="60.8" y="123.6" width="4.75" height="4.75" fill="#dbb272"/><rect x="65.4" y="123.6" width="4.75" height="4.75" fill="#f2dea5"/><rect x="70" y="123.6" width="4.75" height="4.75" fill="#f5e6ac"/><rect x="74.6" y="123.6" width="4.75" height="4.75" fill="#edd398"/><rect x="79.2" y="123.6" width="4.75" height="4.75" fill="#e0bb7c"/><rect x="83.8" y="123.6" width="4.75" height="4.75" fill="#e4c283"/><rect x="88.4" y="123.6" width="4.75" height="4.75" fill="#e1bc7c"/><rect x="93" y="123.6" width="4.75" height="4.75" fill="#e5c587"/><rect x="97.6" y="123.6" width="4.75" height="4.75" fill="#d7aa6b"/><rect x="102.2" y="123.6" width="4.75" height="4.75" fill="#bf8751"/><rect x="106.8" y="123.6" width="4.75" height="4.75" fill="#d4a668"/><rect x="111.4" y="123.6" width="4.75" height="4.75" fill="#c18953"/><rect x="116" y="123.6" width="4.75" height="4.75" fill="#dcb473"/><rect x="120.6" y="123.6" width="4.75" height="4.75" fill="#ca955c"/><rect x="125.2" y="123.6" width="4.75" height="4.75" fill="#d3a366"/><rect x="129.8" y="123.6" width="4.75" height="4.75" fill="#d5a86a"/><rect x="134.4" y="123.6" width="4.75" height="4.75" fill="#dfb979"/><rect x="139" y="123.6" width="4.75" height="4.75" fill="#f4e3aa"/><rect x="143.6" y="123.6" width="4.75" height="4.75" fill="#f3e1a8"/><rect x="148.2" y="123.6" width="4.75" height="4.75" fill="#f3e2a9"/><rect x="152.8" y="123.6" width="4.75" height="4.75" fill="#f4e2a9"/><rect x="157.4" y="123.6" width="4.75" height="4.75" fill="#e7c88b"/><rect x="162" y="123.6" width="4.75" height="4.75" fill="#f4e2a9"/><rect x="166.6" y="123.6" width="4.75" height="4.75" fill="#f5e7ae"/><rect x="171.2" y="123.6" width="4.75" height="4.75" fill="#f5e5ac"/><rect x="175.8" y="123.6" width="4.75" height="4.75" fill="#eff1ba"/><rect x="180.4" y="123.6" width="4.75" height="4.75" fill="#f7eab0"/><rect x="185" y="123.6" width="4.75" height="4.75" fill="#f7eab1"/><rect x="189.6" y="123.6" width="4.75" height="4.75" fill="#f5e6ad"/><rect x="194.2" y="123.6" width="4.75" height="4.75" fill="#efd79c"/><rect x="198.8" y="123.6" width="4.75" height="4.75" fill="#eef1ba"/><rect x="203.4" y="123.6" width="4.75" height="4.75" fill="#d8ebbe"/><rect x="208" y="123.6" width="4.75" height="4.75" fill="#eff1ba"/><rect x="212.6" y="123.6" width="4.75" height="4.75" fill="#f8eeb4"/><rect x="217.2" y="123.6" width="4.75" height="4.75" fill="#efd89e"/><rect x="221.8" y="123.6" width="4.75" height="4.75" fill="#e3eebc"/><rect x="226.4" y="123.6" width="4.75" height="4.75" fill="#cee7bd"/><rect x="231" y="123.6" width="4.75" height="4.75" fill="#e4eebc"/><rect x="235.6" y="123.6" width="4.75" height="4.75" fill="#d8ebbe"/><rect x="240.2" y="123.6" width="4.75" height="4.75" fill="#d0e8bd"/><rect x="244.8" y="123.6" width="4.75" height="4.75" fill="#daecbe"/><rect x="249.4" y="123.6" width="4.75" height="4.75" fill="#f8efb5"/><rect x="254" y="123.6" width="4.75" height="4.75" fill="#e0edbd"/><rect x="24" y="128.2" width="4.75" height="4.75" fill="#efd99e"/><rect x="28.6" y="128.2" width="4.75" height="4.75" fill="#d9af6f"/><rect x="33.2" y="128.2" width="4.75" height="4.75" fill="#e5c485"/><rect x="37.8" y="128.2" width="4.75" height="4.75" fill="#dab171"/><rect x="42.4" y="128.2" width="4.75" height="4.75" fill="#e8c98c"/><rect x="47" y="128.2" width="4.75" height="4.75" fill="#eed59a"/><rect x="51.6" y="128.2" width="4.75" height="4.75" fill="#deb777"/><rect x="56.2" y="128.2" width="4.75" height="4.75" fill="#d4a668"/><rect x="60.8" y="128.2" width="4.75" height="4.75" fill="#f3e2a9"/><rect x="65.4" y="128.2" width="4.75" height="4.75" fill="#edd599"/><rect x="70" y="128.2" width="4.75" height="4.75" fill="#f8edb3"/><rect x="74.6" y="128.2" width="4.75" height="4.75" fill="#e7c78a"/><rect x="79.2" y="128.2" width="4.75" height="4.75" fill="#f6e7ae"/><rect x="83.8" y="128.2" width="4.75" height="4.75" fill="#f8eeb4"/><rect x="88.4" y="128.2" width="4.75" height="4.75" fill="#f5e6ac"/><rect x="93" y="128.2" width="4.75" height="4.75" fill="#ddb675"/><rect x="97.6" y="128.2" width="4.75" height="4.75" fill="#dcb574"/><rect x="102.2" y="128.2" width="4.75" height="4.75" fill="#d4a668"/><rect x="106.8" y="128.2" width="4.75" height="4.75" fill="#deb776"/><rect x="111.4" y="128.2" width="4.75" height="4.75" fill="#ddb676"/><rect x="116" y="128.2" width="4.75" height="4.75" fill="#d6a86a"/><rect x="120.6" y="128.2" width="4.75" height="4.75" fill="#c9955b"/><rect x="125.2" y="128.2" width="4.75" height="4.75" fill="#e2bf7f"/><rect x="129.8" y="128.2" width="4.75" height="4.75" fill="#dab070"/><rect x="134.4" y="128.2" width="4.75" height="4.75" fill="#ebcf92"/><rect x="139" y="128.2" width="4.75" height="4.75" fill="#ecd296"/><rect x="143.6" y="128.2" width="4.75" height="4.75" fill="#f7ecb2"/><rect x="148.2" y="128.2" width="4.75" height="4.75" fill="#f7eab0"/><rect x="152.8" y="128.2" width="4.75" height="4.75" fill="#eed69b"/><rect x="157.4" y="128.2" width="4.75" height="4.75" fill="#f5e7ad"/><rect x="162" y="128.2" width="4.75" height="4.75" fill="#e5efbc"/><rect x="166.6" y="128.2" width="4.75" height="4.75" fill="#f6e7ae"/><rect x="171.2" y="128.2" width="4.75" height="4.75" fill="#f2f1b8"/><rect x="175.8" y="128.2" width="4.75" height="4.75" fill="#deedbd"/><rect x="180.4" y="128.2" width="4.75" height="4.75" fill="#dcecbd"/><rect x="185" y="128.2" width="4.75" height="4.75" fill="#eff1ba"/><rect x="189.6" y="128.2" width="4.75" height="4.75" fill="#f4e3aa"/><rect x="194.2" y="128.2" width="4.75" height="4.75" fill="#f4e4ab"/><rect x="198.8" y="128.2" width="4.75" height="4.75" fill="#f2f1b8"/><rect x="203.4" y="128.2" width="4.75" height="4.75" fill="#f0f1b9"/><rect x="208" y="128.2" width="4.75" height="4.75" fill="#bde1bc"/><rect x="212.6" y="128.2" width="4.75" height="4.75" fill="#f9f0b6"/><rect x="217.2" y="128.2" width="4.75" height="4.75" fill="#d0e8bd"/><rect x="221.8" y="128.2" width="4.75" height="4.75" fill="#d6eabe"/><rect x="226.4" y="128.2" width="4.75" height="4.75" fill="#f5e6ad"/><rect x="231" y="128.2" width="4.75" height="4.75" fill="#f9efb5"/><rect x="235.6" y="128.2" width="4.75" height="4.75" fill="#edf1ba"/><rect x="240.2" y="128.2" width="4.75" height="4.75" fill="#f8f0b6"/><rect x="244.8" y="128.2" width="4.75" height="4.75" fill="#f6f0b7"/><rect x="249.4" y="128.2" width="4.75" height="4.75" fill="#eff1b9"/><rect x="254" y="128.2" width="4.75" height="4.75" fill="#f6e9b0"/><rect x="24" y="132.8" width="4.75" height="4.75" fill="#edd398"/><rect x="28.6" y="132.8" width="4.75" height="4.75" fill="#e2bf80"/><rect x="33.2" y="132.8" width="4.75" height="4.75" fill="#e3c182"/><rect x="37.8" y="132.8" width="4.75" height="4.75" fill="#edd499"/><rect x="42.4" y="132.8" width="4.75" height="4.75" fill="#e3c082"/><rect x="47" y="132.8" width="4.75" height="4.75" fill="#ebd094"/><rect x="51.6" y="132.8" width="4.75" height="4.75" fill="#f5e5ac"/><rect x="56.2" y="132.8" width="4.75" height="4.75" fill="#e9cb8f"/><rect x="60.8" y="132.8" width="4.75" height="4.75" fill="#e7c88b"/><rect x="65.4" y="132.8" width="4.75" height="4.75" fill="#f0dba1"/><rect x="70" y="132.8" width="4.75" height="4.75" fill="#ecd296"/><rect x="74.6" y="132.8" width="4.75" height="4.75" fill="#f7ecb2"/><rect x="79.2" y="132.8" width="4.75" height="4.75" fill="#e3c081"/><rect x="83.8" y="132.8" width="4.75" height="4.75" fill="#f0dba1"/><rect x="88.4" y="132.8" width="4.75" height="4.75" fill="#e1bd7e"/><rect x="93" y="132.8" width="4.75" height="4.75" fill="#d9af6f"/><rect x="97.6" y="132.8" width="4.75" height="4.75" fill="#eed59a"/><rect x="102.2" y="132.8" width="4.75" height="4.75" fill="#d19f63"/><rect x="106.8" y="132.8" width="4.75" height="4.75" fill="#e9ca8d"/><rect x="111.4" y="132.8" width="4.75" height="4.75" fill="#dcb574"/><rect x="116" y="132.8" width="4.75" height="4.75" fill="#e7c789"/><rect x="120.6" y="132.8" width="4.75" height="4.75" fill="#d1a064"/><rect x="125.2" y="132.8" width="4.75" height="4.75" fill="#ebd094"/><rect x="129.8" y="132.8" width="4.75" height="4.75" fill="#f1dca3"/><rect x="134.4" y="132.8" width="4.75" height="4.75" fill="#e6c587"/><rect x="139" y="132.8" width="4.75" height="4.75" fill="#e9ca8d"/><rect x="143.6" y="132.8" width="4.75" height="4.75" fill="#f5f0b8"/><rect x="148.2" y="132.8" width="4.75" height="4.75" fill="#f0daa0"/><rect x="152.8" y="132.8" width="4.75" height="4.75" fill="#eed59a"/><rect x="157.4" y="132.8" width="4.75" height="4.75" fill="#efd89e"/><rect x="162" y="132.8" width="4.75" height="4.75" fill="#f8eeb4"/><rect x="166.6" y="132.8" width="4.75" height="4.75" fill="#f7f0b7"/><rect x="171.2" y="132.8" width="4.75" height="4.75" fill="#f6f0b7"/><rect x="175.8" y="132.8" width="4.75" height="4.75" fill="#d2e9be"/><rect x="180.4" y="132.8" width="4.75" height="4.75" fill="#f9efb5"/><rect x="185" y="132.8" width="4.75" height="4.75" fill="#eff1b9"/><rect x="189.6" y="132.8" width="4.75" height="4.75" fill="#d7ebbe"/><rect x="194.2" y="132.8" width="4.75" height="4.75" fill="#f5e7ae"/><rect x="198.8" y="132.8" width="4.75" height="4.75" fill="#e2eebc"/><rect x="203.4" y="132.8" width="4.75" height="4.75" fill="#cfe8bd"/><rect x="208" y="132.8" width="4.75" height="4.75" fill="#f4e4ab"/><rect x="212.6" y="132.8" width="4.75" height="4.75" fill="#f6e8af"/><rect x="217.2" y="132.8" width="4.75" height="4.75" fill="#f7eab0"/><rect x="221.8" y="132.8" width="4.75" height="4.75" fill="#f3e0a7"/><rect x="226.4" y="132.8" width="4.75" height="4.75" fill="#ebf0bb"/><rect x="231" y="132.8" width="4.75" height="4.75" fill="#f2dea5"/><rect x="235.6" y="132.8" width="4.75" height="4.75" fill="#ebf0bb"/><rect x="240.2" y="132.8" width="4.75" height="4.75" fill="#d4eabe"/><rect x="244.8" y="132.8" width="4.75" height="4.75" fill="#f3e0a7"/><rect x="249.4" y="132.8" width="4.75" height="4.75" fill="#f9efb5"/><rect x="254" y="132.8" width="4.75" height="4.75" fill="#f0da9f"/><rect x="24" y="137.4" width="4.75" height="4.75" fill="#efd99e"/><rect x="28.6" y="137.4" width="4.75" height="4.75" fill="#e1bd7e"/><rect x="33.2" y="137.4" width="4.75" height="4.75" fill="#e6c688"/><rect x="37.8" y="137.4" width="4.75" height="4.75" fill="#e9cc8f"/><rect x="42.4" y="137.4" width="4.75" height="4.75" fill="#edd599"/><rect x="47" y="137.4" width="4.75" height="4.75" fill="#e5c587"/><rect x="51.6" y="137.4" width="4.75" height="4.75" fill="#e9cb8e"/><rect x="56.2" y="137.4" width="4.75" height="4.75" fill="#e3c182"/><rect x="60.8" y="137.4" width="4.75" height="4.75" fill="#eacd90"/><rect x="65.4" y="137.4" width="4.75" height="4.75" fill="#deb878"/><rect x="70" y="137.4" width="4.75" height="4.75" fill="#efd89d"/><rect x="74.6" y="137.4" width="4.75" height="4.75" fill="#dfb978"/><rect x="79.2" y="137.4" width="4.75" height="4.75" fill="#eacd91"/><rect x="83.8" y="137.4" width="4.75" height="4.75" fill="#f8ecb3"/><rect x="88.4" y="137.4" width="4.75" height="4.75" fill="#e8ca8d"/><rect x="93" y="137.4" width="4.75" height="4.75" fill="#d7aa6b"/><rect x="97.6" y="137.4" width="4.75" height="4.75" fill="#e2be7f"/><rect x="102.2" y="137.4" width="4.75" height="4.75" fill="#d2a265"/><rect x="106.8" y="137.4" width="4.75" height="4.75" fill="#c9945b"/><rect x="111.4" y="137.4" width="4.75" height="4.75" fill="#d2a164"/><rect x="116" y="137.4" width="4.75" height="4.75" fill="#e2bf80"/><rect x="120.6" y="137.4" width="4.75" height="4.75" fill="#e2bf80"/><rect x="125.2" y="137.4" width="4.75" height="4.75" fill="#e3c182"/><rect x="129.8" y="137.4" width="4.75" height="4.75" fill="#dfba7a"/><rect x="134.4" y="137.4" width="4.75" height="4.75" fill="#deb777"/><rect x="139" y="137.4" width="4.75" height="4.75" fill="#f4e3aa"/><rect x="143.6" y="137.4" width="4.75" height="4.75" fill="#edd499"/><rect x="148.2" y="137.4" width="4.75" height="4.75" fill="#e5c385"/><rect x="152.8" y="137.4" width="4.75" height="4.75" fill="#ddb675"/><rect x="157.4" y="137.4" width="4.75" height="4.75" fill="#e9cb8e"/><rect x="162" y="137.4" width="4.75" height="4.75" fill="#d4eabe"/><rect x="166.6" y="137.4" width="4.75" height="4.75" fill="#f2e0a6"/><rect x="171.2" y="137.4" width="4.75" height="4.75" fill="#f9f0b6"/><rect x="175.8" y="137.4" width="4.75" height="4.75" fill="#f3f1b8"/><rect x="180.4" y="137.4" width="4.75" height="4.75" fill="#f8f0b6"/><rect x="185" y="137.4" width="4.75" height="4.75" fill="#f9f0b6"/><rect x="189.6" y="137.4" width="4.75" height="4.75" fill="#f4e3a9"/><rect x="194.2" y="137.4" width="4.75" height="4.75" fill="#f5e6ad"/><rect x="198.8" y="137.4" width="4.75" height="4.75" fill="#d3e9be"/><rect x="203.4" y="137.4" width="4.75" height="4.75" fill="#f7eab0"/><rect x="208" y="137.4" width="4.75" height="4.75" fill="#e8efbb"/><rect x="212.6" y="137.4" width="4.75" height="4.75" fill="#f1dca2"/><rect x="217.2" y="137.4" width="4.75" height="4.75" fill="#f9efb5"/><rect x="221.8" y="137.4" width="4.75" height="4.75" fill="#f3f1b8"/><rect x="226.4" y="137.4" width="4.75" height="4.75" fill="#e4eebc"/><rect x="231" y="137.4" width="4.75" height="4.75" fill="#f4e5ab"/><rect x="235.6" y="137.4" width="4.75" height="4.75" fill="#eef1ba"/><rect x="240.2" y="137.4" width="4.75" height="4.75" fill="#f1f1b9"/><rect x="244.8" y="137.4" width="4.75" height="4.75" fill="#f7eab1"/><rect x="249.4" y="137.4" width="4.75" height="4.75" fill="#eff1b9"/><rect x="254" y="137.4" width="4.75" height="4.75" fill="#f6e8af"/><rect x="24" y="142" width="4.75" height="4.75" fill="#e1bc7d"/><rect x="28.6" y="142" width="4.75" height="4.75" fill="#e9cb8e"/><rect x="33.2" y="142" width="4.75" height="4.75" fill="#ce9b60"/><rect x="37.8" y="142" width="4.75" height="4.75" fill="#e8c98c"/><rect x="42.4" y="142" width="4.75" height="4.75" fill="#dfb978"/><rect x="47" y="142" width="4.75" height="4.75" fill="#dab070"/><rect x="51.6" y="142" width="4.75" height="4.75" fill="#e5c385"/><rect x="56.2" y="142" width="4.75" height="4.75" fill="#efd89e"/><rect x="60.8" y="142" width="4.75" height="4.75" fill="#e5c485"/><rect x="65.4" y="142" width="4.75" height="4.75" fill="#f3e2a9"/><rect x="70" y="142" width="4.75" height="4.75" fill="#e0bb7c"/><rect x="74.6" y="142" width="4.75" height="4.75" fill="#e0bb7b"/><rect x="79.2" y="142" width="4.75" height="4.75" fill="#f6e8af"/><rect x="83.8" y="142" width="4.75" height="4.75" fill="#edd398"/><rect x="88.4" y="142" width="4.75" height="4.75" fill="#eed59a"/><rect x="93" y="142" width="4.75" height="4.75" fill="#d9af6f"/><rect x="97.6" y="142" width="4.75" height="4.75" fill="#e7c789"/><rect x="102.2" y="142" width="4.75" height="4.75" fill="#deb877"/><rect x="106.8" y="142" width="4.75" height="4.75" fill="#e0bb7b"/><rect x="111.4" y="142" width="4.75" height="4.75" fill="#d9af6f"/><rect x="116" y="142" width="4.75" height="4.75" fill="#e9ca8d"/><rect x="120.6" y="142" width="4.75" height="4.75" fill="#d9af6f"/><rect x="125.2" y="142" width="4.75" height="4.75" fill="#dab070"/><rect x="129.8" y="142" width="4.75" height="4.75" fill="#d8ac6d"/><rect x="134.4" y="142" width="4.75" height="4.75" fill="#f2dea4"/><rect x="139" y="142" width="4.75" height="4.75" fill="#e2be7f"/><rect x="143.6" y="142" width="4.75" height="4.75" fill="#e1bd7d"/><rect x="148.2" y="142" width="4.75" height="4.75" fill="#e5c485"/><rect x="152.8" y="142" width="4.75" height="4.75" fill="#edd499"/><rect x="157.4" y="142" width="4.75" height="4.75" fill="#eacd90"/><rect x="162" y="142" width="4.75" height="4.75" fill="#f5e5ac"/><rect x="166.6" y="142" width="4.75" height="4.75" fill="#f5e6ad"/><rect x="171.2" y="142" width="4.75" height="4.75" fill="#f7eab1"/><rect x="175.8" y="142" width="4.75" height="4.75" fill="#f6e7ae"/><rect x="180.4" y="142" width="4.75" height="4.75" fill="#f5f0b7"/><rect x="185" y="142" width="4.75" height="4.75" fill="#f8edb4"/><rect x="189.6" y="142" width="4.75" height="4.75" fill="#f4f0b8"/><rect x="194.2" y="142" width="4.75" height="4.75" fill="#f2f1b8"/><rect x="198.8" y="142" width="4.75" height="4.75" fill="#f1f1b9"/><rect x="203.4" y="142" width="4.75" height="4.75" fill="#edd59a"/><rect x="208" y="142" width="4.75" height="4.75" fill="#f8ecb3"/><rect x="212.6" y="142" width="4.75" height="4.75" fill="#f6e9af"/><rect x="217.2" y="142" width="4.75" height="4.75" fill="#eaf0bb"/><rect x="221.8" y="142" width="4.75" height="4.75" fill="#f2dfa6"/><rect x="226.4" y="142" width="4.75" height="4.75" fill="#f7eab0"/><rect x="231" y="142" width="4.75" height="4.75" fill="#f9efb5"/><rect x="235.6" y="142" width="4.75" height="4.75" fill="#f9efb5"/><rect x="240.2" y="142" width="4.75" height="4.75" fill="#e3eebc"/><rect x="244.8" y="142" width="4.75" height="4.75" fill="#f8eeb4"/><rect x="249.4" y="142" width="4.75" height="4.75" fill="#e4eebc"/><rect x="254" y="142" width="4.75" height="4.75" fill="#f3e1a8"/><rect x="24" y="146.6" width="4.75" height="4.75" fill="#d7aa6b"/><rect x="28.6" y="146.6" width="4.75" height="4.75" fill="#f3e0a7"/><rect x="33.2" y="146.6" width="4.75" height="4.75" fill="#ecd397"/><rect x="37.8" y="146.6" width="4.75" height="4.75" fill="#edd498"/><rect x="42.4" y="146.6" width="4.75" height="4.75" fill="#eacd91"/><rect x="47" y="146.6" width="4.75" height="4.75" fill="#edd498"/><rect x="51.6" y="146.6" width="4.75" height="4.75" fill="#dcb574"/><rect x="56.2" y="146.6" width="4.75" height="4.75" fill="#f1dca2"/><rect x="60.8" y="146.6" width="4.75" height="4.75" fill="#e3c183"/><rect x="65.4" y="146.6" width="4.75" height="4.75" fill="#f1dca3"/><rect x="70" y="146.6" width="4.75" height="4.75" fill="#eacd90"/><rect x="74.6" y="146.6" width="4.75" height="4.75" fill="#d5a769"/><rect x="79.2" y="146.6" width="4.75" height="4.75" fill="#dcb372"/><rect x="83.8" y="146.6" width="4.75" height="4.75" fill="#f1dda3"/><rect x="88.4" y="146.6" width="4.75" height="4.75" fill="#e2bf80"/><rect x="93" y="146.6" width="4.75" height="4.75" fill="#dcb473"/><rect x="97.6" y="146.6" width="4.75" height="4.75" fill="#e1bc7d"/><rect x="102.2" y="146.6" width="4.75" height="4.75" fill="#d8ad6d"/><rect x="106.8" y="146.6" width="4.75" height="4.75" fill="#d5a669"/><rect x="111.4" y="146.6" width="4.75" height="4.75" fill="#dab171"/><rect x="116" y="146.6" width="4.75" height="4.75" fill="#dfb979"/><rect x="120.6" y="146.6" width="4.75" height="4.75" fill="#efd89d"/><rect x="125.2" y="146.6" width="4.75" height="4.75" fill="#e4c183"/><rect x="129.8" y="146.6" width="4.75" height="4.75" fill="#f4e4ab"/><rect x="134.4" y="146.6" width="4.75" height="4.75" fill="#f5e6ad"/><rect x="139" y="146.6" width="4.75" height="4.75" fill="#f6e8ae"/><rect x="143.6" y="146.6" width="4.75" height="4.75" fill="#f4e3aa"/><rect x="148.2" y="146.6" width="4.75" height="4.75" fill="#f0da9f"/><rect x="152.8" y="146.6" width="4.75" height="4.75" fill="#f3e1a8"/><rect x="157.4" y="146.6" width="4.75" height="4.75" fill="#f4e3aa"/><rect x="162" y="146.6" width="4.75" height="4.75" fill="#f3e2a9"/><rect x="166.6" y="146.6" width="4.75" height="4.75" fill="#f8eeb4"/><rect x="171.2" y="146.6" width="4.75" height="4.75" fill="#f6eab0"/><rect x="175.8" y="146.6" width="4.75" height="4.75" fill="#d4e9be"/><rect x="180.4" y="146.6" width="4.75" height="4.75" fill="#eff1ba"/><rect x="185" y="146.6" width="4.75" height="4.75" fill="#f8eeb4"/><rect x="189.6" y="146.6" width="4.75" height="4.75" fill="#f0da9f"/><rect x="194.2" y="146.6" width="4.75" height="4.75" fill="#f6f0b7"/><rect x="198.8" y="146.6" width="4.75" height="4.75" fill="#f8eeb4"/><rect x="203.4" y="146.6" width="4.75" height="4.75" fill="#f5e6ad"/><rect x="208" y="146.6" width="4.75" height="4.75" fill="#f5e5ac"/><rect x="212.6" y="146.6" width="4.75" height="4.75" fill="#edd498"/><rect x="217.2" y="146.6" width="4.75" height="4.75" fill="#eef1ba"/><rect x="221.8" y="146.6" width="4.75" height="4.75" fill="#f7f0b7"/><rect x="226.4" y="146.6" width="4.75" height="4.75" fill="#c2e3bc"/><rect x="231" y="146.6" width="4.75" height="4.75" fill="#f6f0b7"/><rect x="235.6" y="146.6" width="4.75" height="4.75" fill="#f8f0b6"/><rect x="240.2" y="146.6" width="4.75" height="4.75" fill="#d7ebbe"/><rect x="244.8" y="146.6" width="4.75" height="4.75" fill="#f4f0b8"/><rect x="249.4" y="146.6" width="4.75" height="4.75" fill="#f3f1b8"/><rect x="254" y="146.6" width="4.75" height="4.75" fill="#f8efb5"/><rect x="24" y="151.2" width="4.75" height="4.75" fill="#e3c081"/><rect x="28.6" y="151.2" width="4.75" height="4.75" fill="#f4e4ab"/><rect x="33.2" y="151.2" width="4.75" height="4.75" fill="#f1dda3"/><rect x="37.8" y="151.2" width="4.75" height="4.75" fill="#f5e7ad"/><rect x="42.4" y="151.2" width="4.75" height="4.75" fill="#e5c586"/><rect x="47" y="151.2" width="4.75" height="4.75" fill="#e9cc8f"/><rect x="51.6" y="151.2" width="4.75" height="4.75" fill="#e0bb7b"/><rect x="56.2" y="151.2" width="4.75" height="4.75" fill="#f1dca2"/><rect x="60.8" y="151.2" width="4.75" height="4.75" fill="#dbb171"/><rect x="65.4" y="151.2" width="4.75" height="4.75" fill="#eed59a"/><rect x="70" y="151.2" width="4.75" height="4.75" fill="#f2dea5"/><rect x="74.6" y="151.2" width="4.75" height="4.75" fill="#f4e3aa"/><rect x="79.2" y="151.2" width="4.75" height="4.75" fill="#dfba7a"/><rect x="83.8" y="151.2" width="4.75" height="4.75" fill="#f1dda4"/><rect x="88.4" y="151.2" width="4.75" height="4.75" fill="#dfb979"/><rect x="93" y="151.2" width="4.75" height="4.75" fill="#ddb675"/><rect x="97.6" y="151.2" width="4.75" height="4.75" fill="#d7aa6b"/><rect x="102.2" y="151.2" width="4.75" height="4.75" fill="#edd398"/><rect x="106.8" y="151.2" width="4.75" height="4.75" fill="#edd499"/><rect x="111.4" y="151.2" width="4.75" height="4.75" fill="#d5a86a"/><rect x="116" y="151.2" width="4.75" height="4.75" fill="#d7aa6b"/><rect x="120.6" y="151.2" width="4.75" height="4.75" fill="#ddb776"/><rect x="125.2" y="151.2" width="4.75" height="4.75" fill="#f6e9b0"/><rect x="129.8" y="151.2" width="4.75" height="4.75" fill="#eed79c"/><rect x="134.4" y="151.2" width="4.75" height="4.75" fill="#e3c182"/><rect x="139" y="151.2" width="4.75" height="4.75" fill="#dbb372"/><rect x="143.6" y="151.2" width="4.75" height="4.75" fill="#efd89d"/><rect x="148.2" y="151.2" width="4.75" height="4.75" fill="#eef1ba"/><rect x="152.8" y="151.2" width="4.75" height="4.75" fill="#d3e9be"/><rect x="157.4" y="151.2" width="4.75" height="4.75" fill="#f6f0b7"/><rect x="162" y="151.2" width="4.75" height="4.75" fill="#f8f0b7"/><rect x="166.6" y="151.2" width="4.75" height="4.75" fill="#f4f0b8"/><rect x="171.2" y="151.2" width="4.75" height="4.75" fill="#f1dea4"/><rect x="175.8" y="151.2" width="4.75" height="4.75" fill="#e9f0bb"/><rect x="180.4" y="151.2" width="4.75" height="4.75" fill="#f5e5ac"/><rect x="185" y="151.2" width="4.75" height="4.75" fill="#e1eebc"/><rect x="189.6" y="151.2" width="4.75" height="4.75" fill="#f1dda4"/><rect x="194.2" y="151.2" width="4.75" height="4.75" fill="#f4e4ab"/><rect x="198.8" y="151.2" width="4.75" height="4.75" fill="#f2f1b9"/><rect x="203.4" y="151.2" width="4.75" height="4.75" fill="#f7eab0"/><rect x="208" y="151.2" width="4.75" height="4.75" fill="#e9f0bb"/><rect x="212.6" y="151.2" width="4.75" height="4.75" fill="#f6f0b7"/><rect x="217.2" y="151.2" width="4.75" height="4.75" fill="#f5e5ac"/><rect x="221.8" y="151.2" width="4.75" height="4.75" fill="#edf1ba"/><rect x="226.4" y="151.2" width="4.75" height="4.75" fill="#e7efbb"/><rect x="231" y="151.2" width="4.75" height="4.75" fill="#f0da9f"/><rect x="235.6" y="151.2" width="4.75" height="4.75" fill="#d0e8bd"/><rect x="240.2" y="151.2" width="4.75" height="4.75" fill="#eff1ba"/><rect x="244.8" y="151.2" width="4.75" height="4.75" fill="#e9f0bb"/><rect x="249.4" y="151.2" width="4.75" height="4.75" fill="#f0dba1"/><rect x="254" y="151.2" width="4.75" height="4.75" fill="#f7eab1"/><rect x="24" y="155.8" width="4.75" height="4.75" fill="#e5c586"/><rect x="28.6" y="155.8" width="4.75" height="4.75" fill="#f2dea4"/><rect x="33.2" y="155.8" width="4.75" height="4.75" fill="#dab070"/><rect x="37.8" y="155.8" width="4.75" height="4.75" fill="#e0bb7b"/><rect x="42.4" y="155.8" width="4.75" height="4.75" fill="#d5a668"/><rect x="47" y="155.8" width="4.75" height="4.75" fill="#e6c789"/><rect x="51.6" y="155.8" width="4.75" height="4.75" fill="#ecd195"/><rect x="56.2" y="155.8" width="4.75" height="4.75" fill="#d8ac6d"/><rect x="60.8" y="155.8" width="4.75" height="4.75" fill="#e3c081"/><rect x="65.4" y="155.8" width="4.75" height="4.75" fill="#edd499"/><rect x="70" y="155.8" width="4.75" height="4.75" fill="#f5e5ac"/><rect x="74.6" y="155.8" width="4.75" height="4.75" fill="#eed79c"/><rect x="79.2" y="155.8" width="4.75" height="4.75" fill="#e6c587"/><rect x="83.8" y="155.8" width="4.75" height="4.75" fill="#ddb575"/><rect x="88.4" y="155.8" width="4.75" height="4.75" fill="#dfba7a"/><rect x="93" y="155.8" width="4.75" height="4.75" fill="#e2bf80"/><rect x="97.6" y="155.8" width="4.75" height="4.75" fill="#eace91"/><rect x="102.2" y="155.8" width="4.75" height="4.75" fill="#e7c789"/><rect x="106.8" y="155.8" width="4.75" height="4.75" fill="#f0dba1"/><rect x="111.4" y="155.8" width="4.75" height="4.75" fill="#e0bb7c"/><rect x="116" y="155.8" width="4.75" height="4.75" fill="#d5a769"/><rect x="120.6" y="155.8" width="4.75" height="4.75" fill="#efd99f"/><rect x="125.2" y="155.8" width="4.75" height="4.75" fill="#ecd297"/><rect x="129.8" y="155.8" width="4.75" height="4.75" fill="#e7c88a"/><rect x="134.4" y="155.8" width="4.75" height="4.75" fill="#e3c182"/><rect x="139" y="155.8" width="4.75" height="4.75" fill="#dfb978"/><rect x="143.6" y="155.8" width="4.75" height="4.75" fill="#f3e2a9"/><rect x="148.2" y="155.8" width="4.75" height="4.75" fill="#d3e9be"/><rect x="152.8" y="155.8" width="4.75" height="4.75" fill="#f1f1b9"/><rect x="157.4" y="155.8" width="4.75" height="4.75" fill="#f3f1b8"/><rect x="162" y="155.8" width="4.75" height="4.75" fill="#cfe7bd"/><rect x="166.6" y="155.8" width="4.75" height="4.75" fill="#d1e8bd"/><rect x="171.2" y="155.8" width="4.75" height="4.75" fill="#e0edbd"/><rect x="175.8" y="155.8" width="4.75" height="4.75" fill="#f0f1b9"/><rect x="180.4" y="155.8" width="4.75" height="4.75" fill="#dbecbe"/><rect x="185" y="155.8" width="4.75" height="4.75" fill="#f6e9af"/><rect x="189.6" y="155.8" width="4.75" height="4.75" fill="#e4eebc"/><rect x="194.2" y="155.8" width="4.75" height="4.75" fill="#f5e7ae"/><rect x="198.8" y="155.8" width="4.75" height="4.75" fill="#ebf0bb"/><rect x="203.4" y="155.8" width="4.75" height="4.75" fill="#f3f1b8"/><rect x="208" y="155.8" width="4.75" height="4.75" fill="#f2f1b8"/><rect x="212.6" y="155.8" width="4.75" height="4.75" fill="#e4eebc"/><rect x="217.2" y="155.8" width="4.75" height="4.75" fill="#f6f0b7"/><rect x="221.8" y="155.8" width="4.75" height="4.75" fill="#e0edbd"/><rect x="226.4" y="155.8" width="4.75" height="4.75" fill="#e6efbb"/><rect x="231" y="155.8" width="4.75" height="4.75" fill="#f4f0b8"/><rect x="235.6" y="155.8" width="4.75" height="4.75" fill="#f7ecb2"/><rect x="240.2" y="155.8" width="4.75" height="4.75" fill="#f7eab0"/><rect x="244.8" y="155.8" width="4.75" height="4.75" fill="#f8edb3"/><rect x="249.4" y="155.8" width="4.75" height="4.75" fill="#f8f0b6"/><rect x="254" y="155.8" width="4.75" height="4.75" fill="#f6f0b7"/><rect x="24" y="160.4" width="4.75" height="4.75" fill="#f3f1b8"/><rect x="28.6" y="160.4" width="4.75" height="4.75" fill="#eed69b"/><rect x="33.2" y="160.4" width="4.75" height="4.75" fill="#efd99e"/><rect x="37.8" y="160.4" width="4.75" height="4.75" fill="#e0bb7b"/><rect x="42.4" y="160.4" width="4.75" height="4.75" fill="#e2be7f"/><rect x="47" y="160.4" width="4.75" height="4.75" fill="#e6c587"/><rect x="51.6" y="160.4" width="4.75" height="4.75" fill="#ebce92"/><rect x="56.2" y="160.4" width="4.75" height="4.75" fill="#deb878"/><rect x="60.8" y="160.4" width="4.75" height="4.75" fill="#f5e5ac"/><rect x="65.4" y="160.4" width="4.75" height="4.75" fill="#e3c182"/><rect x="70" y="160.4" width="4.75" height="4.75" fill="#f2dea4"/><rect x="74.6" y="160.4" width="4.75" height="4.75" fill="#d2a164"/><rect x="79.2" y="160.4" width="4.75" height="4.75" fill="#e9cb8e"/><rect x="83.8" y="160.4" width="4.75" height="4.75" fill="#ebd094"/><rect x="88.4" y="160.4" width="4.75" height="4.75" fill="#ebce92"/><rect x="93" y="160.4" width="4.75" height="4.75" fill="#eed69b"/><rect x="97.6" y="160.4" width="4.75" height="4.75" fill="#ebd094"/><rect x="102.2" y="160.4" width="4.75" height="4.75" fill="#eacc90"/><rect x="106.8" y="160.4" width="4.75" height="4.75" fill="#d2a265"/><rect x="111.4" y="160.4" width="4.75" height="4.75" fill="#dcb473"/><rect x="116" y="160.4" width="4.75" height="4.75" fill="#cd9a5f"/><rect x="120.6" y="160.4" width="4.75" height="4.75" fill="#ebd094"/><rect x="125.2" y="160.4" width="4.75" height="4.75" fill="#e9cc8f"/><rect x="129.8" y="160.4" width="4.75" height="4.75" fill="#e7c789"/><rect x="134.4" y="160.4" width="4.75" height="4.75" fill="#e6c587"/><rect x="139" y="160.4" width="4.75" height="4.75" fill="#efd79d"/><rect x="143.6" y="160.4" width="4.75" height="4.75" fill="#d0e8bd"/><rect x="148.2" y="160.4" width="4.75" height="4.75" fill="#bde1bc"/><rect x="152.8" y="160.4" width="4.75" height="4.75" fill="#d6eabe"/><rect x="157.4" y="160.4" width="4.75" height="4.75" fill="#b9dfbb"/><rect x="162" y="160.4" width="4.75" height="4.75" fill="#f0f1b9"/><rect x="166.6" y="160.4" width="4.75" height="4.75" fill="#f8f0b6"/><rect x="171.2" y="160.4" width="4.75" height="4.75" fill="#f4f0b8"/><rect x="175.8" y="160.4" width="4.75" height="4.75" fill="#f5e6ad"/><rect x="180.4" y="160.4" width="4.75" height="4.75" fill="#f7ebb2"/><rect x="185" y="160.4" width="4.75" height="4.75" fill="#f3f1b8"/><rect x="189.6" y="160.4" width="4.75" height="4.75" fill="#bbe0bc"/><rect x="194.2" y="160.4" width="4.75" height="4.75" fill="#f7ebb1"/><rect x="198.8" y="160.4" width="4.75" height="4.75" fill="#f5f0b7"/><rect x="203.4" y="160.4" width="4.75" height="4.75" fill="#f2f1b9"/><rect x="208" y="160.4" width="4.75" height="4.75" fill="#f6f0b7"/><rect x="212.6" y="160.4" width="4.75" height="4.75" fill="#e5eebc"/><rect x="217.2" y="160.4" width="4.75" height="4.75" fill="#d1e8bd"/><rect x="221.8" y="160.4" width="4.75" height="4.75" fill="#f4e4ab"/><rect x="226.4" y="160.4" width="4.75" height="4.75" fill="#f4f0b8"/><rect x="231" y="160.4" width="4.75" height="4.75" fill="#f9f0b6"/><rect x="235.6" y="160.4" width="4.75" height="4.75" fill="#f1f1b9"/><rect x="240.2" y="160.4" width="4.75" height="4.75" fill="#f3e0a7"/><rect x="244.8" y="160.4" width="4.75" height="4.75" fill="#f1dca3"/><rect x="249.4" y="160.4" width="4.75" height="4.75" fill="#ecd397"/><rect x="254" y="160.4" width="4.75" height="4.75" fill="#eff1ba"/><rect x="24" y="165" width="4.75" height="4.75" fill="#ebce92"/><rect x="28.6" y="165" width="4.75" height="4.75" fill="#eacc90"/><rect x="33.2" y="165" width="4.75" height="4.75" fill="#d1a064"/><rect x="37.8" y="165" width="4.75" height="4.75" fill="#e5c486"/><rect x="42.4" y="165" width="4.75" height="4.75" fill="#e1bd7e"/><rect x="47" y="165" width="4.75" height="4.75" fill="#dab171"/><rect x="51.6" y="165" width="4.75" height="4.75" fill="#dfba7a"/><rect x="56.2" y="165" width="4.75" height="4.75" fill="#efd79d"/><rect x="60.8" y="165" width="4.75" height="4.75" fill="#edd599"/><rect x="65.4" y="165" width="4.75" height="4.75" fill="#e9cb8e"/><rect x="70" y="165" width="4.75" height="4.75" fill="#edd499"/><rect x="74.6" y="165" width="4.75" height="4.75" fill="#e3c081"/><rect x="79.2" y="165" width="4.75" height="4.75" fill="#eacc8f"/><rect x="83.8" y="165" width="4.75" height="4.75" fill="#e9cc8f"/><rect x="88.4" y="165" width="4.75" height="4.75" fill="#edd59a"/><rect x="93" y="165" width="4.75" height="4.75" fill="#e8ca8c"/><rect x="97.6" y="165" width="4.75" height="4.75" fill="#e8c88b"/><rect x="102.2" y="165" width="4.75" height="4.75" fill="#e8c98b"/><rect x="106.8" y="165" width="4.75" height="4.75" fill="#e2bf80"/><rect x="111.4" y="165" width="4.75" height="4.75" fill="#f8edb3"/><rect x="116" y="165" width="4.75" height="4.75" fill="#edd499"/><rect x="120.6" y="165" width="4.75" height="4.75" fill="#ecd397"/><rect x="125.2" y="165" width="4.75" height="4.75" fill="#f8edb4"/><rect x="129.8" y="165" width="4.75" height="4.75" fill="#f5e5ac"/><rect x="134.4" y="165" width="4.75" height="4.75" fill="#e1be7e"/><rect x="139" y="165" width="4.75" height="4.75" fill="#f8efb5"/><rect x="143.6" y="165" width="4.75" height="4.75" fill="#deedbd"/><rect x="148.2" y="165" width="4.75" height="4.75" fill="#b7debb"/><rect x="152.8" y="165" width="4.75" height="4.75" fill="#b9dfbb"/><rect x="157.4" y="165" width="4.75" height="4.75" fill="#bde0bc"/><rect x="162" y="165" width="4.75" height="4.75" fill="#e3eebc"/><rect x="166.6" y="165" width="4.75" height="4.75" fill="#e4eebc"/><rect x="171.2" y="165" width="4.75" height="4.75" fill="#e6efbb"/><rect x="175.8" y="165" width="4.75" height="4.75" fill="#f2f1b9"/><rect x="180.4" y="165" width="4.75" height="4.75" fill="#f5e6ac"/><rect x="185" y="165" width="4.75" height="4.75" fill="#f8eeb4"/><rect x="189.6" y="165" width="4.75" height="4.75" fill="#f8eeb4"/><rect x="194.2" y="165" width="4.75" height="4.75" fill="#f5f0b7"/><rect x="198.8" y="165" width="4.75" height="4.75" fill="#f1f1b9"/><rect x="203.4" y="165" width="4.75" height="4.75" fill="#f9f0b6"/><rect x="208" y="165" width="4.75" height="4.75" fill="#f4e4ab"/><rect x="212.6" y="165" width="4.75" height="4.75" fill="#ddecbd"/><rect x="217.2" y="165" width="4.75" height="4.75" fill="#d5eabe"/><rect x="221.8" y="165" width="4.75" height="4.75" fill="#f7f0b7"/><rect x="226.4" y="165" width="4.75" height="4.75" fill="#e2eebc"/><rect x="231" y="165" width="4.75" height="4.75" fill="#f0f1b9"/><rect x="235.6" y="165" width="4.75" height="4.75" fill="#ecf0ba"/><rect x="240.2" y="165" width="4.75" height="4.75" fill="#eff1ba"/><rect x="244.8" y="165" width="4.75" height="4.75" fill="#f7eab0"/><rect x="249.4" y="165" width="4.75" height="4.75" fill="#eef1ba"/><rect x="254" y="165" width="4.75" height="4.75" fill="#e3eebc"/><rect x="24" y="169.6" width="4.75" height="4.75" fill="#e0bb7b"/><rect x="28.6" y="169.6" width="4.75" height="4.75" fill="#f6eab0"/><rect x="33.2" y="169.6" width="4.75" height="4.75" fill="#f7ebb1"/><rect x="37.8" y="169.6" width="4.75" height="4.75" fill="#f6e8ae"/><rect x="42.4" y="169.6" width="4.75" height="4.75" fill="#f7eab0"/><rect x="47" y="169.6" width="4.75" height="4.75" fill="#efd89d"/><rect x="51.6" y="169.6" width="4.75" height="4.75" fill="#e5c587"/><rect x="56.2" y="169.6" width="4.75" height="4.75" fill="#e3c081"/><rect x="60.8" y="169.6" width="4.75" height="4.75" fill="#e1bc7c"/><rect x="65.4" y="169.6" width="4.75" height="4.75" fill="#eacd90"/><rect x="70" y="169.6" width="4.75" height="4.75" fill="#e9ca8d"/><rect x="74.6" y="169.6" width="4.75" height="4.75" fill="#eed79c"/><rect x="79.2" y="169.6" width="4.75" height="4.75" fill="#d5a669"/><rect x="83.8" y="169.6" width="4.75" height="4.75" fill="#f8eeb4"/><rect x="88.4" y="169.6" width="4.75" height="4.75" fill="#f8edb3"/><rect x="93" y="169.6" width="4.75" height="4.75" fill="#e9ca8d"/><rect x="97.6" y="169.6" width="4.75" height="4.75" fill="#eed79c"/><rect x="102.2" y="169.6" width="4.75" height="4.75" fill="#edd398"/><rect x="106.8" y="169.6" width="4.75" height="4.75" fill="#ebd094"/><rect x="111.4" y="169.6" width="4.75" height="4.75" fill="#e7c789"/><rect x="116" y="169.6" width="4.75" height="4.75" fill="#e8c98b"/><rect x="120.6" y="169.6" width="4.75" height="4.75" fill="#e0bc7c"/><rect x="125.2" y="169.6" width="4.75" height="4.75" fill="#eace92"/><rect x="129.8" y="169.6" width="4.75" height="4.75" fill="#ebcf93"/><rect x="134.4" y="169.6" width="4.75" height="4.75" fill="#f4e3aa"/><rect x="139" y="169.6" width="4.75" height="4.75" fill="#f2dea4"/><rect x="143.6" y="169.6" width="4.75" height="4.75" fill="#f6f0b7"/><rect x="148.2" y="169.6" width="4.75" height="4.75" fill="#ecf1ba"/><rect x="152.8" y="169.6" width="4.75" height="4.75" fill="#d6eabe"/><rect x="157.4" y="169.6" width="4.75" height="4.75" fill="#f5f0b8"/><rect x="162" y="169.6" width="4.75" height="4.75" fill="#d3e9be"/><rect x="166.6" y="169.6" width="4.75" height="4.75" fill="#cbe6bd"/><rect x="171.2" y="169.6" width="4.75" height="4.75" fill="#e5efbc"/><rect x="175.8" y="169.6" width="4.75" height="4.75" fill="#f7ecb2"/><rect x="180.4" y="169.6" width="4.75" height="4.75" fill="#f7ecb2"/><rect x="185" y="169.6" width="4.75" height="4.75" fill="#f9f0b6"/><rect x="189.6" y="169.6" width="4.75" height="4.75" fill="#eaf0bb"/><rect x="194.2" y="169.6" width="4.75" height="4.75" fill="#d5eabe"/><rect x="198.8" y="169.6" width="4.75" height="4.75" fill="#f8f0b6"/><rect x="203.4" y="169.6" width="4.75" height="4.75" fill="#f7ebb2"/><rect x="208" y="169.6" width="4.75" height="4.75" fill="#f1f1b9"/><rect x="212.6" y="169.6" width="4.75" height="4.75" fill="#f3f1b8"/><rect x="217.2" y="169.6" width="4.75" height="4.75" fill="#f6e8af"/><rect x="221.8" y="169.6" width="4.75" height="4.75" fill="#f7eab1"/><rect x="226.4" y="169.6" width="4.75" height="4.75" fill="#f7f0b7"/><rect x="231" y="169.6" width="4.75" height="4.75" fill="#ecf0ba"/><rect x="235.6" y="169.6" width="4.75" height="4.75" fill="#f4e5ab"/><rect x="240.2" y="169.6" width="4.75" height="4.75" fill="#f5e7ad"/><rect x="244.8" y="169.6" width="4.75" height="4.75" fill="#eff1ba"/><rect x="249.4" y="169.6" width="4.75" height="4.75" fill="#f4e4ab"/><rect x="254" y="169.6" width="4.75" height="4.75" fill="#f4f0b8"/><rect x="24" y="174.2" width="4.75" height="4.75" fill="#ecd195"/><rect x="28.6" y="174.2" width="4.75" height="4.75" fill="#e8c98c"/><rect x="33.2" y="174.2" width="4.75" height="4.75" fill="#deb878"/><rect x="37.8" y="174.2" width="4.75" height="4.75" fill="#e8ca8d"/><rect x="42.4" y="174.2" width="4.75" height="4.75" fill="#e6c587"/><rect x="47" y="174.2" width="4.75" height="4.75" fill="#ecd195"/><rect x="51.6" y="174.2" width="4.75" height="4.75" fill="#e0bc7c"/><rect x="56.2" y="174.2" width="4.75" height="4.75" fill="#f2dea5"/><rect x="60.8" y="174.2" width="4.75" height="4.75" fill="#d8ad6d"/><rect x="65.4" y="174.2" width="4.75" height="4.75" fill="#e7c88a"/><rect x="70" y="174.2" width="4.75" height="4.75" fill="#e9cb8e"/><rect x="74.6" y="174.2" width="4.75" height="4.75" fill="#f1dca2"/><rect x="79.2" y="174.2" width="4.75" height="4.75" fill="#e3c081"/><rect x="83.8" y="174.2" width="4.75" height="4.75" fill="#edd599"/><rect x="88.4" y="174.2" width="4.75" height="4.75" fill="#e3c182"/><rect x="93" y="174.2" width="4.75" height="4.75" fill="#efd89d"/><rect x="97.6" y="174.2" width="4.75" height="4.75" fill="#f5e7ad"/><rect x="102.2" y="174.2" width="4.75" height="4.75" fill="#e5c485"/><rect x="106.8" y="174.2" width="4.75" height="4.75" fill="#edd397"/><rect x="111.4" y="174.2" width="4.75" height="4.75" fill="#dfba7a"/><rect x="116" y="174.2" width="4.75" height="4.75" fill="#f1dca2"/><rect x="120.6" y="174.2" width="4.75" height="4.75" fill="#f3e0a7"/><rect x="125.2" y="174.2" width="4.75" height="4.75" fill="#e9cc8f"/><rect x="129.8" y="174.2" width="4.75" height="4.75" fill="#e0bc7c"/><rect x="134.4" y="174.2" width="4.75" height="4.75" fill="#f5e7ae"/><rect x="139" y="174.2" width="4.75" height="4.75" fill="#eef1ba"/><rect x="143.6" y="174.2" width="4.75" height="4.75" fill="#ebf0bb"/><rect x="148.2" y="174.2" width="4.75" height="4.75" fill="#edf1ba"/><rect x="152.8" y="174.2" width="4.75" height="4.75" fill="#f0dba1"/><rect x="157.4" y="174.2" width="4.75" height="4.75" fill="#f8edb3"/><rect x="162" y="174.2" width="4.75" height="4.75" fill="#d0e8bd"/><rect x="166.6" y="174.2" width="4.75" height="4.75" fill="#f6eab0"/><rect x="171.2" y="174.2" width="4.75" height="4.75" fill="#dfedbd"/><rect x="175.8" y="174.2" width="4.75" height="4.75" fill="#d3e9be"/><rect x="180.4" y="174.2" width="4.75" height="4.75" fill="#ecf0ba"/><rect x="185" y="174.2" width="4.75" height="4.75" fill="#e0edbd"/><rect x="189.6" y="174.2" width="4.75" height="4.75" fill="#f9efb5"/><rect x="194.2" y="174.2" width="4.75" height="4.75" fill="#f4e4ab"/><rect x="198.8" y="174.2" width="4.75" height="4.75" fill="#f7f0b7"/><rect x="203.4" y="174.2" width="4.75" height="4.75" fill="#f8f0b6"/><rect x="208" y="174.2" width="4.75" height="4.75" fill="#f6f0b7"/><rect x="212.6" y="174.2" width="4.75" height="4.75" fill="#ebf0bb"/><rect x="217.2" y="174.2" width="4.75" height="4.75" fill="#f8f0b7"/><rect x="221.8" y="174.2" width="4.75" height="4.75" fill="#f3f1b8"/><rect x="226.4" y="174.2" width="4.75" height="4.75" fill="#f0f1b9"/><rect x="231" y="174.2" width="4.75" height="4.75" fill="#f6f0b7"/><rect x="235.6" y="174.2" width="4.75" height="4.75" fill="#d0e8bd"/><rect x="240.2" y="174.2" width="4.75" height="4.75" fill="#f0f1b9"/><rect x="244.8" y="174.2" width="4.75" height="4.75" fill="#f5f0b8"/><rect x="249.4" y="174.2" width="4.75" height="4.75" fill="#f8f0b6"/><rect x="254" y="174.2" width="4.75" height="4.75" fill="#f7ebb2"/><rect x="24" y="178.8" width="4.75" height="4.75" fill="#f3e2a9"/><rect x="28.6" y="178.8" width="4.75" height="4.75" fill="#eace91"/><rect x="33.2" y="178.8" width="4.75" height="4.75" fill="#deb777"/><rect x="37.8" y="178.8" width="4.75" height="4.75" fill="#e3c182"/><rect x="42.4" y="178.8" width="4.75" height="4.75" fill="#e8c88b"/><rect x="47" y="178.8" width="4.75" height="4.75" fill="#e4c384"/><rect x="51.6" y="178.8" width="4.75" height="4.75" fill="#f2dea5"/><rect x="56.2" y="178.8" width="4.75" height="4.75" fill="#ddb675"/><rect x="60.8" y="178.8" width="4.75" height="4.75" fill="#edd498"/><rect x="65.4" y="178.8" width="4.75" height="4.75" fill="#eace91"/><rect x="70" y="178.8" width="4.75" height="4.75" fill="#ddb575"/><rect x="74.6" y="178.8" width="4.75" height="4.75" fill="#e9cc8f"/><rect x="79.2" y="178.8" width="4.75" height="4.75" fill="#e8c98c"/><rect x="83.8" y="178.8" width="4.75" height="4.75" fill="#edd498"/><rect x="88.4" y="178.8" width="4.75" height="4.75" fill="#e4c384"/><rect x="93" y="178.8" width="4.75" height="4.75" fill="#ebd094"/><rect x="97.6" y="178.8" width="4.75" height="4.75" fill="#d8ad6d"/><rect x="102.2" y="178.8" width="4.75" height="4.75" fill="#deb777"/><rect x="106.8" y="178.8" width="4.75" height="4.75" fill="#efd99e"/><rect x="111.4" y="178.8" width="4.75" height="4.75" fill="#f1dda4"/><rect x="116" y="178.8" width="4.75" height="4.75" fill="#e9cb8e"/><rect x="120.6" y="178.8" width="4.75" height="4.75" fill="#e3c081"/><rect x="125.2" y="178.8" width="4.75" height="4.75" fill="#f2dea5"/><rect x="129.8" y="178.8" width="4.75" height="4.75" fill="#d7ab6c"/><rect x="134.4" y="178.8" width="4.75" height="4.75" fill="#eed79c"/><rect x="139" y="178.8" width="4.75" height="4.75" fill="#f2f1b8"/><rect x="143.6" y="178.8" width="4.75" height="4.75" fill="#f1f1b9"/><rect x="148.2" y="178.8" width="4.75" height="4.75" fill="#f4e4ab"/><rect x="152.8" y="178.8" width="4.75" height="4.75" fill="#efd89d"/><rect x="157.4" y="178.8" width="4.75" height="4.75" fill="#d8ebbe"/><rect x="162" y="178.8" width="4.75" height="4.75" fill="#f3f1b8"/><rect x="166.6" y="178.8" width="4.75" height="4.75" fill="#f6e9b0"/><rect x="171.2" y="178.8" width="4.75" height="4.75" fill="#f6f0b7"/><rect x="175.8" y="178.8" width="4.75" height="4.75" fill="#ecf0ba"/><rect x="180.4" y="178.8" width="4.75" height="4.75" fill="#e9cb8e"/><rect x="185" y="178.8" width="4.75" height="4.75" fill="#e3eebc"/><rect x="189.6" y="178.8" width="4.75" height="4.75" fill="#ebf0bb"/><rect x="194.2" y="178.8" width="4.75" height="4.75" fill="#eed79c"/><rect x="198.8" y="178.8" width="4.75" height="4.75" fill="#e9f0bb"/><rect x="203.4" y="178.8" width="4.75" height="4.75" fill="#f1dca2"/><rect x="208" y="178.8" width="4.75" height="4.75" fill="#dfedbd"/><rect x="212.6" y="178.8" width="4.75" height="4.75" fill="#f0f1b9"/><rect x="217.2" y="178.8" width="4.75" height="4.75" fill="#c8e5bd"/><rect x="221.8" y="178.8" width="4.75" height="4.75" fill="#f7ecb2"/><rect x="226.4" y="178.8" width="4.75" height="4.75" fill="#f6f0b7"/><rect x="231" y="178.8" width="4.75" height="4.75" fill="#e2eebc"/><rect x="235.6" y="178.8" width="4.75" height="4.75" fill="#f7ebb2"/><rect x="240.2" y="178.8" width="4.75" height="4.75" fill="#f7ebb1"/><rect x="244.8" y="178.8" width="4.75" height="4.75" fill="#f8efb5"/><rect x="249.4" y="178.8" width="4.75" height="4.75" fill="#f7f0b7"/><rect x="254" y="178.8" width="4.75" height="4.75" fill="#f5e6ad"/><rect x="24" y="183.4" width="4.75" height="4.75" fill="#edd498"/><rect x="28.6" y="183.4" width="4.75" height="4.75" fill="#edd599"/><rect x="33.2" y="183.4" width="4.75" height="4.75" fill="#eacc8f"/><rect x="37.8" y="183.4" width="4.75" height="4.75" fill="#f5e6ad"/><rect x="42.4" y="183.4" width="4.75" height="4.75" fill="#e6c587"/><rect x="47" y="183.4" width="4.75" height="4.75" fill="#f3e2a9"/><rect x="51.6" y="183.4" width="4.75" height="4.75" fill="#e3c182"/><rect x="56.2" y="183.4" width="4.75" height="4.75" fill="#efd89e"/><rect x="60.8" y="183.4" width="4.75" height="4.75" fill="#d5a86a"/><rect x="65.4" y="183.4" width="4.75" height="4.75" fill="#ebce92"/><rect x="70" y="183.4" width="4.75" height="4.75" fill="#e7c88a"/><rect x="74.6" y="183.4" width="4.75" height="4.75" fill="#e4c283"/><rect x="79.2" y="183.4" width="4.75" height="4.75" fill="#e3c081"/><rect x="83.8" y="183.4" width="4.75" height="4.75" fill="#e5c586"/><rect x="88.4" y="183.4" width="4.75" height="4.75" fill="#e2be7e"/><rect x="93" y="183.4" width="4.75" height="4.75" fill="#d3a366"/><rect x="97.6" y="183.4" width="4.75" height="4.75" fill="#e3c081"/><rect x="102.2" y="183.4" width="4.75" height="4.75" fill="#e3c182"/><rect x="106.8" y="183.4" width="4.75" height="4.75" fill="#e4c183"/><rect x="111.4" y="183.4" width="4.75" height="4.75" fill="#deb877"/><rect x="116" y="183.4" width="4.75" height="4.75" fill="#e8c98b"/><rect x="120.6" y="183.4" width="4.75" height="4.75" fill="#efd99e"/><rect x="125.2" y="183.4" width="4.75" height="4.75" fill="#e6c689"/><rect x="129.8" y="183.4" width="4.75" height="4.75" fill="#e8c88b"/><rect x="134.4" y="183.4" width="4.75" height="4.75" fill="#f3f1b8"/><rect x="139" y="183.4" width="4.75" height="4.75" fill="#eaf0bb"/><rect x="143.6" y="183.4" width="4.75" height="4.75" fill="#ecf0ba"/><rect x="148.2" y="183.4" width="4.75" height="4.75" fill="#e5efbc"/><rect x="152.8" y="183.4" width="4.75" height="4.75" fill="#f7ecb2"/><rect x="157.4" y="183.4" width="4.75" height="4.75" fill="#f8eeb5"/><rect x="162" y="183.4" width="4.75" height="4.75" fill="#e7efbb"/><rect x="166.6" y="183.4" width="4.75" height="4.75" fill="#f6e9b0"/><rect x="171.2" y="183.4" width="4.75" height="4.75" fill="#f8efb5"/><rect x="175.8" y="183.4" width="4.75" height="4.75" fill="#f4f0b8"/><rect x="180.4" y="183.4" width="4.75" height="4.75" fill="#f4f0b8"/><rect x="185" y="183.4" width="4.75" height="4.75" fill="#f8edb3"/><rect x="189.6" y="183.4" width="4.75" height="4.75" fill="#e6efbb"/><rect x="194.2" y="183.4" width="4.75" height="4.75" fill="#f8f0b6"/><rect x="198.8" y="183.4" width="4.75" height="4.75" fill="#eaf0bb"/><rect x="203.4" y="183.4" width="4.75" height="4.75" fill="#e1edbc"/><rect x="208" y="183.4" width="4.75" height="4.75" fill="#ecf0ba"/><rect x="212.6" y="183.4" width="4.75" height="4.75" fill="#eaf0bb"/><rect x="217.2" y="183.4" width="4.75" height="4.75" fill="#f5e5ac"/><rect x="221.8" y="183.4" width="4.75" height="4.75" fill="#f4e3aa"/><rect x="226.4" y="183.4" width="4.75" height="4.75" fill="#f7ecb2"/><rect x="231" y="183.4" width="4.75" height="4.75" fill="#eff1b9"/><rect x="235.6" y="183.4" width="4.75" height="4.75" fill="#d6eabe"/><rect x="240.2" y="183.4" width="4.75" height="4.75" fill="#f4e4ab"/><rect x="244.8" y="183.4" width="4.75" height="4.75" fill="#f2f1b9"/><rect x="249.4" y="183.4" width="4.75" height="4.75" fill="#f6e9af"/><rect x="254" y="183.4" width="4.75" height="4.75" fill="#f7eab1"/><rect x="24" y="188" width="4.75" height="4.75" fill="#e6c688"/><rect x="28.6" y="188" width="4.75" height="4.75" fill="#efd79c"/><rect x="33.2" y="188" width="4.75" height="4.75" fill="#ebcf92"/><rect x="37.8" y="188" width="4.75" height="4.75" fill="#f2e0a7"/><rect x="42.4" y="188" width="4.75" height="4.75" fill="#dfb979"/><rect x="47" y="188" width="4.75" height="4.75" fill="#f0dba0"/><rect x="51.6" y="188" width="4.75" height="4.75" fill="#f0dba1"/><rect x="56.2" y="188" width="4.75" height="4.75" fill="#eacc8f"/><rect x="60.8" y="188" width="4.75" height="4.75" fill="#edd398"/><rect x="65.4" y="188" width="4.75" height="4.75" fill="#e3c182"/><rect x="70" y="188" width="4.75" height="4.75" fill="#deb776"/><rect x="74.6" y="188" width="4.75" height="4.75" fill="#e5c485"/><rect x="79.2" y="188" width="4.75" height="4.75" fill="#e2bf80"/><rect x="83.8" y="188" width="4.75" height="4.75" fill="#f4f0b8"/><rect x="88.4" y="188" width="4.75" height="4.75" fill="#e4c284"/><rect x="93" y="188" width="4.75" height="4.75" fill="#f5e6ac"/><rect x="97.6" y="188" width="4.75" height="4.75" fill="#ebcf92"/><rect x="102.2" y="188" width="4.75" height="4.75" fill="#ebd094"/><rect x="106.8" y="188" width="4.75" height="4.75" fill="#efd89d"/><rect x="111.4" y="188" width="4.75" height="4.75" fill="#e1bd7d"/><rect x="116" y="188" width="4.75" height="4.75" fill="#f0dba1"/><rect x="120.6" y="188" width="4.75" height="4.75" fill="#ecd296"/><rect x="125.2" y="188" width="4.75" height="4.75" fill="#d9af6f"/><rect x="129.8" y="188" width="4.75" height="4.75" fill="#f1dca2"/><rect x="134.4" y="188" width="4.75" height="4.75" fill="#f7ecb2"/><rect x="139" y="188" width="4.75" height="4.75" fill="#f3f1b8"/><rect x="143.6" y="188" width="4.75" height="4.75" fill="#daecbe"/><rect x="148.2" y="188" width="4.75" height="4.75" fill="#f7ebb1"/><rect x="152.8" y="188" width="4.75" height="4.75" fill="#f2f1b8"/><rect x="157.4" y="188" width="4.75" height="4.75" fill="#eff1ba"/><rect x="162" y="188" width="4.75" height="4.75" fill="#f5e5ac"/><rect x="166.6" y="188" width="4.75" height="4.75" fill="#e4eebc"/><rect x="171.2" y="188" width="4.75" height="4.75" fill="#f1dda4"/><rect x="175.8" y="188" width="4.75" height="4.75" fill="#f3e0a7"/><rect x="180.4" y="188" width="4.75" height="4.75" fill="#f2f1b9"/><rect x="185" y="188" width="4.75" height="4.75" fill="#f4e3aa"/><rect x="189.6" y="188" width="4.75" height="4.75" fill="#f8f0b6"/><rect x="194.2" y="188" width="4.75" height="4.75" fill="#f2dea5"/><rect x="198.8" y="188" width="4.75" height="4.75" fill="#f5f0b8"/><rect x="203.4" y="188" width="4.75" height="4.75" fill="#f5e5ac"/><rect x="208" y="188" width="4.75" height="4.75" fill="#f1f1b9"/><rect x="212.6" y="188" width="4.75" height="4.75" fill="#f3e0a7"/><rect x="217.2" y="188" width="4.75" height="4.75" fill="#f0f1b9"/><rect x="221.8" y="188" width="4.75" height="4.75" fill="#f9f0b6"/><rect x="226.4" y="188" width="4.75" height="4.75" fill="#f5f0b8"/><rect x="231" y="188" width="4.75" height="4.75" fill="#f7f0b7"/><rect x="235.6" y="188" width="4.75" height="4.75" fill="#f4f0b8"/><rect x="240.2" y="188" width="4.75" height="4.75" fill="#f4e3aa"/><rect x="244.8" y="188" width="4.75" height="4.75" fill="#eace92"/><rect x="249.4" y="188" width="4.75" height="4.75" fill="#f5f0b7"/><rect x="254" y="188" width="4.75" height="4.75" fill="#f6e8ae"/><rect x="24" y="192.6" width="4.75" height="4.75" fill="#e4c384"/><rect x="28.6" y="192.6" width="4.75" height="4.75" fill="#ecd397"/><rect x="33.2" y="192.6" width="4.75" height="4.75" fill="#d5a769"/><rect x="37.8" y="192.6" width="4.75" height="4.75" fill="#e1bd7e"/><rect x="42.4" y="192.6" width="4.75" height="4.75" fill="#e3c081"/><rect x="47" y="192.6" width="4.75" height="4.75" fill="#deb877"/><rect x="51.6" y="192.6" width="4.75" height="4.75" fill="#ecd195"/><rect x="56.2" y="192.6" width="4.75" height="4.75" fill="#e8c88b"/><rect x="60.8" y="192.6" width="4.75" height="4.75" fill="#e0bc7c"/><rect x="65.4" y="192.6" width="4.75" height="4.75" fill="#dfb979"/><rect x="70" y="192.6" width="4.75" height="4.75" fill="#efd99f"/><rect x="74.6" y="192.6" width="4.75" height="4.75" fill="#e2bf80"/><rect x="79.2" y="192.6" width="4.75" height="4.75" fill="#eed59a"/><rect x="83.8" y="192.6" width="4.75" height="4.75" fill="#edd397"/><rect x="88.4" y="192.6" width="4.75" height="4.75" fill="#d6a96a"/><rect x="93" y="192.6" width="4.75" height="4.75" fill="#deb777"/><rect x="97.6" y="192.6" width="4.75" height="4.75" fill="#e9cb8e"/><rect x="102.2" y="192.6" width="4.75" height="4.75" fill="#ecd195"/><rect x="106.8" y="192.6" width="4.75" height="4.75" fill="#efd99e"/><rect x="111.4" y="192.6" width="4.75" height="4.75" fill="#efd99f"/><rect x="116" y="192.6" width="4.75" height="4.75" fill="#f1dda4"/><rect x="120.6" y="192.6" width="4.75" height="4.75" fill="#e5c486"/><rect x="125.2" y="192.6" width="4.75" height="4.75" fill="#e7c789"/><rect x="129.8" y="192.6" width="4.75" height="4.75" fill="#f2dfa5"/><rect x="134.4" y="192.6" width="4.75" height="4.75" fill="#f2e0a6"/><rect x="139" y="192.6" width="4.75" height="4.75" fill="#e8efbb"/><rect x="143.6" y="192.6" width="4.75" height="4.75" fill="#f0dba1"/><rect x="148.2" y="192.6" width="4.75" height="4.75" fill="#f0f1b9"/><rect x="152.8" y="192.6" width="4.75" height="4.75" fill="#f8eeb4"/><rect x="157.4" y="192.6" width="4.75" height="4.75" fill="#edd499"/><rect x="162" y="192.6" width="4.75" height="4.75" fill="#eaf0bb"/><rect x="166.6" y="192.6" width="4.75" height="4.75" fill="#f5f0b7"/><rect x="171.2" y="192.6" width="4.75" height="4.75" fill="#f9f0b6"/><rect x="175.8" y="192.6" width="4.75" height="4.75" fill="#f4e3aa"/><rect x="180.4" y="192.6" width="4.75" height="4.75" fill="#f7eab1"/><rect x="185" y="192.6" width="4.75" height="4.75" fill="#dbecbd"/><rect x="189.6" y="192.6" width="4.75" height="4.75" fill="#f6e8af"/><rect x="194.2" y="192.6" width="4.75" height="4.75" fill="#e1be7e"/><rect x="198.8" y="192.6" width="4.75" height="4.75" fill="#f6e9af"/><rect x="203.4" y="192.6" width="4.75" height="4.75" fill="#f4e5ab"/><rect x="208" y="192.6" width="4.75" height="4.75" fill="#f7f0b7"/><rect x="212.6" y="192.6" width="4.75" height="4.75" fill="#f8eeb4"/><rect x="217.2" y="192.6" width="4.75" height="4.75" fill="#f6e8af"/><rect x="221.8" y="192.6" width="4.75" height="4.75" fill="#f6e9af"/><rect x="226.4" y="192.6" width="4.75" height="4.75" fill="#e2eebc"/><rect x="231" y="192.6" width="4.75" height="4.75" fill="#f3e2a9"/><rect x="235.6" y="192.6" width="4.75" height="4.75" fill="#cee7bd"/><rect x="240.2" y="192.6" width="4.75" height="4.75" fill="#f8ecb3"/><rect x="244.8" y="192.6" width="4.75" height="4.75" fill="#f5e6ad"/><rect x="249.4" y="192.6" width="4.75" height="4.75" fill="#e9f0bb"/><rect x="254" y="192.6" width="4.75" height="4.75" fill="#eef1ba"/></g>
<path d="M27.2,30.8 L28.3,27.7 L28.3,23.6 L30.3,20.5 L33.4,18.4 L37.6,18.4 L42.7,17.4 L48.9,18.4 L55.1,18.4 L60.3,17.4 L62.4,15.3 L63.4,12.2 L64.4,9.1 L66.5,7.5 L69.6,8.1 L72.7,10.2 L74.8,13.6 L79.6,17.2 L83.2,20.8 L86.8,23.2 L91.6,25.6 L97.6,28 L101.2,30.4 L106,31.6 L109.6,35.2 L113.2,34 L116.8,35.2 L120.4,38.8 L124,43.6 L127.6,48.4 L131.2,53.2 L134.7,55.6 L137.4,51.6 L139.8,46.8 L141,42 L143.4,38.4 L147,39.6 L149.4,38.4 L151.8,36.7 L154.2,37.2 L156.6,39.6 L157.8,43.2 L159,45.6 L161.4,46.8 L165,48 L168.6,49.2 L173.4,50.4 L178.5,50 L181,55 L182.2,62.4 L181,67.4 L179.7,71.1 L182.2,73.6 L185.9,76.1 L188.4,79.8 L190.9,83.5 L192.2,87.2 L195.8,90.8 L199.4,89.6 L203,92 L206.6,94.4 L209,97 L211.2,98.6 L214.9,99.9 L219.9,98.6 L224.8,97.4 L229.8,94.9 L234.7,92.4 L239.1,90.5 L244.2,86.4 L248.4,83.9 L251.5,83.3 L253.5,86.4 L252.5,91.6 L250.9,94.9 L249.6,102.4 L247.1,109.8 L243.4,117.3 L239.7,124.7 L236,130.9 L231,135.9 L226,139.5 L221,142.6 L218.2,144 L215.7,145.5 L213.6,147.1 L211.5,145 L209.5,143.4 L207.4,145.5 L204.8,148.1 L201.7,150.7 L199.6,150.2 L196.5,149.6 L192.9,148.6 L189.8,149.6 L187.8,147.6 L185.7,146.3 L183.6,147.6 L182.1,150.7 L181.5,154.5 L179.3,157.3 L177.4,160.4 L175.8,162.9 L174.6,166 L174.2,170 L174.5,174.3 L176.3,177.8 L178.9,180.4 L180.6,182.1 L181.5,185 L182.8,188.2 L180.9,188.8 L178,188.2 L174.1,186.9 L170.2,186.9 L166.3,185.7 L162.4,183.8 L158.6,181.8 L155.7,179.9 L154.3,176 L153.7,172.1 L153.1,167.3 L151.8,163.4 L148.9,160.5 L145,158.6 L142.2,157.2 L136,156 L129.8,154.7 L123.6,154.2 L117.4,154.7 L111.2,154.7 L106.7,153.9 L102.6,150.7 L98.6,148 L93.2,146.7 L87,146.1 L82.5,142.7 L79,139.3 L77.9,134.8 L77.9,129.1 L76.8,124.5 L75.6,120 L74.5,116.6 L72.2,113.2 L71.1,109.8 L72.2,105.2 L71.8,102 L72.1,99.7 L70.6,98.6 L68.5,96.5 L66.4,93.4 L65.4,89.3 L64.4,86.2 L61.3,85.1 L56.1,84.1 L53,82 L52,78.9 L49.9,75.8 L47.8,72.7 L46.8,69.6 L44.7,67.6 L40.6,65.5 L37.5,63.4 L33.4,63.4 L29.2,62.4 L26.1,59.3 L24.5,56.2 L27.2,53.5 L30.3,51 L32.4,48.4 L33.4,45.3 L32.4,41.2 L30.3,38.1 L29.3,33.9Z" fill="none" stroke="#555" stroke-width="0.6"/>
<path d="M62.7,37.7 L64.2,37.1 L65.8,36.6 L67.3,35.9 L69.2,35.3 L70.7,34.1 L72.6,33.8 L74.5,33.5 L76.4,33.2 L78.3,33.3 L80.1,32.9 L82,33.2 L83.9,33 L85.8,32.8 L87.7,32.5 L90,32.8 L92.3,32.5 L94,32.9 L95.4,33.9 L96.8,34.8 L98.5,35.2 L99.7,36.5 L101.4,37 L102.4,38.3 L104,39 L104.8,40.5 L105.1,42.2 L105.9,43.7 L107,45 L107.2,46.7 L107.5,48.4 L108.2,50 L108.2,51.8 L108.7,53.4 L108.4,55.1 L108.9,56.7 L108.9,58.3 L108.7,60 L109.3,61.6 L109.9,63.2 L109.9,64.9 L111.2,66.1 L112.4,67.3 L113.6,68.6 L114.6,70.1 L116.1,71.1 L117.4,72.4 L118.5,74.3 L119.9,76.1 L121.1,77.3 L122.3,78.7 L123.6,79.8 L125.5,81 L127.3,82.3 L128.7,83.4 L129.4,85.1 L131,86 L131.9,88.1 L133.5,89.7 L134.5,91.8 L136,93.5 L137.1,95.5 L138.5,97.2 L139.4,98.8 L140.3,100.4 L140.9,102.1 L142.3,103.9 L143.4,105.9 L144.9,106.8 L145.9,108.3 L147.8,109.6 L150,110.5 L152.2,110.1 L154.5,109.8 L156.8,110 L159.1,109.5 L160.8,109.9 L162.5,110.5 L164,111.5 L165.8,111.8 L167.6,112.6 L169.5,112.8" fill="none" stroke="#1f5fa6" stroke-width="2.0" stroke-linejoin="round" stroke-linecap="round"/>
<path d="M88.9,33.6 L88.5,35.3 L87.6,36.8 L86.6,38.2 L85.5,39.5 L85.1,41.2 L84.3,42.7 L82.5,43.5 L81.4,45 L79.8,46.1 L78.4,47.2 L76.7,47.5 L75.2,48.4 L73.3,48.5 L71.4,49.3 L69.5,49.5 L67.3,50.1 L65,50" fill="none" stroke="#1f5fa6" stroke-width="1.6" stroke-linejoin="round" stroke-linecap="round"/>
<path d="M122.3,62.4 L122.9,64 L122.8,65.8 L123.6,67.4 L124,69 L125.2,70.4 L125.7,72 L126.1,73.6 L127.3,75 L128.3,76.5 L128.6,78.4 L129.8,79.8 L131.3,81.3 L132.2,83.2 L133.5,84.8 L134.8,86.6 L136,88.5 L136.9,90.3 L137.2,92.2 L137.7,94.1 L138.5,95.9" fill="none" stroke="#1f5fa6" stroke-width="1.5" stroke-linejoin="round" stroke-linecap="round"/>
<path d="M107.4,93.5 L109.2,94 L110.7,95.2 L112.4,95.9 L114.2,96 L115.8,96.7 L117.4,97.2 L119,96.5 L120.6,96.1 L122.3,95.9 L124.2,95.5 L125.8,94.5 L127.3,93.5 L129.1,92.7 L131,92.2 L132.7,93.2 L134.7,93.5 L136.1,94.5 L137.2,95.9" fill="none" stroke="#1f5fa6" stroke-width="1.6" stroke-linejoin="round" stroke-linecap="round"/>
<path d="M116.1,103.4 L118.2,103.7 L120.2,104.5 L122.3,104.6 L124.3,105.2 L126.5,105.1 L128.5,105.9 L130.5,106.7 L132.7,106.4 L134.7,107.1 L136.4,107.3 L138,108.1 L139.7,108.3 L141.6,109.1 L143.4,110.1 L145.9,109.6" fill="none" stroke="#1f5fa6" stroke-width="1.6" stroke-linejoin="round" stroke-linecap="round"/>
<path d="M156.2,61.2 L157.6,62.5 L159,63.8 L159.9,65.5 L161.4,66.8 L162.3,68.5 L163.6,70 L164.7,71.5 L165.3,73.2 L166.3,74.8 L167.6,76.8 L168.6,79 L169.2,80.5 L169.4,82.2 L170.4,83.5 L171,85 L171.4,86.7 L171.7,88.4 L172.8,89.9 L173,91.6 L172.5,93.9 L171.5,96 L170.4,97.9 L170,100 L169,101.9 L168.5,104 L168.2,106.1 L167.5,108 L168.5,111 L170,113.2 L171.7,114.4 L173,116 L173.8,117.4 L175,118.5 L176,120.5 L177,123.5 L177.4,126.3 L176.7,128.1 L176.8,130 L176.8,131.7 L175.9,133.3 L176,135 L175.3,136.9 L175.2,139 L174.8,140.6 L174.5,142.2 L174.1,144.1 L173.5,146 L173.1,147.7 L172,149 L170.7,150.5 L169.6,152.5 L169.8,154.5 L169.1,156.3 L168.7,158.4 L169.1,160.4 L169,162.2 L168.4,164 L168,165.7 L168.1,167.4 L167.6,169.1 L166.4,170.7 L165.8,172.6 L165.7,174.3 L165.8,176 L166.9,177.7 L167.6,179.5 L169.5,180.6 L171,182.1 L172.7,183.2 L174.5,183.9 L177.1,184.7 L178.9,186.5 L180.6,187.3 L182.3,188.2" fill="none" stroke="#1f5fa6" stroke-width="2.2" stroke-linejoin="round" stroke-linecap="round"/>
<path d="M177.4,126.3 L179.5,125 L181.7,123.4 L184.5,122 L185.8,120.9 L187.5,120.5 L188.8,119.3 L190.4,118.6 L191.8,117.6 L193.8,117.7 L195.7,117.3 L197.6,117 L199.5,116.5 L201.5,116.8 L203.4,116.2 L205.1,115.1 L207,114.5 L208.6,113.3 L210.5,112.8 L212.5,112.5 L214.5,112.6 L216.6,113.7 L218.6,114.8 L220.6,115 L222.3,116 L224.8,114.8 L225.8,113.3 L227.3,112.3 L228.4,111 L229.8,109.9 L231,108.6 L232,107.1 L233.5,106.1 L234.6,104.2 L236,102.4 L236.9,101 L237.2,99.4 L238.5,98.6 L240.2,101.1" fill="none" stroke="#1f5fa6" stroke-width="2.0" stroke-linejoin="round" stroke-linecap="round"/>
<path d="M131,131.9 L132,133.2 L133.4,134 L134.8,134.9 L136.6,136.3 L138.5,137.4 L140.3,138.1 L142.2,138.6 L143.7,139.6 L144.7,141.1 L146.6,140.7 L148.4,141.1 L150.4,141.3 L152.1,142.3 L153.8,143.9 L155.9,144.8 L157.6,146.2 L159.6,147.3 L161.2,148.8 L163.3,149.7 L165.1,150.2 L166.6,151.4 L169.3,152.2" fill="none" stroke="#1f5fa6" stroke-width="1.6" stroke-linejoin="round" stroke-linecap="round"/>
<path d="M165.8,135 L166,137 L166.4,139 L166.8,141 L167.2,143 L167.7,145.1 L168.5,147 L169.6,148.7 L170.5,150.5" fill="none" stroke="#1f5fa6" stroke-width="1.3" stroke-linejoin="round" stroke-linecap="round"/>
</g>
<rect x="12.5" y="4.5" width="265.5" height="212.3" fill="none" stroke="#111" stroke-width="1.1"/>
<line x1="50.3" y1="0.5" x2="50.3" y2="4.5" stroke="#555" stroke-width="0.6"/>
<line x1="113.4" y1="0.5" x2="113.4" y2="4.5" stroke="#555" stroke-width="0.6"/>
<line x1="175.7" y1="0.5" x2="175.7" y2="4.5" stroke="#555" stroke-width="0.6"/>
<line x1="238.9" y1="0.5" x2="238.9" y2="4.5" stroke="#555" stroke-width="0.6"/>
<line x1="49.5" y1="216.8" x2="49.5" y2="219.8" stroke="#555" stroke-width="0.6"/>
<line x1="112.8" y1="216.8" x2="112.8" y2="219.8" stroke="#555" stroke-width="0.6"/>
<line x1="175.7" y1="216.8" x2="175.7" y2="219.8" stroke="#555" stroke-width="0.6"/>
<line x1="239" y1="216.8" x2="239" y2="219.8" stroke="#555" stroke-width="0.6"/>
<line x1="9.3" y1="16" x2="12.5" y2="16" stroke="#555" stroke-width="0.6"/>
<line x1="278.0" y1="16" x2="281.0" y2="16" stroke="#555" stroke-width="0.6"/>
<line x1="9.3" y1="105.7" x2="12.5" y2="105.7" stroke="#555" stroke-width="0.6"/>
<line x1="278.0" y1="105.7" x2="281.0" y2="105.7" stroke="#555" stroke-width="0.6"/>
<line x1="9.3" y1="182.4" x2="12.5" y2="182.4" stroke="#555" stroke-width="0.6"/>
<line x1="278.0" y1="182.4" x2="281.0" y2="182.4" stroke="#555" stroke-width="0.6"/>
<text x="50.3" y="230.6" text-anchor="middle" font-size="9.5" fill="#222" stroke="#222" stroke-width="0.22">110°W</text>
<text x="114.2" y="230.6" text-anchor="middle" font-size="9.5" fill="#222" stroke="#222" stroke-width="0.22">100°W</text>
<text x="176.6" y="230.6" text-anchor="middle" font-size="9.5" fill="#222" stroke="#222" stroke-width="0.22">90°W</text>
<text x="239.2" y="230.6" text-anchor="middle" font-size="9.5" fill="#222" stroke="#222" stroke-width="0.22">80°W</text>
<text transform="translate(7,16.7) rotate(-90)" text-anchor="middle" font-size="9.6" fill="#222" stroke="#222" stroke-width="0.22">50°N</text>
<text transform="translate(7,105.9) rotate(-90)" text-anchor="middle" font-size="9.6" fill="#222" stroke="#222" stroke-width="0.22">40°N</text>
<text transform="translate(7,182.4) rotate(-90)" text-anchor="middle" font-size="9.6" fill="#222" stroke="#222" stroke-width="0.22">30°N</text>
<text x="16" y="19" font-size="10.8" fill="#222" stroke="#222" stroke-width="0.22">(a)</text>
<path d="M147.6,21.25 L151.3,18.6 L164.8,18.6 L164.8,23.9 L151.3,23.9 Z" fill="#b8622e"/>
<rect x="164.8" y="18.6" width="13.599999999999994" height="5.299999999999997" fill="#dea55a"/>
<rect x="178.4" y="18.6" width="14.099999999999994" height="5.299999999999997" fill="#ecc47c"/>
<rect x="192.5" y="18.6" width="13.0" height="5.299999999999997" fill="#f6e4a0"/>
<rect x="205.5" y="18.6" width="13.599999999999994" height="5.299999999999997" fill="#fdf8c0"/>
<rect x="219.1" y="18.6" width="13.200000000000017" height="5.299999999999997" fill="#e8f4c0"/>
<rect x="232.3" y="18.6" width="13.899999999999977" height="5.299999999999997" fill="#b8e2bc"/>
<path d="M246.2,18.6 L259.3,18.6 L263.5,21.25 L259.3,23.9 L246.2,23.9 Z" fill="#3aa89a"/>
<line x1="164.8" y1="18.6" x2="164.8" y2="23.9" stroke="#333" stroke-width="0.6"/>
<line x1="178.4" y1="18.6" x2="178.4" y2="23.9" stroke="#333" stroke-width="0.6"/>
<line x1="192.5" y1="18.6" x2="192.5" y2="23.9" stroke="#333" stroke-width="0.6"/>
<line x1="205.5" y1="18.6" x2="205.5" y2="23.9" stroke="#333" stroke-width="0.6"/>
<line x1="219.1" y1="18.6" x2="219.1" y2="23.9" stroke="#333" stroke-width="0.6"/>
<line x1="232.3" y1="18.6" x2="232.3" y2="23.9" stroke="#333" stroke-width="0.6"/>
<line x1="246.2" y1="18.6" x2="246.2" y2="23.9" stroke="#333" stroke-width="0.6"/>
<path d="M147.6,21.25 L151.3,18.6 L259.3,18.6 L263.5,21.25 L259.3,23.9 L151.3,23.9 Z" fill="none" stroke="#333" stroke-width="0.7"/>
<text x="206.2" y="15.9" text-anchor="middle" font-size="9.2" fill="#222" stroke="#222" stroke-width="0.22">soil moisture anomaly (%)</text>
<text x="164.3" y="34" text-anchor="middle" font-size="9.5" fill="#222" stroke="#222" stroke-width="0.22">-100</text>
<text x="192.3" y="34" text-anchor="middle" font-size="9.5" fill="#222" stroke="#222" stroke-width="0.22">-50</text>
<text x="218.8" y="34" text-anchor="middle" font-size="9.5" fill="#222" stroke="#222" stroke-width="0.22">0</text>
<text x="242.1" y="34" text-anchor="middle" font-size="9.5" fill="#222" stroke="#222" stroke-width="0.22">+50</text>
<rect x="45.1" y="189.8" width="60" height="4.7" fill="#433a36"/>
<text x="78" y="204.8" text-anchor="middle" font-size="9" fill="#222" stroke="#222" stroke-width="0.22">1000 km</text>
<rect x="165.4" y="161.8" width="6.6" height="6.6" fill="#8a8282" stroke="#222" stroke-width="0.8"/>
<text x="180.2" y="169" font-size="9.2" fill="#222" stroke="#222" stroke-width="0.22">Vicksburg</text>
<text x="147" y="208.9" font-size="9.4" font-style="italic" font-family="'Liberation Serif', serif" letter-spacing="0.6" fill="#333" stroke="#333" stroke-width="0.22">Gulf of Mexico</text>
<clipPath id="c306_4"><rect x="306.2" y="4.1" width="117.0" height="93.30000000000001"/></clipPath>
<g clip-path="url(#c306_4)">
<path d="M321.4,4.1 L321.4,4.1 L322.2,6.6 L323,4.1 L323,4.1Z" fill="#9c8f8a" stroke="#3b3433" stroke-width="0.6" stroke-linejoin="round"/>
<path d="M325.4,4.1 L325.4,4.1 L326.2,6.3 L327,4.1 L327,4.1Z" fill="#9c8f8a" stroke="#3b3433" stroke-width="0.6" stroke-linejoin="round"/>
<path d="M340.4,4.1 L340.4,4.1 L341.9,19.3 L343.5,4.1 L343.5,4.1Z" fill="#9c8f8a" stroke="#3b3433" stroke-width="0.6" stroke-linejoin="round"/>
<path d="M346.6,4.1 L346.6,4.1 L347.1,11.4 L347.2,15 L347.5,6.6 L347.7,15 L348.2,22.4 L349.3,26.3 L349.7,24.5 L349.9,7.2 L350.2,24.5 L350.6,22.4 L352.1,13.8 L352.9,11.4 L353.7,16.1 L354.5,27.1 L354.6,27.4 L354.9,8.3 L355.1,27.4 L355.6,27.9 L356.1,26.3 L356.4,5.4 L356.6,26.3 L356.8,25.5 L358.1,31.8 L359.2,35 L360.3,30.3 L361.5,27.9 L362.8,31 L363.9,24 L365.5,19.3 L367,20.8 L367.6,22.4 L368.8,19.3 L369.9,16.9 L371,13.8 L372.3,16.1 L372.5,15 L372.7,6 L373,15 L373.5,13 L374.6,10.6 L375.7,12.2 L377,16.1 L378.2,13 L379.3,10.6 L380.4,8.3 L381.7,11.4 L382.5,24 L383.3,27.9 L384,24 L384.8,9.8 L386.1,6.7 L387.2,5.1 L388.8,4.1 L388.8,4.1Z" fill="#9c8f8a" stroke="#3b3433" stroke-width="0.6" stroke-linejoin="round"/>
<path d="M394.9,4.1 L394.9,4.1 L396.2,16 L397.3,4.1 L397.3,4.1Z" fill="#9c8f8a" stroke="#3b3433" stroke-width="0.6" stroke-linejoin="round"/>
<path d="M400.4,4.1 L400.4,4.1 L401.5,14.4 L402.6,4.1 L402.6,4.1Z" fill="#9c8f8a" stroke="#3b3433" stroke-width="0.6" stroke-linejoin="round"/>
<clipPath id="c306_4n"><rect x="306.2" y="52.5" width="117.0" height="44.900000000000006"/></clipPath>
<clipPath id="c306_4p"><rect x="306.2" y="4.1" width="117.0" height="48.4"/></clipPath>
<path d="M306.2,52.5 L306.2,52.5 L307,53.8 L310.2,58 L313.3,63.1 L317.4,66.2 L321.6,69.3 L325.7,72.4 L328.8,73.5 L331.9,72.4 L336,70.4 L339.2,67.3 L342.3,64.2 L346.4,61.1 L350.5,59 L354.7,54.8 L357.2,52.5 L360,48.7 L368,40.6 L376.7,48.7 L381,46.2 L384.2,52.5 L386.2,54.8 L390.3,60 L394.5,60.6 L397.6,57.9 L400.7,54.8 L402.7,53.8 L404.8,54.8 L407.9,57.3 L412,58.5 L416.2,57.9 L421.3,57.5 L423.2,57.5 L423.2,52.5Z" fill="#596a89" clip-path="url(#c306_4n)"/>
<path d="M306.2,52.5 L306.2,52.5 L307,53.8 L310.2,58 L313.3,63.1 L317.4,66.2 L321.6,69.3 L325.7,72.4 L328.8,73.5 L331.9,72.4 L336,70.4 L339.2,67.3 L342.3,64.2 L346.4,61.1 L350.5,59 L354.7,54.8 L357.2,52.5 L360,48.7 L368,40.6 L376.7,48.7 L381,46.2 L384.2,52.5 L386.2,54.8 L390.3,60 L394.5,60.6 L397.6,57.9 L400.7,54.8 L402.7,53.8 L404.8,54.8 L407.9,57.3 L412,58.5 L416.2,57.9 L421.3,57.5 L423.2,57.5 L423.2,52.5Z" fill="#e0555c" clip-path="url(#c306_4p)"/>
<path d="M306.2,52.5 L307,53.8 L310.2,58 L313.3,63.1 L317.4,66.2 L321.6,69.3 L325.7,72.4 L328.8,73.5 L331.9,72.4 L336,70.4 L339.2,67.3 L342.3,64.2 L346.4,61.1 L350.5,59 L354.7,54.8 L357.2,52.5 L360,48.7 L368,40.6 L376.7,48.7 L381,46.2 L384.2,52.5 L386.2,54.8 L390.3,60 L394.5,60.6 L397.6,57.9 L400.7,54.8 L402.7,53.8 L404.8,54.8 L407.9,57.3 L412,58.5 L416.2,57.9 L421.3,57.5 L423.2,57.5" fill="none" stroke="#2a2a35" stroke-width="0.8" stroke-linejoin="round"/>
<line x1="306.2" y1="52.5" x2="423.2" y2="52.5" stroke="#2a2a35" stroke-width="0.8"/>
</g>
<rect x="306.2" y="4.1" width="117.0" height="93.30000000000001" fill="none" stroke="#222" stroke-width="1.1"/>
<line x1="302.4" y1="15" x2="306.2" y2="15" stroke="#444" stroke-width="0.7"/>
<text x="300.6" y="18.5" text-anchor="end" font-size="9.6" fill="#222" stroke="#222" stroke-width="0.22">2</text>
<line x1="302.4" y1="33.8" x2="306.2" y2="33.8" stroke="#444" stroke-width="0.7"/>
<text x="300.6" y="37.2" text-anchor="end" font-size="9.6" fill="#222" stroke="#222" stroke-width="0.22">1</text>
<line x1="302.4" y1="52.5" x2="306.2" y2="52.5" stroke="#444" stroke-width="0.7"/>
<text x="300.6" y="56" text-anchor="end" font-size="9.6" fill="#222" stroke="#222" stroke-width="0.22">0</text>
<line x1="302.4" y1="71.2" x2="306.2" y2="71.2" stroke="#444" stroke-width="0.7"/>
<text x="300.6" y="74.8" text-anchor="end" font-size="9.6" fill="#222" stroke="#222" stroke-width="0.22">-<tspan dx="-0.9">1</tspan></text>
<line x1="302.4" y1="90" x2="306.2" y2="90" stroke="#444" stroke-width="0.7"/>
<text x="300.6" y="93.5" text-anchor="end" font-size="9.6" fill="#222" stroke="#222" stroke-width="0.22">-<tspan dx="-0.9">2</tspan></text>
<line x1="423.2" y1="3.7" x2="425.7" y2="3.7" stroke="#888" stroke-width="0.6"/>
<line x1="423.2" y1="13.6" x2="425.7" y2="13.6" stroke="#888" stroke-width="0.6"/>
<line x1="423.2" y1="23.5" x2="425.7" y2="23.5" stroke="#888" stroke-width="0.6"/>
<line x1="423.2" y1="33.4" x2="425.7" y2="33.4" stroke="#888" stroke-width="0.6"/>
<line x1="423.2" y1="43.3" x2="425.7" y2="43.3" stroke="#888" stroke-width="0.6"/>
<line x1="332.5" y1="97.4" x2="332.5" y2="100.0" stroke="#333" stroke-width="0.7"/>
<line x1="359.9" y1="97.4" x2="359.9" y2="100.0" stroke="#333" stroke-width="0.7"/>
<line x1="387" y1="97.4" x2="387" y2="100.0" stroke="#333" stroke-width="0.7"/>
<line x1="413.9" y1="97.4" x2="413.9" y2="100.0" stroke="#333" stroke-width="0.7"/>
<text x="333.6" y="111.9" text-anchor="middle" font-size="9.3" fill="#222" stroke="#222" stroke-width="0.22">2012</text>
<text x="388" y="111.9" text-anchor="middle" font-size="9.3" fill="#222" stroke="#222" stroke-width="0.22">2013</text>
<text x="310.6" y="92.2" font-size="9.1" fill="#222" stroke="#222" stroke-width="0.22">(b) 2012 event</text>
<text x="369.7" y="120.4" text-anchor="middle" font-size="9" fill="#222" stroke="#222" stroke-width="0.22">Time [Years]</text>
<text transform="translate(291.6,47.5) rotate(-90)" text-anchor="middle" font-size="8.8" fill="#222" stroke="#222" stroke-width="0.22">Niño3.4 index</text>
<clipPath id="c432_4"><rect x="432.8" y="4.1" width="116.80000000000001" height="93.30000000000001"/></clipPath>
<g clip-path="url(#c432_4)">
<path d="M433.2,4.1 L433.2,4.1 L433.6,20.2 L434.5,18.5 L435.6,11.9 L436.6,5.3 L437.8,8.6 L438.9,13.6 L439.9,10.3 L441.1,8.6 L442.2,11.9 L443.6,15.2 L444.9,17.7 L446,20.2 L447.2,16.9 L448.2,8.6 L448.9,5.3 L449.9,11.9 L450.3,15.7 L450.5,8.6 L450.8,15.7 L451,18.5 L452.2,25.1 L453.2,32.6 L453.5,29.2 L453.7,12.6 L454,29.2 L454.1,26.8 L454.3,24.5 L454.6,5.9 L454.8,24.5 L455.1,21.8 L456.5,15.2 L457.6,7 L458.4,4.5 L459.3,4.5 L460.4,11.9 L461.8,21.8 L463.1,33.4 L464.2,36.7 L464.6,29.8 L464.8,14 L465.1,29.8 L465.1,26.8 L465.9,11.9 L466.7,18.5 L467.5,31.8 L468.4,26.8 L469.7,18.5 L470,13.6 L471.3,18.5 L471.8,15.4 L472.1,5.1 L472.3,15.4 L472.5,13.6 L473.6,16.9 L475,20.2 L476.3,16 L477.4,23.5 L477.9,28.3 L478.2,13.6 L478.4,28.3 L478.6,30.9 L479,32.5 L479.3,11 L479.5,32.5 L479.6,33.4 L480.4,26.8 L481.2,21.8 L481.5,22.6 L481.7,10.8 L482,22.6 L482.4,23.5 L483.6,18.5 L484.9,21.8 L485.3,19.5 L485.5,5 L485.8,19.5 L486.2,16.9 L487.4,20.2 L488.5,17.7 L489.5,13.6 L490.7,8.6 L491.5,5.3 L492.3,4.1 L492.3,4.1Z" fill="#9c8f8a" stroke="#3b3433" stroke-width="0.6" stroke-linejoin="round"/>
<path d="M495,4.1 L495,4.1 L495.6,5.2 L496.2,4.1 L496.2,4.1Z" fill="#9c8f8a" stroke="#3b3433" stroke-width="0.6" stroke-linejoin="round"/>
<path d="M512.1,4.1 L512.1,4.1 L513,15.2 L514.3,21 L514.7,14.7 L514.9,8.6 L515.2,14.7 L515.4,10.3 L517.1,8.6 L517.9,6.1 L519.2,9.4 L520.4,7 L521.6,5.3 L523,4.6 L524.5,5.3 L526.2,10.3 L527.8,15.2 L528.5,14.1 L528.7,5.6 L529,14.1 L529.2,13.6 L529.6,14.5 L529.8,6.6 L530.1,14.5 L530.3,15.2 L532,8.6 L532.8,4.1 L532.8,4.1Z" fill="#9c8f8a" stroke="#3b3433" stroke-width="0.6" stroke-linejoin="round"/>
<path d="M535.8,4.1 L535.8,4.1 L536.1,5.3 L537.4,8.6 L538.6,10.3 L539.4,7 L541,8.6 L542.7,5.3 L544.4,8.6 L545.7,11.9 L546.8,15.2 L547.3,12.3 L547.5,4.7 L547.8,12.3 L548,10.3 L549,5.3 L549.6,4.1 L549.6,4.1Z" fill="#9c8f8a" stroke="#3b3433" stroke-width="0.6" stroke-linejoin="round"/>
<clipPath id="c432_4n"><rect x="432.8" y="52.5" width="116.80000000000001" height="44.900000000000006"/></clipPath>
<clipPath id="c432_4p"><rect x="432.8" y="4.1" width="116.80000000000001" height="48.4"/></clipPath>
<path d="M432.8,52.5 L432.8,52.4 L438.6,52.9 L443.6,54.5 L446,57.4 L448.5,61.5 L451,64.8 L453.5,68.1 L458.1,71.1 L460.1,68.9 L462.6,66.4 L464.2,65.6 L466.7,66.4 L468.4,64 L470.8,60.7 L473.3,57.4 L475.8,54.9 L478.3,52.4 L479.1,51.6 L480.8,50.7 L482.4,51.9 L484.9,51.9 L487.4,48.3 L489.9,45 L492,42.5 L494.5,40.9 L499.1,38.2 L503.6,34.5 L507.7,32.3 L512.7,42 L518.4,52.3 L520.7,54.1 L525.2,55.7 L529.8,59.5 L534.3,55.7 L537.7,58.6 L542.3,62.5 L545.7,67 L548.6,73.9 L549.6,75.5 L549.6,52.5Z" fill="#596a89" clip-path="url(#c432_4n)"/>
<path d="M432.8,52.5 L432.8,52.4 L438.6,52.9 L443.6,54.5 L446,57.4 L448.5,61.5 L451,64.8 L453.5,68.1 L458.1,71.1 L460.1,68.9 L462.6,66.4 L464.2,65.6 L466.7,66.4 L468.4,64 L470.8,60.7 L473.3,57.4 L475.8,54.9 L478.3,52.4 L479.1,51.6 L480.8,50.7 L482.4,51.9 L484.9,51.9 L487.4,48.3 L489.9,45 L492,42.5 L494.5,40.9 L499.1,38.2 L503.6,34.5 L507.7,32.3 L512.7,42 L518.4,52.3 L520.7,54.1 L525.2,55.7 L529.8,59.5 L534.3,55.7 L537.7,58.6 L542.3,62.5 L545.7,67 L548.6,73.9 L549.6,75.5 L549.6,52.5Z" fill="#e0555c" clip-path="url(#c432_4p)"/>
<path d="M432.8,52.4 L438.6,52.9 L443.6,54.5 L446,57.4 L448.5,61.5 L451,64.8 L453.5,68.1 L458.1,71.1 L460.1,68.9 L462.6,66.4 L464.2,65.6 L466.7,66.4 L468.4,64 L470.8,60.7 L473.3,57.4 L475.8,54.9 L478.3,52.4 L479.1,51.6 L480.8,50.7 L482.4,51.9 L484.9,51.9 L487.4,48.3 L489.9,45 L492,42.5 L494.5,40.9 L499.1,38.2 L503.6,34.5 L507.7,32.3 L512.7,42 L518.4,52.3 L520.7,54.1 L525.2,55.7 L529.8,59.5 L534.3,55.7 L537.7,58.6 L542.3,62.5 L545.7,67 L548.6,73.9 L549.6,75.5" fill="none" stroke="#2a2a35" stroke-width="0.8" stroke-linejoin="round"/>
<line x1="432.8" y1="52.5" x2="549.6" y2="52.5" stroke="#2a2a35" stroke-width="0.8"/>
</g>
<rect x="432.8" y="4.1" width="116.80000000000001" height="93.30000000000001" fill="none" stroke="#222" stroke-width="1.1"/>
<line x1="429.0" y1="15" x2="432.8" y2="15" stroke="#444" stroke-width="0.7"/>
<line x1="429.0" y1="33.8" x2="432.8" y2="33.8" stroke="#444" stroke-width="0.7"/>
<line x1="429.0" y1="52.5" x2="432.8" y2="52.5" stroke="#444" stroke-width="0.7"/>
<line x1="429.0" y1="71.2" x2="432.8" y2="71.2" stroke="#444" stroke-width="0.7"/>
<line x1="429.0" y1="90" x2="432.8" y2="90" stroke="#444" stroke-width="0.7"/>
<line x1="549.6" y1="3.7" x2="552.1" y2="3.7" stroke="#888" stroke-width="0.6"/>
<text x="564.1" y="8.7" text-anchor="end" font-size="8.3" fill="#666" stroke="#666" stroke-width="0.22">0</text>
<line x1="549.6" y1="13.6" x2="552.1" y2="13.6" stroke="#888" stroke-width="0.6"/>
<text x="564.1" y="18.6" text-anchor="end" font-size="8.3" fill="#666" stroke="#666" stroke-width="0.22">-<tspan dx="-0.6">2</tspan></text>
<line x1="549.6" y1="23.5" x2="552.1" y2="23.5" stroke="#888" stroke-width="0.6"/>
<text x="564.1" y="28.5" text-anchor="end" font-size="8.3" fill="#666" stroke="#666" stroke-width="0.22">-<tspan dx="-0.6">4</tspan></text>
<line x1="549.6" y1="33.4" x2="552.1" y2="33.4" stroke="#888" stroke-width="0.6"/>
<text x="564.1" y="38.4" text-anchor="end" font-size="8.3" fill="#666" stroke="#666" stroke-width="0.22">-<tspan dx="-0.6">6</tspan></text>
<line x1="549.6" y1="43.3" x2="552.1" y2="43.3" stroke="#888" stroke-width="0.6"/>
<text x="564.1" y="48.3" text-anchor="end" font-size="8.3" fill="#666" stroke="#666" stroke-width="0.22">-<tspan dx="-0.6">8</tspan></text>
<line x1="454" y1="97.4" x2="454" y2="100.0" stroke="#333" stroke-width="0.7"/>
<line x1="480.9" y1="97.4" x2="480.9" y2="100.0" stroke="#333" stroke-width="0.7"/>
<line x1="508.2" y1="97.4" x2="508.2" y2="100.0" stroke="#333" stroke-width="0.7"/>
<line x1="534.9" y1="97.4" x2="534.9" y2="100.0" stroke="#333" stroke-width="0.7"/>
<text x="455.2" y="111.9" text-anchor="middle" font-size="9.3" fill="#222" stroke="#222" stroke-width="0.22">2006</text>
<text x="509.4" y="111.9" text-anchor="middle" font-size="9.3" fill="#222" stroke="#222" stroke-width="0.22">2007</text>
<text x="437.2" y="92.2" font-size="9.1" fill="#222" stroke="#222" stroke-width="0.22">(c) 2006 event</text>
<text x="496.2" y="120.4" text-anchor="middle" font-size="9" fill="#222" stroke="#222" stroke-width="0.22">Time [Years]</text>
<text transform="translate(573,38.7) rotate(-90)" text-anchor="middle" font-size="9" fill="#666" stroke="#666" stroke-width="0.22">Stage anomaly [m]</text>
<clipPath id="c306_122"><rect x="306.2" y="122.6" width="117.0" height="93.20000000000002"/></clipPath>
<g clip-path="url(#c306_122)">
<path d="M306.2,122.6 L306.2,122.6 L306.3,128.3 L307.3,122.6 L307.3,122.6Z" fill="#9c8f8a" stroke="#3b3433" stroke-width="0.6" stroke-linejoin="round"/>
<path d="M313.3,122.6 L313.3,122.6 L314.6,130.7 L316,122.6 L316,122.6Z" fill="#9c8f8a" stroke="#3b3433" stroke-width="0.6" stroke-linejoin="round"/>
<path d="M318.4,122.6 L318.4,122.6 L319.9,131.6 L321.4,122.6 L321.4,122.6Z" fill="#9c8f8a" stroke="#3b3433" stroke-width="0.6" stroke-linejoin="round"/>
<path d="M330,122.6 L330,122.6 L330.6,125.5 L331.2,122.6 L331.2,122.6Z" fill="#9c8f8a" stroke="#3b3433" stroke-width="0.6" stroke-linejoin="round"/>
<path d="M335,122.6 L335,122.6 L335.6,125.5 L336.2,122.6 L336.2,122.6Z" fill="#9c8f8a" stroke="#3b3433" stroke-width="0.6" stroke-linejoin="round"/>
<path d="M338.9,122.6 L338.9,122.6 L339.7,126.6 L340.5,129.9 L341.7,126.6 L343,129.9 L344.7,132.4 L345.5,130.8 L345.7,124.2 L346,130.8 L346.3,129.9 L347.6,134 L348.8,132.4 L348.9,133.8 L349.2,126.3 L349.4,133.8 L350,136.5 L351.3,134.9 L352.6,138.2 L353.8,147.3 L354.6,141.5 L355.4,136.5 L356.6,126.6 L357.6,125 L358.2,136.5 L359.2,152.2 L360.4,144.8 L361.5,136.5 L362.3,144.8 L363.3,153 L363.6,155.3 L363.8,133.1 L364.1,155.3 L364.5,158 L364.8,155.5 L365,125.7 L365.3,155.5 L365.6,153 L366.6,139.8 L367.8,128.3 L368.6,124.1 L369.4,130 L369.5,135.3 L369.8,128.2 L370,135.3 L370.3,143.1 L371.1,146.4 L371.9,136.5 L373.2,131.6 L373.3,132.7 L373.6,125.5 L373.8,132.7 L374.4,134.9 L375.6,139.8 L376.9,144.8 L377.1,143.7 L377.3,130.8 L377.6,143.7 L378.2,141.5 L378.4,143.7 L378.6,123.7 L378.9,143.7 L379.4,148.1 L380.5,158.8 L381.5,149.8 L382.7,133.2 L383.8,139.8 L384.1,134.7 L384.3,126.9 L384.6,134.7 L384.8,129.9 L385.5,125 L386.5,123 L386.5,122.6Z" fill="#9c8f8a" stroke="#3b3433" stroke-width="0.6" stroke-linejoin="round"/>
<path d="M389.5,122.6 L389.5,122.6 L390.1,125 L390.9,127.4 L392.1,125 L393.4,123 L394.2,128.3 L395,129.6 L396.3,127.9 L397.5,133.7 L398.6,131.2 L400,130.4 L401.3,132 L402.4,129.6 L403.6,131.2 L404.9,137 L406.2,131.2 L407.4,124.6 L408.6,123.8 L409.5,131.2 L409.9,137.4 L410.1,124.1 L410.4,137.4 L410.7,142.8 L411.5,144.4 L412.4,136.2 L413.5,134.5 L414.5,142.8 L415.5,149.4 L416.5,144.4 L416.8,140.3 L417,130.3 L417.3,140.3 L417.8,134.5 L419,127.9 L420.1,124.6 L421.1,123 L421.8,122.6 L421.8,122.6Z" fill="#9c8f8a" stroke="#3b3433" stroke-width="0.6" stroke-linejoin="round"/>
<clipPath id="c306_122n"><rect x="306.2" y="171.3" width="117.0" height="44.5"/></clipPath>
<clipPath id="c306_122p"><rect x="306.2" y="122.6" width="117.0" height="48.70000000000002"/></clipPath>
<path d="M306.2,171.3 L306.2,199 L306.7,199.2 L309.1,200.2 L312.2,198.1 L314.3,195 L316.4,190.9 L319.5,188.2 L322.6,186.7 L325.7,187.4 L328.8,188.2 L331.9,189.4 L335,187.4 L337.1,186.7 L339.2,188.2 L341.2,189.4 L344.3,187.4 L346.4,186.7 L349.5,190.9 L352.6,195 L355.7,198.1 L358.8,200.6 L361.5,203.5 L363.1,204.2 L366.2,200 L369.3,195.9 L372.4,191.8 L375.5,187.7 L377.5,186.2 L381.6,186.2 L385.8,185.2 L389.9,181.9 L394,178.8 L398.1,179 L402.3,181.5 L406.4,184.6 L410.5,187.3 L413.6,188.3 L416.7,187.3 L419.8,184.6 L423.2,182.5 L423.2,171.3Z" fill="#596a89" clip-path="url(#c306_122n)"/>
<path d="M306.2,171.3 L306.2,199 L306.7,199.2 L309.1,200.2 L312.2,198.1 L314.3,195 L316.4,190.9 L319.5,188.2 L322.6,186.7 L325.7,187.4 L328.8,188.2 L331.9,189.4 L335,187.4 L337.1,186.7 L339.2,188.2 L341.2,189.4 L344.3,187.4 L346.4,186.7 L349.5,190.9 L352.6,195 L355.7,198.1 L358.8,200.6 L361.5,203.5 L363.1,204.2 L366.2,200 L369.3,195.9 L372.4,191.8 L375.5,187.7 L377.5,186.2 L381.6,186.2 L385.8,185.2 L389.9,181.9 L394,178.8 L398.1,179 L402.3,181.5 L406.4,184.6 L410.5,187.3 L413.6,188.3 L416.7,187.3 L419.8,184.6 L423.2,182.5 L423.2,171.3Z" fill="#e0555c" clip-path="url(#c306_122p)"/>
<path d="M306.2,199 L306.7,199.2 L309.1,200.2 L312.2,198.1 L314.3,195 L316.4,190.9 L319.5,188.2 L322.6,186.7 L325.7,187.4 L328.8,188.2 L331.9,189.4 L335,187.4 L337.1,186.7 L339.2,188.2 L341.2,189.4 L344.3,187.4 L346.4,186.7 L349.5,190.9 L352.6,195 L355.7,198.1 L358.8,200.6 L361.5,203.5 L363.1,204.2 L366.2,200 L369.3,195.9 L372.4,191.8 L375.5,187.7 L377.5,186.2 L381.6,186.2 L385.8,185.2 L389.9,181.9 L394,178.8 L398.1,179 L402.3,181.5 L406.4,184.6 L410.5,187.3 L413.6,188.3 L416.7,187.3 L419.8,184.6 L423.2,182.5" fill="none" stroke="#2a2a35" stroke-width="0.8" stroke-linejoin="round"/>
<line x1="306.2" y1="171.3" x2="423.2" y2="171.3" stroke="#2a2a35" stroke-width="0.8"/>
</g>
<rect x="306.2" y="122.6" width="117.0" height="93.20000000000002" fill="none" stroke="#222" stroke-width="1.1"/>
<line x1="302.4" y1="133.8" x2="306.2" y2="133.8" stroke="#444" stroke-width="0.7"/>
<text x="300.6" y="137.3" text-anchor="end" font-size="9.6" fill="#222" stroke="#222" stroke-width="0.22">2</text>
<line x1="302.4" y1="152.6" x2="306.2" y2="152.6" stroke="#444" stroke-width="0.7"/>
<text x="300.6" y="156.1" text-anchor="end" font-size="9.6" fill="#222" stroke="#222" stroke-width="0.22">1</text>
<line x1="302.4" y1="171.3" x2="306.2" y2="171.3" stroke="#444" stroke-width="0.7"/>
<text x="300.6" y="174.8" text-anchor="end" font-size="9.6" fill="#222" stroke="#222" stroke-width="0.22">0</text>
<line x1="302.4" y1="190.1" x2="306.2" y2="190.1" stroke="#444" stroke-width="0.7"/>
<text x="300.6" y="193.6" text-anchor="end" font-size="9.6" fill="#222" stroke="#222" stroke-width="0.22">-<tspan dx="-0.9">1</tspan></text>
<line x1="302.4" y1="208.8" x2="306.2" y2="208.8" stroke="#444" stroke-width="0.7"/>
<text x="300.6" y="212.3" text-anchor="end" font-size="9.6" fill="#222" stroke="#222" stroke-width="0.22">-<tspan dx="-0.9">2</tspan></text>
<line x1="423.2" y1="122.2" x2="425.7" y2="122.2" stroke="#888" stroke-width="0.6"/>
<line x1="423.2" y1="132.1" x2="425.7" y2="132.1" stroke="#888" stroke-width="0.6"/>
<line x1="423.2" y1="142" x2="425.7" y2="142" stroke="#888" stroke-width="0.6"/>
<line x1="423.2" y1="151.9" x2="425.7" y2="151.9" stroke="#888" stroke-width="0.6"/>
<line x1="423.2" y1="161.8" x2="425.7" y2="161.8" stroke="#888" stroke-width="0.6"/>
<line x1="332.1" y1="215.8" x2="332.1" y2="218.4" stroke="#333" stroke-width="0.7"/>
<line x1="359.3" y1="215.8" x2="359.3" y2="218.4" stroke="#333" stroke-width="0.7"/>
<line x1="386.4" y1="215.8" x2="386.4" y2="218.4" stroke="#333" stroke-width="0.7"/>
<line x1="413.6" y1="215.8" x2="413.6" y2="218.4" stroke="#333" stroke-width="0.7"/>
<text x="360.5" y="230.3" text-anchor="middle" font-size="9.3" fill="#222" stroke="#222" stroke-width="0.22">2000</text>
<text x="414.2" y="230.3" text-anchor="middle" font-size="9.3" fill="#222" stroke="#222" stroke-width="0.22">2001</text>
<text x="310.6" y="210.6" font-size="9.1" fill="#222" stroke="#222" stroke-width="0.22">(c) 2000 event</text>
<text x="369.7" y="238.8" text-anchor="middle" font-size="9" fill="#222" stroke="#222" stroke-width="0.22">Time [Years]</text>
<text transform="translate(291.6,166.3) rotate(-90)" text-anchor="middle" font-size="8.8" fill="#222" stroke="#222" stroke-width="0.22">Niño3.4 index</text>
<clipPath id="c432_122"><rect x="432.8" y="122.6" width="116.80000000000001" height="93.20000000000002"/></clipPath>
<g clip-path="url(#c432_122)">
<path d="M433,122.6 L433,122.6 L433.3,129.9 L434.5,126.6 L435.3,129.9 L436.1,132.4 L437,130.7 L438.3,129.9 L439.4,126.6 L440.3,125.8 L441.1,128.3 L442.2,126.6 L443.6,125 L444.9,128.3 L446,131.6 L447.2,130.7 L448.5,133.2 L449.4,137.4 L450.2,135.7 L450.8,133.1 L451,123.6 L451.3,133.1 L451.5,131.6 L452.7,129.9 L453,129.5 L453.3,123.5 L453.5,129.5 L453.8,129.1 L454.2,129.5 L454.4,123.5 L454.7,129.5 L455.1,129.9 L456.5,126.6 L457.6,123.3 L458.3,122.6 L458.3,122.6Z" fill="#9c8f8a" stroke="#3b3433" stroke-width="0.6" stroke-linejoin="round"/>
<path d="M460.8,122.6 L460.8,122.6 L461.8,123.3 L463.4,125.8 L465,124.1 L466.7,123 L467.5,126.6 L468.7,131.6 L470,128.3 L470.8,136.5 L471.7,146.4 L472.5,134.9 L473.3,125.8 L474.1,125 L475,131.6 L476.3,141.5 L476.7,145.1 L476.9,128.5 L477.2,145.1 L477.4,148.1 L477.8,150.9 L478.1,127.7 L478.3,150.9 L478.6,153.1 L479.6,155.5 L480.4,150.6 L481.6,156.4 L482.4,161.5 L483.2,156.5 L484.5,160.5 L484.9,156.5 L485.1,137.6 L485.4,156.5 L485.7,153.1 L486.9,149.8 L488.2,148.1 L488.7,146.2 L488.9,128.7 L489.2,146.2 L489.8,144 L491.2,140.7 L491.5,141.1 L491.8,124.5 L492,141.1 L492.3,141.5 L493.5,139.8 L494.1,138.8 L494.3,126.1 L494.6,138.8 L494.8,138.2 L496.1,135.7 L496.5,136.2 L496.8,125.2 L497,136.2 L497.3,136.5 L497.7,134.7 L497.9,125.7 L498.2,134.7 L498.4,133.2 L498.8,132.4 L499.1,125.9 L499.3,132.4 L499.8,131.6 L501.1,133.2 L502.2,135.7 L503.9,137.4 L505,134.9 L506,128.3 L506.7,123.3 L507.5,124.5 L508.3,126 L509.3,129.9 L510,129.9 L511.3,140.7 L512.6,129.9 L513.3,122.6 L513.3,122.6Z" fill="#9c8f8a" stroke="#3b3433" stroke-width="0.6" stroke-linejoin="round"/>
<path d="M517,122.6 L517,122.6 L517.6,126.6 L518.3,122.6 L518.3,122.6Z" fill="#9c8f8a" stroke="#3b3433" stroke-width="0.6" stroke-linejoin="round"/>
<path d="M529.2,122.6 L529.2,122.6 L530.3,133.2 L531.1,140.7 L532,133.2 L532.8,125 L533.6,127.4 L534.4,124.1 L535,122.6 L535,122.6Z" fill="#9c8f8a" stroke="#3b3433" stroke-width="0.6" stroke-linejoin="round"/>
<path d="M542.8,122.6 L542.8,122.6 L543.5,127.4 L544.4,124.1 L546,125 L546.8,130.7 L547.7,126.6 L548.5,123.3 L549,122.6 L549,122.6Z" fill="#9c8f8a" stroke="#3b3433" stroke-width="0.6" stroke-linejoin="round"/>
<clipPath id="c432_122n"><rect x="432.8" y="171.3" width="116.80000000000001" height="44.5"/></clipPath>
<clipPath id="c432_122p"><rect x="432.8" y="122.6" width="116.80000000000001" height="48.70000000000002"/></clipPath>
<path d="M432.8,171.3 L432.8,148 L433.7,147.3 L437,144.8 L440.3,143.1 L443.6,142.8 L446.9,144.5 L450.2,146.4 L453.5,148.4 L456.8,150.1 L460.1,153 L463.4,156.7 L465.8,163.4 L471.1,167.5 L473.8,171.3 L475.2,175.5 L477.8,182.3 L480.5,187.6 L483.2,193 L485.9,197 L488.6,198.9 L492.6,199.7 L496.7,199.2 L499.4,197.8 L501.2,199.7 L502.8,204 L504.5,208.5 L507.4,210.5 L511.5,209.5 L515,208.5 L517,208.2 L519.3,204.3 L521.6,198.6 L523.9,196.4 L527.3,195.9 L530.7,193 L534.1,188.4 L537.5,185 L540.9,182.7 L544.3,180.5 L547.7,181.6 L549.6,182.7 L549.6,171.3Z" fill="#596a89" clip-path="url(#c432_122n)"/>
<path d="M432.8,171.3 L432.8,148 L433.7,147.3 L437,144.8 L440.3,143.1 L443.6,142.8 L446.9,144.5 L450.2,146.4 L453.5,148.4 L456.8,150.1 L460.1,153 L463.4,156.7 L465.8,163.4 L471.1,167.5 L473.8,171.3 L475.2,175.5 L477.8,182.3 L480.5,187.6 L483.2,193 L485.9,197 L488.6,198.9 L492.6,199.7 L496.7,199.2 L499.4,197.8 L501.2,199.7 L502.8,204 L504.5,208.5 L507.4,210.5 L511.5,209.5 L515,208.5 L517,208.2 L519.3,204.3 L521.6,198.6 L523.9,196.4 L527.3,195.9 L530.7,193 L534.1,188.4 L537.5,185 L540.9,182.7 L544.3,180.5 L547.7,181.6 L549.6,182.7 L549.6,171.3Z" fill="#e0555c" clip-path="url(#c432_122p)"/>
<path d="M432.8,148 L433.7,147.3 L437,144.8 L440.3,143.1 L443.6,142.8 L446.9,144.5 L450.2,146.4 L453.5,148.4 L456.8,150.1 L460.1,153 L463.4,156.7 L465.8,163.4 L471.1,167.5 L473.8,171.3 L475.2,175.5 L477.8,182.3 L480.5,187.6 L483.2,193 L485.9,197 L488.6,198.9 L492.6,199.7 L496.7,199.2 L499.4,197.8 L501.2,199.7 L502.8,204 L504.5,208.5 L507.4,210.5 L511.5,209.5 L515,208.5 L517,208.2 L519.3,204.3 L521.6,198.6 L523.9,196.4 L527.3,195.9 L530.7,193 L534.1,188.4 L537.5,185 L540.9,182.7 L544.3,180.5 L547.7,181.6 L549.6,182.7" fill="none" stroke="#2a2a35" stroke-width="0.8" stroke-linejoin="round"/>
<line x1="432.8" y1="171.3" x2="549.6" y2="171.3" stroke="#2a2a35" stroke-width="0.8"/>
</g>
<rect x="432.8" y="122.6" width="116.80000000000001" height="93.20000000000002" fill="none" stroke="#222" stroke-width="1.1"/>
<line x1="429.0" y1="133.8" x2="432.8" y2="133.8" stroke="#444" stroke-width="0.7"/>
<line x1="429.0" y1="152.6" x2="432.8" y2="152.6" stroke="#444" stroke-width="0.7"/>
<line x1="429.0" y1="171.3" x2="432.8" y2="171.3" stroke="#444" stroke-width="0.7"/>
<line x1="429.0" y1="190.1" x2="432.8" y2="190.1" stroke="#444" stroke-width="0.7"/>
<line x1="429.0" y1="208.8" x2="432.8" y2="208.8" stroke="#444" stroke-width="0.7"/>
<line x1="549.6" y1="122.2" x2="552.1" y2="122.2" stroke="#888" stroke-width="0.6"/>
<text x="564.1" y="127.2" text-anchor="end" font-size="8.3" fill="#666" stroke="#666" stroke-width="0.22">0</text>
<line x1="549.6" y1="132.1" x2="552.1" y2="132.1" stroke="#888" stroke-width="0.6"/>
<text x="564.1" y="137.1" text-anchor="end" font-size="8.3" fill="#666" stroke="#666" stroke-width="0.22">-<tspan dx="-0.6">2</tspan></text>
<line x1="549.6" y1="142" x2="552.1" y2="142" stroke="#888" stroke-width="0.6"/>
<text x="564.1" y="147" text-anchor="end" font-size="8.3" fill="#666" stroke="#666" stroke-width="0.22">-<tspan dx="-0.6">4</tspan></text>
<line x1="549.6" y1="151.9" x2="552.1" y2="151.9" stroke="#888" stroke-width="0.6"/>
<text x="564.1" y="156.9" text-anchor="end" font-size="8.3" fill="#666" stroke="#666" stroke-width="0.22">-<tspan dx="-0.6">6</tspan></text>
<line x1="549.6" y1="161.8" x2="552.1" y2="161.8" stroke="#888" stroke-width="0.6"/>
<text x="564.1" y="166.8" text-anchor="end" font-size="8.3" fill="#666" stroke="#666" stroke-width="0.22">-<tspan dx="-0.6">8</tspan></text>
<line x1="458.5" y1="215.8" x2="458.5" y2="218.4" stroke="#333" stroke-width="0.7"/>
<line x1="486" y1="215.8" x2="486" y2="218.4" stroke="#333" stroke-width="0.7"/>
<line x1="513.2" y1="215.8" x2="513.2" y2="218.4" stroke="#333" stroke-width="0.7"/>
<line x1="540.2" y1="215.8" x2="540.2" y2="218.4" stroke="#333" stroke-width="0.7"/>
<text x="460.5" y="230.3" text-anchor="middle" font-size="9.3" fill="#222" stroke="#222" stroke-width="0.22">1988</text>
<text x="515.5" y="230.3" text-anchor="middle" font-size="9.3" fill="#222" stroke="#222" stroke-width="0.22">1989</text>
<text x="437.2" y="210.6" font-size="9.1" fill="#222" stroke="#222" stroke-width="0.22">(d) 1988 event</text>
<text x="496.2" y="238.8" text-anchor="middle" font-size="9" fill="#222" stroke="#222" stroke-width="0.22">Time [Years]</text>
<text transform="translate(573,157.2) rotate(-90)" text-anchor="middle" font-size="9" fill="#666" stroke="#666" stroke-width="0.22">Stage anomaly [m]</text>
</svg></body></html>
